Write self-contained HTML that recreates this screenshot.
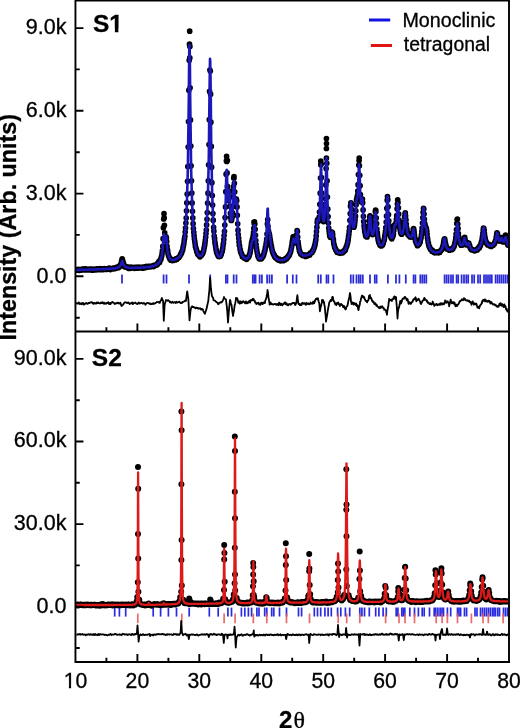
<!DOCTYPE html>
<html><head><meta charset="utf-8"><title>XRD</title>
<style>html,body{margin:0;padding:0;background:#fff;width:520px;height:728px;overflow:hidden}svg{display:block}</style>
</head><body>
<svg width="520" height="728" viewBox="0 0 520 728">
<rect width="520" height="728" fill="#fff"/>
<defs><clipPath id="c1"><rect x="76" y="1.5" width="432.2" height="329"/></clipPath><clipPath id="c2"><rect x="76" y="332.4" width="432.2" height="328.7"/></clipPath></defs>
<g clip-path="url(#c1)">
<g stroke="#2a2ad8" stroke-width="1.75"><path d="M122 274.4V283.6"/><path d="M163.6 274.4V283.6"/><path d="M166.5 274.4V283.6"/><path d="M189 274.4V283.6"/><path d="M210.2 274.4V283.6"/><path d="M225.9 274.4V283.6"/><path d="M227.5 274.4V283.6"/><path d="M233.7 274.4V283.6"/><path d="M236.5 274.4V283.6"/><path d="M252.8 274.4V283.6"/><path d="M254.3 274.4V283.6"/><path d="M255.6 274.4V283.6"/><path d="M259.6 274.4V283.6"/><path d="M261.9 274.4V283.6"/><path d="M267.1 274.4V283.6"/><path d="M269.5 274.4V283.6"/><path d="M271.9 274.4V283.6"/><path d="M287.1 274.4V283.6"/><path d="M292.8 274.4V283.6"/><path d="M296.5 274.4V283.6"/><path d="M318.2 274.4V283.6"/><path d="M320.8 274.4V283.6"/><path d="M326.5 274.4V283.6"/><path d="M328.3 274.4V283.6"/><path d="M333.5 274.4V283.6"/><path d="M350.8 274.4V283.6"/><path d="M353.3 274.4V283.6"/><path d="M356.5 274.4V283.6"/><path d="M358.8 274.4V283.6"/><path d="M360.6 274.4V283.6"/><path d="M362.8 274.4V283.6"/><path d="M370 274.4V283.6"/><path d="M374.8 274.4V283.6"/><path d="M376.6 274.4V283.6"/><path d="M387.9 274.4V283.6"/><path d="M396 274.4V283.6"/><path d="M399.4 274.4V283.6"/><path d="M405.8 274.4V283.6"/><path d="M413.6 274.4V283.6"/><path d="M415.4 274.4V283.6"/><path d="M420.3 274.4V283.6"/><path d="M422.3 274.4V283.6"/><path d="M424.3 274.4V283.6"/><path d="M426.3 274.4V283.6"/><path d="M444.6 274.4V283.6"/><path d="M446.6 274.4V283.6"/><path d="M448.6 274.4V283.6"/><path d="M451 274.4V283.6"/><path d="M453 274.4V283.6"/><path d="M456.6 274.4V283.6"/><path d="M458.2 274.4V283.6"/><path d="M461.6 274.4V283.6"/><path d="M464 274.4V283.6"/><path d="M466.3 274.4V283.6"/><path d="M468.2 274.4V283.6"/><path d="M472 274.4V283.6"/><path d="M474.2 274.4V283.6"/><path d="M478 274.4V283.6"/><path d="M480.2 274.4V283.6"/><path d="M484 274.4V283.6"/><path d="M486 274.4V283.6"/><path d="M488 274.4V283.6"/><path d="M490 274.4V283.6"/><path d="M491.8 274.4V283.6"/><path d="M495.6 274.4V283.6"/><path d="M497.6 274.4V283.6"/><path d="M499.6 274.4V283.6"/><path d="M501.6 274.4V283.6"/><path d="M503.6 274.4V283.6"/><path d="M505.6 274.4V283.6"/><path d="M507.6 274.4V283.6"/></g>
<polyline fill="none" stroke="#000" stroke-width="1.8" stroke-linejoin="round" points="76.3,303.6 76.7,303.1 77.1,303.6 77.5,303.5 77.9,303.6 78.3,303.2 78.7,302.4 79.1,302.8 79.5,303.6 79.9,304.1 80.3,303.8 80.7,303.4 81.1,303.1 81.5,304.1 81.9,304.3 82.3,303.7 82.7,303.1 83.1,302.9 83.5,303.9 83.9,304.7 84.3,304.3 84.7,304.1 85.1,303.6 85.5,303.2 85.9,303.6 86.3,303 86.7,303.1 87.1,303.5 87.5,303.8 87.9,303.7 88.3,303.4 88.7,302.9 89.1,302.7 89.5,303 89.9,302.8 90.3,302.5 90.7,302.5 91.1,302.6 91.5,302.2 91.9,302.2 92.3,302.4 92.7,303.2 93.1,303.7 93.5,303.9 93.9,302.8 94.3,302.9 94.7,303.4 95.1,303.2 95.5,303.3 95.9,303.8 96.3,303.1 96.7,302.5 97.1,302.5 97.5,303.2 97.9,303.1 98.3,302.5 98.7,302.7 99.1,303.3 99.5,303.4 99.9,303.1 100.3,303.4 100.7,303.2 101.1,302.5 101.5,302.8 101.9,303.1 102.3,302.6 102.7,302.1 103.1,302.8 103.5,303.6 103.9,303.5 104.3,302.8 104.7,303.7 105.1,303.1 105.5,303.5 105.9,303.8 106.3,303.6 106.7,303.1 107.1,302.7 107.5,303 107.9,302.5 108.3,302.3 108.7,303.9 109.1,304 109.5,303.7 109.9,303.1 110,303 110.3,304.1 110.7,303.9 111.1,303.1 111.5,302.5 111.9,302.5 112.3,301.9 112.7,302.1 113.1,302.7 113.5,302.7 113.9,302.9 114.3,303.3 114.7,304 115.1,303.9 115.5,303.5 115.9,303.5 116.3,302.9 116.7,303 117.1,303.3 117.5,302.7 117.9,302.7 118.3,302.6 118.7,303.3 119.1,303.7 119.5,303.2 119.9,303 120,303.2 120.3,302.8 120.7,303.5 121.1,305.1 121.5,306 121.9,305.6 122.2,305.5 122.3,305.5 122.7,304.9 123.1,304.6 123.5,304 123.9,303.4 124,303 124.3,302.8 124.7,302.5 125.1,302.2 125.5,302.4 125.9,302.4 126.3,302.6 126.7,302.7 127.1,303 127.5,303 127.9,302.4 128.3,302.4 128.7,302.7 129.1,303.5 129.5,304 129.9,303.7 130.3,303.3 130.7,303.5 131.1,303 131.5,303.4 131.9,302.7 132.3,302.4 132.7,304 133.1,304 133.5,303 133.9,303.1 134.3,303.1 134.7,303 135.1,302.5 135.5,302.8 135.9,303.3 136.3,303.6 136.7,303.8 137.1,303.8 137.5,304.1 137.9,303.4 138.3,303 138.7,302.4 139.1,302.7 139.5,303.5 139.9,303.2 140.3,303.4 140.7,303.2 141.1,302.9 141.5,303 141.9,303 142.3,303.2 142.7,303.7 143.1,303.6 143.5,303.1 143.9,303 144.3,303.4 144.7,303.6 145.1,304.2 145.5,304.7 145.9,304.1 146.3,303.5 146.7,303.2 147.1,302.9 147.5,302.8 147.9,302.9 148.3,303.1 148.7,303.3 149.1,303.7 149.5,303.4 149.9,303.2 150,303.5 150.3,304 150.7,304.1 151.1,304.3 151.5,304.1 151.9,303.9 152.3,303.4 152.7,303.7 153.1,304 153.5,303.1 153.9,303.5 154.3,303.8 154.7,303.3 155.1,303.3 155.5,303.2 155.9,302.6 156.3,302.5 156.7,302.1 157.1,301.9 157.5,302 157.9,302.2 158.3,302.3 158.7,302.2 159.1,301.9 159.5,302.9 159.9,302.9 160,302 160.3,301.4 160.7,300.7 161.1,300.2 161.5,299.2 161.9,298 162,298.3 162.3,300.1 162.7,299.9 163.1,301 163.1,301.3 163.5,312.5 163.8,320.8 163.9,318.6 164.3,311 164.6,305 164.7,304.7 165.1,303 165.5,301.7 165.9,300.4 166,300 166.3,300.1 166.7,300.4 167.1,300.3 167.5,300.8 167.9,300.6 168.3,300.1 168.7,300.8 169.1,301 169.5,301.6 169.9,302.3 170,302 170.3,301.6 170.7,302.5 171.1,302.5 171.5,302.8 171.9,302.3 172.3,301.8 172.7,302.2 173.1,302.8 173.5,302.7 173.9,302.4 174.3,302.2 174.7,302.1 175.1,302.3 175.5,303 175.9,302.4 176.3,301.8 176.7,302.1 177.1,302.7 177.5,302.7 177.9,302.3 178.3,302.1 178.7,302.1 179.1,301.6 179.5,301.8 179.9,302.5 180,302.5 180.3,302.7 180.7,303 181.1,302.7 181.5,302.6 181.9,303 182.3,302.5 182.7,301.9 183.1,302 183.5,301.8 183.9,301.3 184.3,301.3 184.7,301 185.1,300.4 185.5,300.7 185.9,300.8 186,301 186.3,297.8 186.7,295 187.1,292.1 187.2,291.4 187.5,293.2 187.9,296.3 188.3,298.8 188.4,300 188.7,305.8 189.1,312.6 189.5,320 189.5,320.3 189.9,316.3 190.3,312.6 190.6,310 190.7,309.9 191.1,308.1 191.5,307.2 191.9,306.5 192,307 192.3,306.4 192.7,306.7 193.1,307.1 193.5,307 193.9,307.4 194.3,307.5 194.7,307.3 195.1,307.8 195.5,308.4 195.9,308.1 196.3,307.6 196.7,307.7 197,308 197.1,308.1 197.5,308.4 197.9,308 198.3,308.3 198.7,308.8 199.1,308.5 199.5,308.5 199.9,308.2 200.3,308.3 200.7,308.9 201.1,309.7 201.5,309.2 201.9,308.9 202.3,309 202.7,309.4 203,309.5 203.1,310.2 203.5,311.5 203.9,312 204.3,313 204.7,313.6 205,313.8 205.1,313 205.5,311.9 205.9,310.8 206.3,309.2 206.5,309 206.7,308.1 207.1,306.2 207.5,304.3 207.9,302.6 208.3,301 208.3,300.9 208.7,296.4 209.1,292.5 209.4,290 209.5,288.2 209.9,280.9 210.1,277.5 210.3,279.6 210.7,285.2 211,289 211.1,289.7 211.5,293.1 211.9,295.8 212,296 212.3,296.8 212.7,297.1 213.1,297.8 213.5,300 213.5,299.6 213.9,300.1 214.3,300.5 214.7,300.7 215.1,300.6 215.5,301.4 215.9,301.5 216.3,302 216.7,302.4 217.1,302.5 217.5,302.7 217.9,303.3 218,304 218.3,304.2 218.7,303.8 219.1,303 219.5,302.7 219.9,302.6 220.3,302.6 220.7,302.1 221.1,302.6 221.5,302.1 221.9,301.7 222,302 222.3,301.8 222.7,300.7 223.1,299.8 223.5,298.7 223.9,298 224,297 224.3,297.8 224.7,298.6 225.1,298.9 225.5,299.2 225.9,299.5 226,300 226.3,302.6 226.7,305.5 227.1,309.3 227.2,310 227.5,314.5 227.9,320.1 228,322.5 228.3,318.9 228.7,313.5 229,310 229.1,308.2 229.5,304.8 229.9,300.9 230,300 230.3,300.5 230.7,302.3 231.1,303.8 231.5,305 231.5,304.7 231.9,307.9 232.3,311.5 232.7,313.7 233,316 233.1,315.1 233.5,312.8 233.9,311.3 234.2,309 234.3,308.1 234.7,305.3 235.1,303.9 235.5,301.8 235.9,299.3 236,298 236.3,298 236.7,298.3 237.1,298.1 237.5,299 237.9,301 238,301 238.3,302.8 238.7,301.9 239.1,301.4 239.5,302.7 239.9,303.7 240,302 240.3,301.3 240.7,302.4 241.1,303.1 241.5,301.9 241.9,301.7 242.3,302.7 242.7,302.2 243.1,301.2 243.5,301.3 243.9,301.6 244.3,302.3 244.7,302.7 245.1,303.4 245.5,302.7 245.9,301.4 246.3,302.5 246.7,303.3 247.1,303.3 247.5,303.2 247.9,302 248.3,301.8 248.7,302.5 249.1,301.2 249.5,300.7 249.9,302.4 250,302.5 250.3,301.4 250.7,300.3 251.1,299.8 251.5,299.9 251.9,300.5 252.3,300.2 252.7,298.9 253.1,299.7 253.5,299.8 253.5,298.8 253.9,300.5 254.3,300.5 254.7,300.6 255.1,302.6 255.5,302.3 255.9,302.9 256,303 256.3,304.1 256.7,303.3 257.1,303.5 257.5,303 257.9,303.5 258.3,302.6 258.7,303.1 259.1,304.5 259.5,303.9 259.9,303.9 260.3,304.9 260.7,303.7 261.1,302.7 261.5,303 261.9,302.6 262.3,303.9 262.7,304.1 263.1,302.7 263.5,302.4 263.9,302.9 264.3,302.8 264.7,302.4 265,303 265.1,301 265.5,300.1 265.9,299.1 266.3,297.9 266.6,297 266.7,295.6 267.1,293.7 267.5,290.9 267.5,289.9 267.9,292.1 268.3,295.3 268.5,298 268.7,298.4 269.1,301.1 269.5,303 269.5,304.6 269.9,304.5 270.3,303 270.7,302.5 271.1,303.8 271.5,304.1 271.9,304.3 272.3,304 272.7,304.5 273.1,304.6 273.5,304.4 273.9,304.2 274.3,304 274.7,303.9 275.1,304.1 275.5,304.3 275.9,304 276.3,304.9 276.7,304.4 277.1,304.5 277.5,303.9 277.9,304.2 278.3,305.3 278.7,303.8 279.1,302.6 279.5,302.9 279.9,304.1 280,304 280.3,305.1 280.7,304.5 281.1,303.6 281.5,304.2 281.9,305.1 282.3,305.4 282.7,304.2 283.1,304.4 283.5,304.1 283.9,303.3 284.3,303.6 284.7,303.1 285.1,302.2 285.5,303.9 285.9,304.4 286.3,303.4 286.7,303.2 287.1,304.9 287.5,304.9 287.9,305.3 288.3,305.3 288.7,304.2 289.1,304.4 289.5,304 289.9,303.9 290,304 290.3,304.3 290.7,304.8 291.1,304.2 291.5,303.6 291.9,303.5 292.3,303.5 292.7,302.8 293.1,302.8 293.5,303 293.9,302.8 294.3,302.9 294.7,303.3 295.1,305 295.5,304.9 295.9,303.8 296,303 296.3,303.2 296.7,300 297.1,297 297.4,295.2 297.5,296.7 297.9,300.1 298.3,302.8 298.6,304 298.7,304.1 299.1,304.1 299.5,303.9 299.9,305.1 300.3,304.3 300.7,304.2 301.1,305.1 301.5,304.9 301.9,303.4 302.3,303 302.7,302.8 303.1,303.7 303.5,303.8 303.9,303.5 304.3,303.2 304.7,303.3 305.1,303.5 305.5,304.6 305.9,304.8 306.3,302.9 306.7,303.2 307.1,303.7 307.5,304 307.9,303.3 308.3,303.3 308.7,303.3 309.1,304.3 309.5,304.2 309.9,304 310,304 310.3,303.3 310.7,302.5 311.1,303.5 311.5,303.5 311.9,303.3 312.3,303.8 312.7,303.5 313.1,301.6 313.5,301.7 313.9,303.3 314.3,303 314.7,301 315,301.3 315.1,300.2 315.5,299.8 315.9,299 316.3,299.2 316.7,298.3 317.1,298.3 317.5,299.1 317.9,298.3 318,298.5 318.3,300.3 318.7,301.9 319.1,302.6 319.2,303 319.5,305.9 319.9,311.3 320,311 320.3,308.7 320.7,307.1 321.1,305.7 321.5,303.9 321.9,302.6 322,300 322.3,300.3 322.7,300.1 323.1,300.1 323.5,301.4 323.9,302.9 324,302 324.3,304.7 324.7,306 325.1,310 325.2,312 325.5,314.3 325.9,319.2 326,321.5 326.3,319.9 326.7,317.4 327,316 327.1,315.6 327.5,312.6 327.9,309.6 328,310 328.3,307.5 328.7,306.1 329.1,303 329.5,302 329.5,302.4 329.9,301.4 330.3,300.8 330.7,300 331.1,301 331.5,300.7 331.9,298.9 332.3,296.8 332.7,296.9 333,297.5 333.1,299.6 333.5,300.2 333.9,301.4 334.3,301.6 334.7,302.7 335,304 335.1,303.9 335.5,303.2 335.9,304.8 336.3,305.1 336.7,303.3 337.1,302.9 337.5,303.9 337.9,303.2 338.3,302.5 338.7,304.3 339.1,304.6 339.5,304.7 339.9,306.1 340,304.5 340.3,304.1 340.7,304.3 341.1,303.9 341.5,304.3 341.9,305.1 342.3,304.9 342.7,305.5 343.1,307.1 343.5,307.2 343.9,307 344,306 344.3,307.4 344.7,308.4 345.1,308.6 345.5,309.5 345.9,308.5 346,309 346.3,306.8 346.7,306.4 347.1,306.4 347.5,305.6 347.9,303.2 348,303 348.3,301.4 348.7,299.5 349.1,297.9 349.4,298 349.5,295.8 349.9,293.4 350,293 350.3,294.8 350.7,297.7 350.8,300 351.1,302 351.5,303 351.5,304 351.9,303.8 352.3,302.6 352.7,302.4 353.1,304.1 353.5,304.5 353.9,302.9 354.3,303 354.7,304.1 355.1,304.4 355.5,304.8 355.9,303.6 356,303.3 356.3,303.9 356.7,306.2 357.1,305.6 357.5,305.3 357.9,307.6 358.3,309.8 358.5,310 358.7,309.2 359.1,306.9 359.5,305.6 359.9,304 360,302 360.3,302 360.7,300.4 361.1,298.4 361.5,297.2 361.9,295.7 362,295.6 362.3,296.1 362.7,295.7 363.1,297.2 363.5,297.7 363.9,296.9 364,297 364.3,297.3 364.7,298.8 365.1,299.8 365.5,300.4 365.9,301.1 366.3,301 366.7,301.4 367,302.3 367.1,302.3 367.5,301.4 367.9,300.4 368.3,300.4 368.7,298.6 369.1,295.6 369.5,295.5 369.9,295 370,295.6 370.3,298.4 370.7,297.5 371.1,297.9 371.5,298.8 371.9,300.2 372,300 372.3,301.3 372.7,300.9 373.1,302.1 373.5,301.7 373.9,302.7 374.3,304.1 374.7,304 375.1,303.1 375.5,303.4 375.9,304.3 376,305 376.3,305.7 376.7,304.8 377.1,305.7 377.5,306.5 377.9,306.7 378.3,307.1 378.7,307.9 379.1,307.7 379.5,307.8 379.9,308.2 380,307 380.3,306.5 380.7,307.8 381.1,307.6 381.5,307.2 381.9,306.5 382.3,306.2 382.7,307.3 383.1,308 383.5,308.5 383.9,308.3 384,309 384.3,309.9 384.7,309.6 385.1,309.6 385.5,309.9 385.9,310.3 386.2,312 386.3,312.1 386.7,313.2 387,314.8 387.1,313.1 387.5,310.2 387.9,308.2 388,307 388.3,306.1 388.7,302.3 389,301 389.1,298.9 389.5,299.2 389.9,300.5 390.3,300.2 390.7,300.1 391.1,299.9 391.5,300.5 391.9,301 392,300 392.3,299.1 392.7,299 393.1,299.3 393.5,297.9 393.9,297 394.3,296.4 394.7,296.6 395.1,298.4 395.5,299.3 395.9,297.3 396,297 396.3,301 396.7,305.2 397,310 397.1,311.1 397.5,317.7 397.5,318.5 397.9,312.5 398.2,310 398.3,309.8 398.7,307.8 399,307 399.1,307.3 399.5,305 399.9,303.1 400,302 400.3,300.8 400.7,302.6 401.1,303.5 401.5,302.4 401.9,301 402.3,299.1 402.7,298.8 403.1,298.3 403.5,298.4 403.9,298.8 404.3,297.7 404.7,296.9 405,297.5 405.1,296.9 405.5,297.9 405.9,297.8 406.3,298.8 406.7,300.4 407.1,299.2 407.5,299 407.9,300.3 408.3,302.7 408.7,303.9 409.1,302.9 409.5,302.2 409.9,302.9 410,303.3 410.3,303 410.7,303.9 411.1,303.7 411.5,302.3 411.9,302 412.3,302 412.7,301.5 413,300 413.1,300.5 413.5,299.6 413.9,299 414.3,299.3 414.7,299 415.1,298 415.5,297.3 415.9,298.3 416,299 416.3,301.3 416.7,300.7 417.1,300.4 417.5,299.4 417.9,299.5 418.3,299.6 418.7,298.8 419,300 419.1,299.9 419.5,300.5 419.9,301 420.3,302.5 420.7,303.6 421,304 421.1,304 421.5,302.9 421.9,302.4 422.3,301.4 422.7,300.4 423.1,300.1 423.5,300.3 423.9,300.1 424,298.8 424.3,297.9 424.7,298.4 425.1,299.2 425.5,299.8 425.9,299.7 426.3,300.2 426.7,301.3 427,301 427.1,300.6 427.5,302.5 427.9,302.9 428.3,302.4 428.7,303 429.1,303.1 429.5,304.1 429.9,303.8 430,304 430.3,303.3 430.7,303.5 431.1,304.2 431.5,304.5 431.9,304.2 432.3,303 432.7,301.5 433.1,303.1 433.5,303.2 433.9,304.8 434.3,305.9 434.7,305.4 435,305 435.1,304.7 435.5,304.6 435.9,304.2 436.3,303.9 436.7,304.1 437.1,305.3 437.5,305.1 437.9,305.1 438.3,304.4 438.7,304.2 439.1,304.2 439.5,304.7 439.9,304.9 440,304 440.3,303.2 440.7,303.4 441.1,304.6 441.5,303.6 441.9,303.4 442.3,304.5 442.7,304.4 443.1,303.4 443.5,303.2 443.9,304.3 444.3,303.4 444.7,302.6 445,302 445.1,300.5 445.5,300.8 445.9,302.4 446.3,302.8 446.7,302.2 447.1,301.4 447.5,301.3 447.9,302 448.3,302.2 448.7,304.1 449,303.5 449.1,306.3 449.5,304.7 449.9,302.7 450.3,301.1 450.7,299.7 451.1,301.2 451.5,302.5 451.9,303.3 452.3,303.2 452.7,302.8 453,302 453.1,303.1 453.5,303.5 453.9,302.3 454.3,302.3 454.7,302.9 455.1,305.4 455.5,306.2 455.9,305.6 456.3,304.6 456.7,305.4 457,306 457.1,305.8 457.5,305.2 457.9,304.8 458.3,303.9 458.7,303.8 459.1,302.9 459.5,301.6 459.9,300.9 460,301 460.3,301.3 460.7,300.8 461.1,300.6 461.5,299.8 461.9,299.2 462.3,300.1 462.7,299.6 463.1,300.2 463.5,299.7 463.9,298.1 464,299.5 464.3,298.6 464.7,298.6 465.1,298.9 465.5,300.2 465.9,300.3 466.3,300.5 466.7,300.4 467.1,300.6 467.5,300.3 467.9,300.9 468,301 468.3,301.2 468.7,300.7 469.1,300.6 469.5,301.7 469.9,302.2 470.3,301.8 470.7,301.9 471.1,303.5 471.5,304.8 471.9,303.5 472,303 472.3,302.8 472.7,301.4 473.1,302.6 473.5,303.4 473.9,304.6 474.3,303.9 474.7,303.3 475.1,303.9 475.5,304.3 475.9,304.1 476,304.6 476.3,303.6 476.7,304.7 477.1,306.4 477.5,307.6 477.9,307.1 478.3,306.9 478.7,307.7 479,306.5 479.1,308.3 479.5,307.3 479.9,305.8 480.3,305.2 480.7,304.8 481.1,304.4 481.5,303.6 481.9,301.9 482,303 482.3,300.9 482.7,300.3 483.1,301.1 483.5,300.7 483.9,299.6 484.3,300.6 484.7,300.7 485,299.4 485.1,301.4 485.5,301.4 485.9,300 486.3,300.9 486.7,301.4 487.1,301.6 487.5,301.8 487.9,301 488,301.5 488.3,300.6 488.7,301.1 489.1,301.5 489.5,301 489.9,301.7 490.3,303.2 490.7,303.5 491,303.5 491.1,301.9 491.5,302.3 491.9,303 492.3,303.5 492.7,303.7 493.1,304.6 493.5,304.3 493.9,304.2 494.3,304.5 494.7,304.9 495,304.5 495.1,305.5 495.5,305.5 495.9,305.2 496.3,305.4 496.7,306.1 497.1,306.8 497.5,306.9 497.9,306.8 498,306 498.3,306.5 498.7,306.5 499.1,305 499.5,303.7 499.9,305.2 500.3,304.6 500.7,303.2 501,304 501.1,303.9 501.5,305.9 501.9,305.2 502.3,304.1 502.7,305.2 503.1,305.9 503.5,307 503.9,305.2 504.3,304.4 504.7,306 505,307 505.1,306.1 505.5,306.1 505.9,308.5 506.3,309.8 506.7,308.9 507,310 507.1,310.5 507.5,311.6 507.9,310.5 508.3,309.7"/>
<path fill="none" stroke="#000" stroke-width="5.7" stroke-linecap="round" d="M76.3 270h0M76.6 270.1h0M77 269.9h0M77.3 269.7h0M77.6 269.8h0M77.9 269.6h0M78.3 270h0M78.6 270.4h0M78.9 269.7h0M79.3 269.7h0M79.6 270.1h0M79.9 270h0M80.3 269.9h0M80.6 269.5h0M80.9 269.8h0M81.2 270.1h0M81.6 269.4h0M81.9 269.7h0M82.2 269.2h0M82.6 269.4h0M82.9 269.2h0M83.2 269.7h0M83.6 269.3h0M83.9 269.9h0M84.2 269.8h0M84.5 269.7h0M84.9 268.9h0M85.2 269.5h0M85.5 269.7h0M85.9 269.8h0M86.2 269.2h0M86.5 269.5h0M86.9 269.3h0M87.2 269.4h0M87.5 270h0M87.8 269.4h0M88.2 269.6h0M88.5 269.9h0M88.8 269.4h0M89.2 269.6h0M89.5 269.6h0M89.8 269.6h0M90.2 269.2h0M90.5 269.6h0M90.8 270h0M91.1 269h0M91.5 269.8h0M91.8 269.6h0M92.1 269.3h0M92.5 270.2h0M92.8 269.8h0M93.1 269.1h0M93.5 269.5h0M93.8 269.7h0M94.1 269.4h0M94.4 269.7h0M94.8 269.4h0M95.1 269.7h0M95.4 269.9h0M95.8 269.2h0M96.1 269.5h0M96.4 269.2h0M96.8 269.4h0M97.1 268.9h0M97.4 269.1h0M97.7 269.3h0M98.1 269.6h0M98.4 269.7h0M98.7 268.8h0M99.1 269h0M99.4 269.5h0M99.7 268.6h0M100.1 269.1h0M100.4 269.2h0M100.7 269.7h0M101 269.5h0M101.4 269.1h0M101.7 269.1h0M102 269.1h0M102.4 269.7h0M102.7 269h0M103 269h0M103.4 269.2h0M103.7 269.1h0M104 269h0M104.3 268.7h0M104.7 269.1h0M105 268.9h0M105.3 269.4h0M105.7 269.3h0M106 269h0M106.3 269.2h0M106.7 268.9h0M107 269.3h0M107.3 268.9h0M107.6 269.1h0M108 268.5h0M108.3 269h0M108.6 268.3h0M109 268.1h0M109.3 268.7h0M109.6 268.5h0M110 268.9h0M110.3 269.6h0M110.6 268.5h0M110.9 268.5h0M111.3 268.8h0M111.6 268.9h0M111.9 268.6h0M112.3 268.6h0M112.6 268.9h0M112.9 268.8h0M113.3 268.2h0M113.6 268.5h0M113.9 268.5h0M114.2 268.1h0M114.6 268.5h0M114.9 268h0M115.2 268.6h0M115.6 268.3h0M115.9 268.2h0M116.2 267.9h0M116.6 268h0M116.9 267.2h0M117.2 267.4h0M117.5 267.8h0M117.9 266.8h0M118.2 267.7h0M118.5 266.6h0M118.9 267.3h0M119.2 266.5h0M119.5 266.8h0M119.9 266.2h0M120.2 265.2h0M120.5 265.6h0M120.8 264.8h0M121.2 263.1h0M121.5 261.5h0M121.8 260h0M122.2 258.9h0M122.5 260.1h0M122.8 261h0M123.2 262.7h0M123.5 263.7h0M123.8 264.7h0M124.1 265.1h0M124.5 266.4h0M124.8 266.2h0M125.1 266.9h0M125.5 266.8h0M125.8 266.7h0M126.1 267h0M126.5 267h0M126.8 267.3h0M127.1 267.3h0M127.4 267.4h0M127.8 267.1h0M128.1 267.4h0M128.4 268.3h0M128.8 267.5h0M129.1 267.4h0M129.4 267.9h0M129.8 268.3h0M130.1 267.3h0M130.4 267.8h0M130.7 267.6h0M131.1 267.2h0M131.4 268.1h0M131.7 267.9h0M132.1 267.9h0M132.4 267.6h0M132.7 268h0M133.1 267.7h0M133.4 267.8h0M133.7 267.5h0M134 267.4h0M134.4 268.3h0M134.7 267.7h0M135 267.9h0M135.4 267.8h0M135.7 267.7h0M136 267.6h0M136.4 268h0M136.7 267.7h0M137 267.7h0M137.3 267.8h0M137.7 268.2h0M138 268h0M138.3 267.9h0M138.7 267.5h0M139 267.2h0M139.3 268h0M139.7 268h0M140 267.6h0M140.3 267.8h0M140.6 267.9h0M141 267.9h0M141.3 267.9h0M141.6 267.4h0M142 268.1h0M142.3 267.1h0M142.6 267.8h0M143 267.6h0M143.3 267.8h0M143.6 268.1h0M143.9 267.9h0M144.3 267h0M144.6 266.8h0M144.9 267.6h0M145.3 266.9h0M145.6 267.3h0M145.9 267.5h0M146.3 266.6h0M146.6 266.4h0M146.9 267.2h0M147.2 267.1h0M147.6 267h0M147.9 267.1h0M148.2 266.7h0M148.6 266.4h0M148.9 266.9h0M149.2 266.6h0M149.6 266.3h0M149.9 267h0M150.2 266.7h0M150.5 266.8h0M150.9 266.3h0M151.2 266.3h0M151.5 266.1h0M151.9 266.1h0M152.2 266.4h0M152.5 265.9h0M152.9 266.2h0M153.2 266.1h0M153.5 266.6h0M153.8 265.3h0M154.2 266h0M154.5 265.5h0M154.8 265.4h0M155.2 264.8h0M155.5 265h0M155.8 265.3h0M156.2 264.8h0M156.5 264.7h0M156.8 264.4h0M157.1 264.7h0M157.5 264h0M157.8 263h0M158.1 263.3h0M158.5 262.5h0M158.8 261.7h0M159.1 262.2h0M159.5 262.4h0M159.8 261.4h0M160.1 260.4h0M160.4 259.7h0M160.8 259.6h0M161.1 258.2h0M161.4 256.9h0M161.8 255.4h0M162.1 253.4h0M162.4 250.9h0M162.8 246.4h0M163.1 238.7h0M163.4 227.7h0M163.7 219h0M164.1 217.9h0M164.4 225.3h0M164.7 232.8h0M165.1 238.3h0M165.4 239.5h0M165.7 237.4h0M166.1 236.8h0M166.4 238h0M166.7 241.4h0M167 246.2h0M167.4 249.4h0M167.7 250.8h0M168 253.7h0M168.4 255h0M168.7 256.2h0M169 256.7h0M169.4 257.7h0M169.7 258.3h0M170 259.2h0M170.3 259.3h0M170.7 259.4h0M171 260.2h0M171.3 259.6h0M171.7 259.8h0M172 259.4h0M172.3 260.6h0M172.7 260.4h0M173 260.4h0M173.3 260.3h0M173.6 260h0M174 260h0M174.3 259.7h0M174.6 259.6h0M175 259.6h0M175.3 259.9h0M175.6 259.4h0M176 259h0M176.3 258.7h0M176.6 258.6h0M176.9 259.2h0M177.3 258.7h0M177.6 258.3h0M177.9 258h0M178.3 257.5h0M178.6 257.5h0M178.9 257.6h0M179.3 256.8h0M179.6 256.4h0M179.9 256h0M180.2 255.6h0M180.6 254.4h0M180.9 254.3h0M181.2 253.3h0M181.6 253.2h0M181.9 251.7h0M182.2 251.1h0M182.6 250.3h0M182.9 248.4h0M183.2 246.8h0M183.5 245.4h0M183.9 243.4h0M184.2 240.8h0M184.5 238.7h0M184.9 236.3h0M185.2 232.1h0M185.5 228.1h0M185.9 223h0M186.2 218h0M186.5 210.8h0M186.8 202.8h0M187.2 194h0M187.5 181.3h0M187.8 166.6h0M188.2 147.1h0M188.5 121.6h0M188.8 90.3h0M189.2 60.3h0M189.5 44h0M189.8 57.9h0M190.1 87.8h0M190.5 119.9h0M190.8 146.1h0M191.1 165.8h0M191.5 180.8h0M191.8 193h0M192.1 202.9h0M192.5 211.3h0M192.8 217.9h0M193.1 223.7h0M193.4 228.5h0M193.8 232.4h0M194.1 235.9h0M194.4 239h0M194.8 241.5h0M195.1 244h0M195.4 246.4h0M195.8 247.6h0M196.1 248.9h0M196.4 249.6h0M196.7 251.4h0M197.1 251.5h0M197.4 252.5h0M197.7 254h0M198.1 254.6h0M198.4 254.8h0M198.7 254.6h0M199.1 255.4h0M199.4 255.5h0M199.7 256.1h0M200 256.8h0M200.4 256.1h0M200.7 255.6h0M201 255.2h0M201.4 255.3h0M201.7 254.9h0M202 254.1h0M202.4 253.9h0M202.7 252.7h0M203 252.7h0M203.3 251.6h0M203.7 250.5h0M204 248.5h0M204.3 247.3h0M204.7 245.2h0M205 242.9h0M205.3 240.3h0M205.7 237h0M206 233.5h0M206.3 230.1h0M206.6 224.9h0M207 219.3h0M207.3 212.5h0M207.6 203.1h0M208 193.2h0M208.3 180.8h0M208.6 164.8h0M209 144.5h0M209.3 119.7h0M209.6 91.4h0M209.9 70h0M210.3 70.9h0M210.6 94.2h0M210.9 122.2h0M211.3 146.4h0M211.6 167.2h0M211.9 182.7h0M212.3 195.6h0M212.6 205.1h0M212.9 213.5h0M213.2 220.2h0M213.6 227.3h0M213.9 231.2h0M214.2 236h0M214.6 238.7h0M214.9 242h0M215.2 244h0M215.6 246.6h0M215.9 249h0M216.2 249.9h0M216.5 252.1h0M216.9 253h0M217.2 253.6h0M217.5 254.6h0M217.9 255.3h0M218.2 256.1h0M218.5 256.3h0M218.9 256.4h0M219.2 256.6h0M219.5 256.3h0M219.8 256h0M220.2 256.2h0M220.5 256.1h0M220.8 254.6h0M221.2 254.5h0M221.5 253.3h0M221.8 252.1h0M222.2 251.4h0M222.5 249.4h0M222.8 248.2h0M223.1 245.2h0M223.5 243h0M223.8 239.5h0M224.1 235.5h0M224.5 231.3h0M224.8 225.1h0M225.1 217.6h0M225.5 206.9h0M225.8 191.7h0M226.1 174.2h0M226.4 160.9h0M226.8 161.5h0M227.1 172.9h0M227.4 186.4h0M227.8 195h0M228.1 200.3h0M228.4 200.6h0M228.8 197.6h0M229.1 192.7h0M229.4 191.2h0M229.7 196.6h0M230.1 206.2h0M230.4 213.3h0M230.7 217.6h0M231.1 220.3h0M231.4 220.5h0M231.7 219.6h0M232.1 217.4h0M232.4 212.5h0M232.7 206.4h0M233 197h0M233.4 186.7h0M233.7 178h0M234 177.9h0M234.4 183.3h0M234.7 191.8h0M235 198.5h0M235.4 202.2h0M235.7 203h0M236 202h0M236.3 199.2h0M236.7 200.6h0M237 206.9h0M237.3 215.3h0M237.7 223.8h0M238 230.2h0M238.3 234.5h0M238.7 238.3h0M239 241.9h0M239.3 245.2h0M239.6 245.9h0M240 249h0M240.3 250h0M240.6 252.1h0M241 252.5h0M241.3 253.7h0M241.6 254.1h0M242 255h0M242.3 256.4h0M242.6 256.7h0M242.9 256.7h0M243.3 256.9h0M243.6 256.8h0M243.9 257.6h0M244.3 257.9h0M244.6 258h0M244.9 258.2h0M245.3 258h0M245.6 258.5h0M245.9 258.6h0M246.2 259.1h0M246.6 259.3h0M246.9 258.5h0M247.2 258.1h0M247.6 258.1h0M247.9 257.6h0M248.2 257.2h0M248.6 256.9h0M248.9 256h0M249.2 255.8h0M249.5 254.6h0M249.9 253.6h0M250.2 252h0M250.5 250h0M250.9 247.8h0M251.2 245.5h0M251.5 243h0M251.9 241.5h0M252.2 240.3h0M252.5 239h0M252.8 238.2h0M253.2 235.5h0M253.5 232.5h0M253.8 228.4h0M254.2 223.6h0M254.5 221.9h0M254.8 224.1h0M255.2 229.3h0M255.5 235.3h0M255.8 240.6h0M256.1 244.6h0M256.5 248.1h0M256.8 250.4h0M257.1 252.6h0M257.5 253.8h0M257.8 255.5h0M258.1 256.6h0M258.5 257.3h0M258.8 257.8h0M259.1 258.5h0M259.4 258.1h0M259.8 259h0M260.1 259h0M260.4 259h0M260.8 258.9h0M261.1 258.4h0M261.4 258.3h0M261.8 258.3h0M262.1 257.8h0M262.4 257.3h0M262.7 256.1h0M263.1 256.2h0M263.4 255.6h0M263.7 254.7h0M264.1 253.4h0M264.4 251.7h0M264.7 251.3h0M265.1 249.6h0M265.4 247.3h0M265.7 246.8h0M266 244.3h0M266.4 242.1h0M266.7 239.1h0M267 234h0M267.4 223.9h0M267.7 219.7h0M268 226.4h0M268.4 230.6h0M268.7 231.9h0M269 233h0M269.3 233.9h0M269.7 235.8h0M270 238.2h0M270.3 240.3h0M270.7 242.3h0M271 244.7h0M271.3 245.9h0M271.7 247.8h0M272 249.6h0M272.3 250.8h0M272.6 252.1h0M273 252.9h0M273.3 253.5h0M273.6 254.6h0M274 254.8h0M274.3 255.2h0M274.6 256.5h0M275 256.8h0M275.3 257.4h0M275.6 257.1h0M275.9 257.9h0M276.3 258.1h0M276.6 258.3h0M276.9 258.1h0M277.3 259h0M277.6 259.6h0M277.9 259.6h0M278.3 259.4h0M278.6 259.8h0M278.9 260.2h0M279.2 259h0M279.6 260h0M279.9 260.3h0M280.2 260.4h0M280.6 260.8h0M280.9 260.6h0M281.2 260.3h0M281.6 260.3h0M281.9 260.5h0M282.2 260h0M282.5 260.1h0M282.9 260.4h0M283.2 260.7h0M283.5 259.9h0M283.9 259.8h0M284.2 259.8h0M284.5 260h0M284.9 259.4h0M285.2 259.8h0M285.5 258.7h0M285.8 258.8h0M286.2 258.6h0M286.5 258.7h0M286.8 258.5h0M287.2 257.3h0M287.5 257.1h0M287.8 257.2h0M288.2 256.4h0M288.5 255.7h0M288.8 256.1h0M289.1 255.3h0M289.5 254.7h0M289.8 253.6h0M290.1 253.3h0M290.5 251.9h0M290.8 251.1h0M291.1 249h0M291.5 247.2h0M291.8 245.5h0M292.1 242.9h0M292.4 241h0M292.8 238.8h0M293.1 236.9h0M293.4 236.7h0M293.8 237h0M294.1 238.7h0M294.4 239.6h0M294.8 241h0M295.1 242.4h0M295.4 243h0M295.7 242.6h0M296.1 240.6h0M296.4 238.2h0M296.7 234.8h0M297.1 230.7h0M297.4 231.5h0M297.7 237h0M298.1 241.8h0M298.4 244.6h0M298.7 246.8h0M299 248.6h0M299.4 250.7h0M299.7 251.2h0M300 252.3h0M300.4 253.1h0M300.7 253.8h0M301 253.9h0M301.4 254.5h0M301.7 254.3h0M302 254.8h0M302.3 254.7h0M302.7 255.6h0M303 255.4h0M303.3 255.2h0M303.7 255.4h0M304 255.5h0M304.3 255.8h0M304.7 255h0M305 255.2h0M305.3 255.4h0M305.6 256.4h0M306 255.8h0M306.3 255.3h0M306.6 255.5h0M307 255.9h0M307.3 255h0M307.6 254.8h0M308 255.3h0M308.3 255h0M308.6 254.9h0M308.9 254.4h0M309.3 255.1h0M309.6 254.9h0M309.9 254.3h0M310.3 254.1h0M310.6 252.9h0M310.9 253.6h0M311.3 253h0M311.6 252.9h0M311.9 252.6h0M312.2 251.8h0M312.6 250.8h0M312.9 251h0M313.2 249.9h0M313.6 249.3h0M313.9 248.4h0M314.2 247.5h0M314.6 245.6h0M314.9 245.4h0M315.2 243.5h0M315.5 241.8h0M315.9 239.6h0M316.2 235.9h0M316.5 231.5h0M316.9 227.2h0M317.2 222.4h0M317.5 219.8h0M317.9 219.7h0M318.2 219.9h0M318.5 221.1h0M318.8 219.2h0M319.2 217.1h0M319.5 212.1h0M319.8 204.3h0M320.2 193.2h0M320.5 178.1h0M320.8 164.7h0M321.2 164h0M321.5 177.6h0M321.8 193.2h0M322.1 204.4h0M322.5 211.9h0M322.8 216.6h0M323.1 219.2h0M323.5 221.6h0M323.8 221.3h0M324.1 220.2h0M324.5 217.9h0M324.8 214h0M325.1 207.6h0M325.4 198.6h0M325.8 184.9h0M326.1 168.5h0M326.4 158.2h0M326.8 163.3h0M327.1 180.8h0M327.4 197.1h0M327.8 209.1h0M328.1 216.6h0M328.4 223h0M328.7 228h0M329.1 231.1h0M329.4 233.6h0M329.7 235.9h0M330.1 236.3h0M330.4 237.2h0M330.7 237.2h0M331.1 237.3h0M331.4 234.9h0M331.7 233.6h0M332 232.1h0M332.4 232.6h0M332.7 234.7h0M333 238.1h0M333.4 239.9h0M333.7 243.1h0M334 244.6h0M334.4 245.9h0M334.7 247.5h0M335 248h0M335.3 248.4h0M335.7 249.7h0M336 249.9h0M336.3 250.6h0M336.7 251.4h0M337 251.8h0M337.3 252.5h0M337.7 252.1h0M338 251.9h0M338.3 252.3h0M338.6 252.4h0M339 252.4h0M339.3 253.1h0M339.6 252.8h0M340 252.3h0M340.3 253.3h0M340.6 253h0M341 253.1h0M341.3 252.9h0M341.6 253h0M341.9 252.7h0M342.3 253h0M342.6 252.5h0M342.9 252.3h0M343.3 252.1h0M343.6 251.1h0M343.9 251.3h0M344.3 250.9h0M344.6 250.7h0M344.9 249.7h0M345.2 250.2h0M345.6 249.1h0M345.9 247.9h0M346.2 247h0M346.6 246.6h0M346.9 245.6h0M347.2 244.2h0M347.6 243.1h0M347.9 241.2h0M348.2 239.7h0M348.5 236.9h0M348.9 234.3h0M349.2 231.2h0M349.5 227.3h0M349.9 220.3h0M350.2 213.5h0M350.5 206.2h0M350.9 202.9h0M351.2 203.7h0M351.5 209.4h0M351.8 215.4h0M352.2 219.8h0M352.5 223.2h0M352.8 225.4h0M353.2 226.1h0M353.5 226.9h0M353.8 227.2h0M354.2 226.6h0M354.5 225.1h0M354.8 222.4h0M355.1 219.8h0M355.5 216.2h0M355.8 210.8h0M356.1 204.8h0M356.5 200h0M356.8 198.6h0M357.1 197.4h0M357.5 195.4h0M357.8 191.2h0M358.1 184.7h0M358.4 174.5h0M358.8 165h0M359.1 160.5h0M359.4 165.7h0M359.8 175.3h0M360.1 185.7h0M360.4 194.5h0M360.8 199.2h0M361.1 201.4h0M361.4 202.1h0M361.7 200.9h0M362.1 199.4h0M362.4 199.2h0M362.7 202.8h0M363.1 209.9h0M363.4 216.3h0M363.7 221.5h0M364.1 225.9h0M364.4 228.6h0M364.7 231.2h0M365 232.4h0M365.4 234.5h0M365.7 236.1h0M366 236.3h0M366.4 236.6h0M366.7 236.7h0M367 237h0M367.4 235.5h0M367.7 234.9h0M368 233.8h0M368.3 231.9h0M368.7 228.7h0M369 225.4h0M369.3 220.7h0M369.7 217.1h0M370 215.9h0M370.3 218.6h0M370.7 223.3h0M371 227.5h0M371.3 229.8h0M371.6 232.1h0M372 233.8h0M372.3 233.9h0M372.6 234.6h0M373 233.9h0M373.3 233.9h0M373.6 232.9h0M374 230.6h0M374.3 226.6h0M374.6 222.4h0M374.9 216.8h0M375.3 211.5h0M375.6 210h0M375.9 211.6h0M376.3 218h0M376.6 223.6h0M376.9 229.1h0M377.3 232.7h0M377.6 235.5h0M377.9 238.2h0M378.2 240.2h0M378.6 241.4h0M378.9 242.7h0M379.2 243.3h0M379.6 243.4h0M379.9 245h0M380.2 245.3h0M380.6 245.4h0M380.9 245.5h0M381.2 245.9h0M381.5 245.3h0M381.9 245h0M382.2 244.9h0M382.5 244.9h0M382.9 243.5h0M383.2 243.6h0M383.5 242.1h0M383.9 240.8h0M384.2 240.3h0M384.5 238.3h0M384.8 235.9h0M385.2 233.8h0M385.5 231.3h0M385.8 227.5h0M386.2 222h0M386.5 216.1h0M386.8 208.3h0M387.2 200.2h0M387.5 196.5h0M387.8 199.7h0M388.1 206.8h0M388.5 214.5h0M388.8 220.8h0M389.1 225.4h0M389.5 228.8h0M389.8 231.5h0M390.1 234.1h0M390.5 235.4h0M390.8 236.8h0M391.1 237.7h0M391.4 238h0M391.8 238.8h0M392.1 237.5h0M392.4 237.5h0M392.8 236.3h0M393.1 235.8h0M393.4 234h0M393.8 230.4h0M394.1 228h0M394.4 226.1h0M394.7 224.9h0M395.1 224.9h0M395.4 224.7h0M395.7 224.3h0M396.1 222.6h0M396.4 219.4h0M396.7 215.5h0M397.1 208.8h0M397.4 204h0M397.7 199.9h0M398 202.5h0M398.4 207.8h0M398.7 214.1h0M399 220.1h0M399.4 223.8h0M399.7 227h0M400 229.1h0M400.4 231.3h0M400.7 232.6h0M401 233.6h0M401.3 233.7h0M401.7 234.2h0M402 233.8h0M402.3 233.3h0M402.7 232.8h0M403 232h0M403.3 230h0M403.7 227.9h0M404 225.2h0M404.3 221.6h0M404.6 216.9h0M405 213.8h0M405.3 212.8h0M405.6 216h0M406 219.9h0M406.3 224.3h0M406.6 227.5h0M407 229.6h0M407.3 232.2h0M407.6 233h0M407.9 234.5h0M408.3 235h0M408.6 235h0M408.9 235.5h0M409.3 236.1h0M409.6 236.2h0M409.9 236.6h0M410.3 236.9h0M410.6 236.5h0M410.9 237.1h0M411.2 236.3h0M411.6 236.9h0M411.9 235.9h0M412.2 234.9h0M412.6 233.7h0M412.9 232h0M413.2 229.4h0M413.6 228.5h0M413.9 229.9h0M414.2 232h0M414.5 235.1h0M414.9 238.2h0M415.2 239.1h0M415.5 241.1h0M415.9 241.6h0M416.2 243.1h0M416.5 243.6h0M416.9 244.3h0M417.2 245.1h0M417.5 245.7h0M417.8 245.1h0M418.2 245h0M418.5 244.3h0M418.8 244.5h0M419.2 243.8h0M419.5 243.6h0M419.8 242.5h0M420.2 242.1h0M420.5 239.7h0M420.8 238.8h0M421.1 237.4h0M421.5 234.8h0M421.8 231.7h0M422.1 228.2h0M422.5 223.1h0M422.8 217.7h0M423.1 212.4h0M423.5 208.4h0M423.8 209.1h0M424.1 214h0M424.4 219.3h0M424.8 223.7h0M425.1 225.4h0M425.4 226.7h0M425.8 227.5h0M426.1 227.8h0M426.4 228.7h0M426.8 231.2h0M427.1 234.3h0M427.4 237.5h0M427.7 239.3h0M428.1 242.2h0M428.4 243.2h0M428.7 244.9h0M429.1 246.5h0M429.4 247.1h0M429.7 247.1h0M430.1 248.5h0M430.4 249.2h0M430.7 249h0M431 249.4h0M431.4 250.1h0M431.7 249.9h0M432 251.3h0M432.4 250.3h0M432.7 251h0M433 251.5h0M433.4 251.7h0M433.7 252h0M434 252.2h0M434.3 252.2h0M434.7 252.8h0M435 251.8h0M435.3 252.5h0M435.7 252.3h0M436 252.6h0M436.3 252.6h0M436.7 252.2h0M437 252.3h0M437.3 252.7h0M437.6 252.5h0M438 252.1h0M438.3 252.9h0M438.6 252.9h0M439 251.5h0M439.3 251.9h0M439.6 252.5h0M440 251.7h0M440.3 251.3h0M440.6 250.8h0M440.9 250.4h0M441.3 250.1h0M441.6 249.5h0M441.9 249.4h0M442.3 248.3h0M442.6 247.4h0M442.9 246h0M443.3 245h0M443.6 242.9h0M443.9 241h0M444.2 239.6h0M444.6 238.9h0M444.9 240.1h0M445.2 242.1h0M445.6 243.8h0M445.9 245.3h0M446.2 246.3h0M446.6 247.6h0M446.9 247.6h0M447.2 248.9h0M447.5 248.9h0M447.9 248.9h0M448.2 249.3h0M448.5 249.4h0M448.9 249.8h0M449.2 249.6h0M449.5 250.2h0M449.9 249.6h0M450.2 249h0M450.5 249.5h0M450.8 249h0M451.2 249.5h0M451.5 249.7h0M451.8 249.4h0M452.2 248.4h0M452.5 248.3h0M452.8 248.8h0M453.2 247.8h0M453.5 247.2h0M453.8 246.9h0M454.1 246.6h0M454.5 245.2h0M454.8 243.7h0M455.1 242.3h0M455.5 240.6h0M455.8 237.7h0M456.1 234.1h0M456.5 229.6h0M456.8 223.6h0M457.1 219.5h0M457.4 219.2h0M457.8 224h0M458.1 228.5h0M458.4 233.6h0M458.8 237h0M459.1 239.6h0M459.4 241.5h0M459.8 242.2h0M460.1 243.1h0M460.4 243.5h0M460.7 244.3h0M461.1 245.2h0M461.4 245.2h0M461.7 244.9h0M462.1 245.1h0M462.4 244.9h0M462.7 244.7h0M463.1 243.6h0M463.4 242.7h0M463.7 240.8h0M464 239.4h0M464.4 239h0M464.7 237.4h0M465 239.1h0M465.4 241h0M465.7 242.3h0M466 243.2h0M466.4 244.2h0M466.7 244.7h0M467 244.9h0M467.3 244.2h0M467.7 244.4h0M468 243.6h0M468.3 243.1h0M468.7 243.1h0M469 243.8h0M469.3 245h0M469.7 245.7h0M470 247.2h0M470.3 248h0M470.6 248.6h0M471 249.2h0M471.3 249h0M471.6 249.3h0M472 249.9h0M472.3 249.4h0M472.6 250.1h0M473 250h0M473.3 250.1h0M473.6 249.8h0M473.9 250.1h0M474.3 250.5h0M474.6 250.8h0M474.9 250.7h0M475.3 250.3h0M475.6 250.1h0M475.9 249.8h0M476.3 250h0M476.6 249.6h0M476.9 249.8h0M477.2 250h0M477.6 249.1h0M477.9 248.3h0M478.2 248.3h0M478.6 247.7h0M478.9 247.4h0M479.2 247.9h0M479.6 247.1h0M479.9 245.9h0M480.2 246h0M480.5 245.5h0M480.9 244.1h0M481.2 242.9h0M481.5 241.8h0M481.9 240.5h0M482.2 238.7h0M482.5 236.4h0M482.9 233.3h0M483.2 230h0M483.5 228h0M483.8 228.4h0M484.2 230.3h0M484.5 233.9h0M484.8 236.6h0M485.2 238.4h0M485.5 240.4h0M485.8 241.1h0M486.2 241.8h0M486.5 243.3h0M486.8 243.6h0M487.1 243.9h0M487.5 244.5h0M487.8 244.9h0M488.1 244.8h0M488.5 244.1h0M488.8 244.9h0M489.1 245.2h0M489.5 245.2h0M489.8 245.7h0M490.1 246.1h0M490.4 245.6h0M490.8 245.4h0M491.1 246.5h0M491.4 245.6h0M491.8 245.2h0M492.1 245.7h0M492.4 245.6h0M492.8 245h0M493.1 245.3h0M493.4 244.6h0M493.7 244.1h0M494.1 244.1h0M494.4 243.8h0M494.7 242.7h0M495.1 242.2h0M495.4 241.1h0M495.7 240.9h0M496.1 238h0M496.4 236.6h0M496.7 234h0M497 232.8h0M497.4 233.6h0M497.7 235.4h0M498 237.4h0M498.4 238.5h0M498.7 239.3h0M499 240h0M499.4 240.8h0M499.7 241h0M500 241.1h0M500.3 240.4h0M500.7 240h0M501 239.3h0M501.3 238.2h0M501.7 237.7h0M502 238.6h0M502.3 239.5h0M502.7 241.3h0M503 240.9h0M503.3 241.9h0M503.6 241.5h0M504 241.5h0M504.3 240.4h0M504.6 238.6h0M505 237h0M505.3 235.6h0M505.6 235.2h0M506 236h0M506.3 238.2h0M506.6 240.8h0M506.9 241.4h0M507.3 243.4h0M507.6 243.9h0M507.9 245.1h0M189.7 31.2h0M189.5 44.4h0M189.9 46.4h0M164 213.7h0M164.2 218h0M226.6 156.4h0M227.4 160.5h0M234 176.6h0M326.4 138.6h0M326.5 143.5h0M326.4 148.5h0M359.2 158.1h0M320.8 161.2h0M254 222h0M375.8 210.5h0"/>
<polyline fill="none" stroke="#1c18b8" stroke-width="2.6" stroke-linejoin="round" points="76,270 76.2,270 76.5,270 76.8,270 77,270 77.2,270 77.5,270 77.8,269.9 78,269.9 78.2,269.9 78.5,269.9 78.8,269.9 79,269.9 79.2,269.9 79.5,269.9 79.8,269.9 80,269.9 80.2,269.9 80.5,269.9 80.8,269.9 81,269.9 81.2,269.8 81.5,269.8 81.8,269.8 82,269.8 82.2,269.8 82.5,269.8 82.8,269.8 83,269.8 83.2,269.8 83.5,269.8 83.8,269.8 84,269.8 84.2,269.8 84.5,269.8 84.8,269.7 85,269.7 85.2,269.7 85.5,269.7 85.8,269.7 86,269.7 86.2,269.7 86.5,269.7 86.8,269.7 87,269.7 87.2,269.7 87.5,269.7 87.8,269.7 88,269.6 88.2,269.6 88.5,269.6 88.8,269.6 89,269.6 89.2,269.6 89.5,269.6 89.8,269.6 90,269.6 90.2,269.6 90.5,269.6 90.8,269.6 91,269.6 91.2,269.5 91.5,269.5 91.8,269.5 92,269.5 92.2,269.5 92.5,269.5 92.8,269.5 93,269.5 93.2,269.5 93.5,269.5 93.8,269.5 94,269.5 94.2,269.4 94.5,269.4 94.8,269.4 95,269.4 95.2,269.4 95.5,269.4 95.8,269.4 96,269.4 96.2,269.4 96.5,269.4 96.8,269.4 97,269.4 97.2,269.3 97.5,269.3 97.8,269.3 98,269.3 98.2,269.3 98.5,269.3 98.8,269.3 99,269.3 99.2,269.3 99.5,269.3 99.8,269.3 100,269.3 100.2,269.2 100.5,269.2 100.8,269.2 101,269.2 101.2,269.2 101.5,269.2 101.8,269.2 102,269.2 102.2,269.2 102.5,269.2 102.8,269.1 103,269.1 103.2,269.1 103.5,269.1 103.8,269.1 104,269.1 104.2,269.1 104.5,269.1 104.8,269.1 105,269.1 105.2,269 105.5,269 105.8,269 106,269 106.2,269 106.5,269 106.8,269 107,269 107.2,269 107.5,268.9 107.8,268.9 108,268.9 108.2,268.9 108.5,268.9 108.8,268.9 109,268.9 109.2,268.8 109.5,268.8 109.8,268.8 110,268.8 110.2,268.8 110.5,268.8 110.8,268.8 111,268.7 111.2,268.7 111.5,268.7 111.8,268.7 112,268.7 112.2,268.6 112.5,268.6 112.8,268.6 113,268.6 113.2,268.5 113.5,268.5 113.8,268.5 114,268.5 114.2,268.4 114.5,268.4 114.8,268.4 115,268.3 115.2,268.3 115.5,268.2 115.8,268.2 116,268.1 116.2,268.1 116.5,268 116.8,268 117,267.9 117.2,267.8 117.5,267.7 117.8,267.6 118,267.5 118.2,267.4 118.5,267.3 118.8,267.1 119,267 119.2,266.8 119.5,266.6 119.8,266.3 120,266 120.2,265.7 120.5,265.3 120.8,264.8 121,264.2 121.2,263.5 121.5,262.7 121.8,261.9 122,261.2 122.2,261 122.5,261.4 122.8,262.1 123,263 123.2,263.7 123.5,264.4 123.8,264.9 124,265.3 124.2,265.7 124.5,266 124.8,266.2 125,266.4 125.2,266.6 125.5,266.8 125.8,266.9 126,267.1 126.2,267.2 126.5,267.2 126.8,267.3 127,267.4 127.2,267.5 127.5,267.5 127.8,267.6 128,267.6 128.2,267.7 128.5,267.7 128.8,267.7 129,267.7 129.2,267.8 129.5,267.8 129.8,267.8 130,267.8 130.2,267.8 130.5,267.8 130.8,267.9 131,267.9 131.2,267.9 131.5,267.9 131.8,267.9 132,267.9 132.2,267.9 132.5,267.9 132.8,267.9 133,267.9 133.2,267.9 133.5,267.9 133.8,267.9 134,267.9 134.2,267.9 134.5,267.9 134.8,267.9 135,267.8 135.2,267.8 135.5,267.8 135.8,267.8 136,267.8 136.2,267.8 136.5,267.8 136.8,267.8 137,267.8 137.2,267.8 137.5,267.8 137.8,267.8 138,267.7 138.2,267.7 138.5,267.7 138.8,267.7 139,267.7 139.2,267.7 139.5,267.7 139.8,267.7 140,267.6 140.2,267.6 140.5,267.6 140.8,267.6 141,267.6 141.2,267.6 141.5,267.6 141.8,267.6 142,267.5 142.2,267.5 142.5,267.5 142.8,267.5 143,267.5 143.2,267.5 143.5,267.4 143.8,267.4 144,267.4 144.2,267.4 144.5,267.4 144.8,267.3 145,267.3 145.2,267.3 145.5,267.3 145.8,267.3 146,267.2 146.2,267.2 146.5,267.2 146.8,267.2 147,267.1 147.2,267.1 147.5,267.1 147.8,267.1 148,267 148.2,267 148.5,267 148.8,267 149,266.9 149.2,266.9 149.5,266.9 149.8,266.8 150,266.8 150.2,266.7 150.5,266.7 150.8,266.6 151,266.6 151.2,266.5 151.5,266.5 151.8,266.4 152,266.3 152.2,266.3 152.5,266.2 152.8,266.1 153,266.1 153.2,266 153.5,265.9 153.8,265.8 154,265.7 154.2,265.7 154.5,265.6 154.8,265.5 155,265.4 155.2,265.3 155.5,265.2 155.8,265.1 156,264.9 156.2,264.8 156.5,264.7 156.8,264.5 157,264.4 157.2,264.2 157.5,264 157.8,263.8 158,263.6 158.2,263.4 158.5,263.1 158.8,262.9 159,262.6 159.2,262.3 159.5,261.9 159.8,261.5 160,261 160.2,260.5 160.5,259.9 160.8,259.3 161,258.5 161.2,257.7 161.5,256.7 161.8,255.5 162,254.1 162.2,252.5 162.5,250.4 162.8,247.9 163,244.7 163.2,240.8 163.5,236.8 163.8,234.2 164,234.3 164.2,236.4 164.5,238.8 164.8,240.5 165,241.2 165.2,241 165.5,239.8 165.8,237.9 166,236.2 166.2,236.2 166.5,238.5 166.8,242 167,245.3 167.2,248.1 167.5,250.3 167.8,252 168,253.4 168.2,254.6 168.5,255.5 168.8,256.3 169,257 169.2,257.5 169.5,258 169.8,258.4 170,258.8 170.2,259 170.5,259.3 170.8,259.5 171,259.6 171.2,259.8 171.5,259.9 171.8,260 172,260 172.2,260.1 172.5,260.1 172.8,260.1 173,260.1 173.2,260.1 173.5,260 173.8,260 174,259.9 174.2,259.8 174.5,259.8 174.8,259.7 175,259.5 175.2,259.4 175.5,259.3 175.8,259.2 176,259 176.2,258.9 176.5,258.8 176.8,258.7 177,258.6 177.2,258.5 177.5,258.4 177.8,258.2 178,258.1 178.2,257.9 178.5,257.7 178.8,257.4 179,257.2 179.2,256.9 179.5,256.6 179.8,256.3 180,255.9 180.2,255.6 180.5,255.1 180.8,254.7 181,254.2 181.2,253.6 181.5,253 181.8,252.4 182,251.7 182.2,250.9 182.5,250 182.8,249.1 183,248 183.2,246.9 183.5,245.6 183.8,244.2 184,242.6 184.2,240.9 184.5,238.9 184.8,236.8 185,234.3 185.2,231.6 185.5,228.6 185.8,225.1 186,221.2 186.2,216.8 186.5,211.7 186.8,205.9 187,199.2 187.2,191.4 187.5,182.2 187.8,171.2 188,157.9 188.2,141.8 188.5,122.1 188.8,98.8 189,74 189.2,53.1 189.5,44.7 189.8,53.2 190,74 190.2,98.9 190.5,122.2 190.8,142 191,158.2 191.2,171.4 191.5,182.5 191.8,191.7 192,199.6 192.2,206.3 192.5,212.1 192.8,217.2 193,221.7 193.2,225.6 193.5,229.1 193.8,232.2 194,234.9 194.2,237.3 194.5,239.5 194.8,241.4 195,243.2 195.2,244.7 195.5,246.1 195.8,247.4 196,248.5 196.2,249.5 196.5,250.4 196.8,251.3 197,252 197.2,252.6 197.5,253.2 197.8,253.8 198,254.2 198.2,254.6 198.5,255 198.8,255.3 199,255.5 199.2,255.7 199.5,255.8 199.8,255.9 200,256 200.2,256 200.5,255.9 200.8,255.8 201,255.7 201.2,255.5 201.5,255.2 201.8,254.9 202,254.5 202.2,254.1 202.5,253.6 202.8,253 203,252.4 203.2,251.6 203.5,250.8 203.8,249.8 204,248.8 204.2,247.6 204.5,246.2 204.8,244.7 205,243 205.2,241.1 205.5,239 205.8,236.6 206,233.9 206.2,230.8 206.5,227.3 206.8,223.3 207,218.8 207.2,213.6 207.5,207.6 207.8,200.6 208,192.4 208.2,182.7 208.5,171 208.8,156.8 209,139.4 209.2,118.5 209.5,94.9 209.8,72.6 210,58.9 210.2,60.6 210.5,76.8 210.8,99.9 211,123.2 211.2,143.5 211.5,160.3 211.8,174 212,185.3 212.2,194.8 212.5,202.8 212.8,209.6 213,215.5 213.2,220.6 213.5,225.1 213.8,229 214,232.5 214.2,235.6 214.5,238.3 214.8,240.7 215,242.8 215.2,244.7 215.5,246.4 215.8,247.9 216,249.3 216.2,250.5 216.5,251.5 216.8,252.5 217,253.3 217.2,254.1 217.5,254.7 217.8,255.3 218,255.8 218.2,256.2 218.5,256.5 218.8,256.7 219,256.7 219.2,256.7 219.5,256.7 219.8,256.6 220,256.4 220.2,256.1 220.5,255.8 220.8,255.4 221,254.9 221.2,254.3 221.5,253.6 221.8,252.8 222,251.8 222.2,250.8 222.5,249.5 222.8,248.1 223,246.6 223.2,244.7 223.5,242.7 223.8,240.3 224,237.5 224.2,234.4 224.5,230.6 224.8,226.2 225,221 225.2,214.6 225.5,206.9 225.8,197.7 226,187.3 226.2,177.2 226.5,170.5 226.8,169.9 227,175 227.2,182.6 227.5,190 227.8,195.7 228,199.5 228.2,201.2 228.5,200.9 228.8,198.4 229,194.1 229.2,190.3 229.5,191.1 229.8,197.1 230,204.6 230.2,210.8 230.5,215.2 230.8,218.2 231,220 231.2,221 231.5,221 231.8,220.3 232,218.8 232.2,216.3 232.5,212.9 232.8,208.2 233,202.2 233.2,195 233.5,187.7 233.8,182.3 234,181.1 234.2,184.5 234.5,190.2 234.8,195.8 235,200.3 235.2,203 235.5,204.1 235.8,203.6 236,201.9 236.2,199.9 236.5,199.4 236.8,201.8 237,207 237.2,213.5 237.5,219.8 237.8,225.3 238,229.9 238.2,233.8 238.5,237 238.8,239.8 239,242.1 239.2,244.2 239.5,246 239.8,247.5 240,248.9 240.2,250.1 240.5,251.2 240.8,252.1 241,252.9 241.2,253.7 241.5,254.3 241.8,254.9 242,255.4 242.2,255.9 242.5,256.3 242.8,256.6 243,256.9 243.2,257.2 243.5,257.4 243.8,257.6 244,257.8 244.2,257.9 244.5,258 244.8,258.1 245,258.3 245.2,258.4 245.5,258.5 245.8,258.6 246,258.6 246.2,258.6 246.5,258.6 246.8,258.6 247,258.5 247.2,258.4 247.5,258.2 247.8,258 248,257.7 248.2,257.4 248.5,257.1 248.8,256.6 249,256.1 249.2,255.5 249.5,254.8 249.8,254 250,253 250.2,251.9 250.5,250.6 250.8,249 251,247.2 251.2,245.3 251.5,243.6 251.8,242.2 252,241.4 252.2,241.1 252.5,240.9 252.8,240.4 253,239.6 253.2,238.1 253.5,236 253.8,233.2 254,229.9 254.2,226.8 254.5,225 254.8,225.7 255,228.7 255.2,232.8 255.5,237 255.8,240.7 256,243.8 256.2,246.4 256.5,248.6 256.8,250.4 257,251.9 257.2,253.2 257.5,254.3 257.8,255.3 258,256.1 258.2,256.9 258.5,257.5 258.8,257.9 259,258.2 259.2,258.5 259.5,258.7 259.8,258.8 260,258.9 260.2,258.9 260.5,258.9 260.8,258.8 261,258.7 261.2,258.5 261.5,258.3 261.8,258.1 262,257.8 262.2,257.5 262.5,257.1 262.8,256.6 263,256.1 263.2,255.6 263.5,255 263.8,254.3 264,253.5 264.2,252.7 264.5,251.7 264.8,250.6 265,249.4 265.2,247.9 265.5,246.3 265.8,244.4 266,242.1 266.2,239.3 266.5,236 266.8,231.7 267,226 267.2,218 267.5,209.2 267.8,208.6 268,214.4 268.2,219 268.5,222 268.8,224.4 269,226.7 269.2,229.1 269.5,231.5 269.8,233.9 270,236.3 270.2,238.5 270.5,240.6 270.8,242.4 271,244.1 271.2,245.7 271.5,247 271.8,248.3 272,249.4 272.2,250.4 272.5,251.3 272.8,252.1 273,252.8 273.2,253.5 273.5,254.1 273.8,254.7 274,255.2 274.2,255.7 274.5,256.1 274.8,256.5 275,256.9 275.2,257.2 275.5,257.5 275.8,257.8 276,258.1 276.2,258.3 276.5,258.6 276.8,258.8 277,258.9 277.2,259.1 277.5,259.3 277.8,259.4 278,259.5 278.2,259.7 278.5,259.8 278.8,259.8 279,259.9 279.2,260 279.5,260.1 279.8,260.1 280,260.1 280.2,260.2 280.5,260.2 280.8,260.2 281,260.2 281.2,260.2 281.5,260.2 281.8,260.2 282,260.2 282.2,260.2 282.5,260.1 282.8,260.1 283,260.1 283.2,260 283.5,259.9 283.8,259.9 284,259.8 284.2,259.7 284.5,259.6 284.8,259.5 285,259.3 285.2,259.2 285.5,259.1 285.8,258.9 286,258.8 286.2,258.6 286.5,258.4 286.8,258.2 287,258 287.2,257.7 287.5,257.5 287.8,257.2 288,256.9 288.2,256.6 288.5,256.2 288.8,255.8 289,255.4 289.2,255 289.5,254.5 289.8,254 290,253.4 290.2,252.7 290.5,252 290.8,251.2 291,250.3 291.2,249.3 291.5,248.2 291.8,247 292,245.6 292.2,244.2 292.5,242.7 292.8,241.3 293,240.1 293.2,239.3 293.5,238.9 293.8,239.1 294,239.6 294.2,240.3 294.5,241.1 294.8,241.7 295,242.2 295.2,242.5 295.5,242.4 295.8,242 296,241.1 296.2,239.7 296.5,237.4 296.8,234.2 297,230.9 297.2,230.2 297.5,233 297.8,237.3 298,240.9 298.2,243.7 298.5,245.9 298.8,247.5 299,248.9 299.2,250 299.5,250.9 299.8,251.6 300,252.3 300.2,252.8 300.5,253.2 300.8,253.6 301,254 301.2,254.3 301.5,254.5 301.8,254.7 302,254.9 302.2,255 302.5,255.2 302.8,255.3 303,255.4 303.2,255.4 303.5,255.5 303.8,255.5 304,255.6 304.2,255.6 304.5,255.6 304.8,255.6 305,255.6 305.2,255.5 305.5,255.5 305.8,255.5 306,255.4 306.2,255.4 306.5,255.3 306.8,255.2 307,255.1 307.2,255.1 307.5,255 307.8,254.9 308,254.9 308.2,254.8 308.5,254.7 308.8,254.6 309,254.6 309.2,254.4 309.5,254.3 309.8,254.2 310,254.1 310.2,253.9 310.5,253.7 310.8,253.5 311,253.3 311.2,253.1 311.5,252.8 311.8,252.6 312,252.3 312.2,251.9 312.5,251.5 312.8,251.1 313,250.7 313.2,250.2 313.5,249.6 313.8,249 314,248.3 314.2,247.5 314.5,246.6 314.8,245.7 315,244.5 315.2,243.2 315.5,241.8 315.8,240 316,238 316.2,235.5 316.5,232.6 316.8,229.2 317,225.6 317.2,222.2 317.5,220 317.8,219.5 318,220 318.2,220.8 318.5,221 318.8,220.5 319,219 319.2,216.6 319.5,213 319.8,208.1 320,201.3 320.2,192.2 320.5,180.8 320.8,169.5 321,164.3 321.2,169.4 321.5,180.6 321.8,191.9 322,200.9 322.2,207.6 322.5,212.5 322.8,216.1 323,218.6 323.2,220.3 323.5,221.2 323.8,221.4 324,220.9 324.2,219.7 324.5,217.8 324.8,214.9 325,210.9 325.2,205.4 325.5,198.1 325.8,188.2 326,175.8 326.2,163.5 326.5,158.1 326.8,164.2 327,177.2 327.2,190.3 327.5,201 327.8,209.2 328,215.6 328.2,220.6 328.5,224.5 328.8,227.8 329,230.4 329.2,232.5 329.5,234.1 329.8,235.4 330,236.4 330.2,237 330.5,237.3 330.8,237.3 331,237 331.2,236.2 331.5,235.1 331.8,233.7 332,232.4 332.2,231.9 332.5,232.8 332.8,234.8 333,237.2 333.2,239.5 333.5,241.5 333.8,243.1 334,244.5 334.2,245.7 334.5,246.7 334.8,247.5 335,248.2 335.2,248.9 335.5,249.4 335.8,249.9 336,250.4 336.2,250.8 336.5,251.1 336.8,251.4 337,251.7 337.2,251.9 337.5,252.1 337.8,252.3 338,252.4 338.2,252.6 338.5,252.7 338.8,252.8 339,252.9 339.2,252.9 339.5,253 339.8,253 340,253 340.2,253 340.5,253 340.8,253 341,253 341.2,252.9 341.5,252.8 341.8,252.8 342,252.7 342.2,252.5 342.5,252.4 342.8,252.3 343,252.1 343.2,251.9 343.5,251.7 343.8,251.5 344,251.3 344.2,251 344.5,250.7 344.8,250.4 345,250 345.2,249.6 345.5,249.2 345.8,248.7 346,248.1 346.2,247.5 346.5,246.9 346.8,246.1 347,245.3 347.2,244.4 347.5,243.3 347.8,242.2 348,240.8 348.2,239.3 348.5,237.6 348.8,235.6 349,233.2 349.2,230.4 349.5,227 349.8,223 350,218.1 350.2,212.5 350.5,207 350.8,202.9 351,202.1 351.2,204.7 351.5,209.1 351.8,213.8 352,217.9 352.2,221 352.5,223.4 352.8,225.2 353,226.4 353.2,227.1 353.5,227.5 353.8,227.4 354,227 354.2,226.3 354.5,225.1 354.8,223.6 355,221.5 355.2,218.9 355.5,215.6 355.8,211.7 356,207.3 356.2,203 356.5,200 356.8,198.6 357,198.3 357.2,197.8 357.5,196.4 357.8,193.6 358,189.3 358.2,183.3 358.5,176 358.8,168.8 359,164.4 359.2,165.1 359.5,170.6 359.8,178.3 360,185.9 360.2,192.1 360.5,196.8 360.8,200 361,202 361.2,202.7 361.5,202.3 361.8,201 362,199.3 362.2,198.5 362.5,199.9 362.8,203.6 363,208.6 363.2,213.6 363.5,218 363.8,221.8 364,224.8 364.2,227.3 364.5,229.4 364.8,231.1 365,232.6 365.2,233.7 365.5,234.7 365.8,235.4 366,236 366.2,236.4 366.5,236.6 366.8,236.6 367,236.5 367.2,236.1 367.5,235.6 367.8,234.8 368,233.7 368.2,232.3 368.5,230.5 368.8,228.2 369,225.4 369.2,222 369.5,218.6 369.8,216.3 370,216 370.2,217.9 370.5,221.1 370.8,224.5 371,227.4 371.2,229.6 371.5,231.4 371.8,232.7 372,233.6 372.2,234.2 372.5,234.6 372.8,234.6 373,234.4 373.2,233.9 373.5,233 373.8,231.9 374,230.3 374.2,228.2 374.5,225.4 374.8,222 375,218.1 375.2,214.4 375.5,212.2 375.8,212.7 376,215.7 376.2,220 376.5,224.3 376.8,228.1 377,231.2 377.2,233.7 377.5,235.8 377.8,237.5 378,239 378.2,240.2 378.5,241.2 378.8,242.1 379,242.9 379.2,243.5 379.5,244 379.8,244.5 380,244.8 380.2,245.1 380.5,245.3 380.8,245.5 381,245.5 381.2,245.5 381.5,245.5 381.8,245.4 382,245.2 382.2,244.9 382.5,244.6 382.8,244.2 383,243.7 383.2,243.1 383.5,242.4 383.8,241.6 384,240.7 384.2,239.7 384.5,238.4 384.8,237 385,235.3 385.2,233.4 385.5,231.1 385.8,228.3 386,225 386.2,220.9 386.5,215.9 386.8,210.1 387,203.8 387.2,198.5 387.5,196.3 387.8,198.3 388,203.4 388.2,209.4 388.5,215.1 388.8,219.8 389,223.7 389.2,226.8 389.5,229.3 389.8,231.3 390,233 390.2,234.4 390.5,235.5 390.8,236.3 391,237 391.2,237.5 391.5,237.8 391.8,238 392,237.9 392.2,237.6 392.5,237.1 392.8,236.5 393,235.6 393.2,234.4 393.5,233 393.8,231.2 394,229.2 394.2,227.1 394.5,225.4 394.8,224.7 395,224.7 395.2,225 395.5,225.1 395.8,224.8 396,223.9 396.2,222.3 396.5,220.1 396.8,217.1 397,213.3 397.2,208.9 397.5,205 397.8,203 398,204.1 398.2,207.8 398.5,212.4 398.8,216.9 399,220.7 399.2,223.7 399.5,226.2 399.8,228.1 400,229.7 400.2,230.9 400.5,231.9 400.8,232.7 401,233.2 401.2,233.6 401.5,233.8 401.8,233.9 402,233.8 402.2,233.5 402.5,233.1 402.8,232.4 403,231.6 403.2,230.5 403.5,229.1 403.8,227.4 404,225.2 404.2,222.5 404.5,219.2 404.8,215.9 405,213.3 405.2,212.5 405.5,214.1 405.8,217.2 406,220.6 406.2,223.7 406.5,226.2 406.8,228.3 407,230 407.2,231.3 407.5,232.4 407.8,233.3 408,234 408.2,234.6 408.5,235.1 408.8,235.5 409,235.7 409.2,235.9 409.5,236 409.8,236.4 410,236.7 410.2,237 410.5,237.1 410.8,237.2 411,237.2 411.2,237.1 411.5,236.9 411.8,236.5 412,235.9 412.2,235.2 412.5,234.1 412.8,232.8 413,231.3 413.2,229.8 413.5,229 413.8,229.4 414,230.9 414.2,233 414.5,235.1 414.8,236.9 415,238.4 415.2,239.7 415.5,240.8 415.8,241.7 416,242.4 416.2,243.1 416.5,243.7 416.8,244.2 417,244.6 417.2,244.9 417.5,245 417.8,245.1 418,245 418.2,244.9 418.5,244.7 418.8,244.4 419,244.1 419.2,243.7 419.5,243.3 419.8,242.7 420,242 420.2,241.2 420.5,240.3 420.8,239.3 421,238 421.2,236.5 421.5,234.7 421.8,232.6 422,230.1 422.2,226.9 422.5,223.1 422.8,218.6 423,213.7 423.2,209.6 423.5,207.7 423.8,208.9 424,212.4 424.2,216.5 424.5,220.2 424.8,223.1 425,225.1 425.2,226.4 425.5,227 425.8,227.2 426,227.2 426.2,227.8 426.5,229.3 426.8,231.5 427,234 427.2,236.3 427.5,238.4 427.8,240.1 428,241.5 428.2,242.8 428.5,243.8 428.8,244.8 429,245.6 429.2,246.3 429.5,247 429.8,247.5 430,248.1 430.2,248.5 430.5,249 430.8,249.3 431,249.7 431.2,250 431.5,250.3 431.8,250.5 432,250.8 432.2,251 432.5,251.2 432.8,251.4 433,251.6 433.2,251.7 433.5,251.9 433.8,252 434,252.1 434.2,252.2 434.5,252.3 434.8,252.4 435,252.5 435.2,252.5 435.5,252.5 435.8,252.6 436,252.6 436.2,252.6 436.5,252.5 436.8,252.5 437,252.5 437.2,252.5 437.5,252.4 437.8,252.4 438,252.3 438.2,252.2 438.5,252.2 438.8,252.1 439,252 439.2,251.9 439.5,251.7 439.8,251.6 440,251.4 440.2,251.2 440.5,251 440.8,250.8 441,250.5 441.2,250.2 441.5,249.8 441.8,249.4 442,249 442.2,248.4 442.5,247.8 442.8,247.1 443,246.2 443.2,245.1 443.5,243.8 443.8,242.2 444,240.6 444.2,239.2 444.5,238.6 444.8,239.1 445,240.4 445.2,242 445.5,243.5 445.8,244.7 446,245.7 446.2,246.5 446.5,247.2 446.8,247.7 447,248.1 447.2,248.5 447.5,248.8 447.8,249.1 448,249.3 448.2,249.5 448.5,249.6 448.8,249.7 449,249.8 449.2,249.8 449.5,249.8 449.8,249.9 450,249.8 450.2,249.8 450.5,249.8 450.8,249.7 451,249.6 451.2,249.5 451.5,249.4 451.8,249.2 452,249 452.2,248.8 452.5,248.6 452.8,248.3 453,247.9 453.2,247.6 453.5,247.1 453.8,246.7 454,246.1 454.2,245.5 454.5,244.7 454.8,243.9 455,242.9 455.2,241.7 455.5,240.3 455.8,238.7 456,236.6 456.2,234.2 456.5,231.2 456.8,228 457,225.1 457.2,223.6 457.5,224.2 457.8,226.6 458,229.7 458.2,232.7 458.5,235.2 458.8,237.3 459,239 459.2,240.4 459.5,241.5 459.8,242.4 460,243.1 460.2,243.8 460.5,244.3 460.8,244.6 461,244.9 461.2,245.1 461.5,245.3 461.8,245.3 462,245.2 462.2,245.1 462.5,244.8 462.8,244.5 463,244 463.2,243.3 463.5,242.4 463.8,241.3 464,240 464.2,238.8 464.5,238.1 464.8,238.2 465,239.1 465.2,240.3 465.5,241.6 465.8,242.6 466,243.4 466.2,244 466.5,244.5 466.8,244.8 467,244.9 467.2,244.9 467.5,244.7 467.8,244.4 468,243.9 468.2,243.4 468.5,243 468.8,243 469,243.6 469.2,244.4 469.5,245.3 469.8,246.2 470,246.9 470.2,247.5 470.5,247.9 470.8,248.4 471,248.7 471.2,249 471.5,249.2 471.8,249.5 472,249.6 472.2,249.8 472.5,250 472.8,250.1 473,250.2 473.2,250.3 473.5,250.3 473.8,250.4 474,250.4 474.2,250.5 474.5,250.5 474.8,250.4 475,250.4 475.2,250.3 475.5,250.2 475.8,250.1 476,250 476.2,249.9 476.5,249.8 476.8,249.6 477,249.5 477.2,249.3 477.5,249.2 477.8,249 478,248.8 478.2,248.6 478.5,248.3 478.8,248 479,247.7 479.2,247.4 479.5,247.1 479.8,246.7 480,246.2 480.2,245.7 480.5,245.2 480.8,244.6 481,243.9 481.2,243.1 481.5,242.1 481.8,241 482,239.7 482.2,238.1 482.5,236.2 482.8,234 483,231.4 483.2,229 483.5,227.5 483.8,227.6 484,229.2 484.2,231.5 484.5,233.9 484.8,235.9 485,237.6 485.2,238.9 485.5,240 485.8,240.9 486,241.7 486.2,242.3 486.5,242.8 486.8,243.3 487,243.7 487.2,244 487.5,244.2 487.8,244.4 488,244.6 488.2,244.8 488.5,245 488.8,245.1 489,245.3 489.2,245.4 489.5,245.5 489.8,245.6 490,245.7 490.2,245.7 490.5,245.8 490.8,245.8 491,245.8 491.2,245.8 491.5,245.7 491.8,245.7 492,245.6 492.2,245.5 492.5,245.4 492.8,245.3 493,245.1 493.2,244.9 493.5,244.7 493.8,244.4 494,244.1 494.2,243.8 494.5,243.4 494.8,242.9 495,242.3 495.2,241.6 495.5,240.8 495.8,239.8 496,238.6 496.2,237.1 496.5,235.4 496.8,233.8 497,232.8 497.2,232.8 497.5,233.8 497.8,235.3 498,236.7 498.2,238 498.5,238.9 498.8,239.6 499,240.1 499.2,240.5 499.5,240.7 499.8,240.8 500,240.7 500.2,240.4 500.5,240 500.8,239.5 501,238.8 501.2,238.2 501.5,238 501.8,238.3 502,239 502.2,239.7 502.5,240.4 502.8,240.9 503,241.3 503.2,241.5 503.5,241.5 503.8,241.4 504,241.2 504.2,240.8 504.5,240.2 504.8,239.4 505,238.4 505.2,237.5 505.5,237 505.8,237.2 506,238.2 506.2,239.4 506.5,240.7 506.8,241.8 507,242.7 507.2,243.5 507.5,244.1 507.8,244.7 508,245.1 508.2,245.6 508.5,245.9"/>
</g>
<g clip-path="url(#c2)">
<g stroke="#2a2ae2" stroke-width="1.7"><path d="M114.7 607.6V616.6"/><path d="M119.4 607.6V616.6"/><path d="M125.7 607.6V616.6"/><path d="M153.2 607.6V616.6"/><path d="M160.6 607.6V616.6"/><path d="M168.4 607.6V616.6"/><path d="M176.5 607.6V616.6"/><path d="M189.2 607.6V616.6"/><path d="M209.3 607.6V616.6"/><path d="M218.2 607.6V616.6"/><path d="M227.9 607.6V616.6"/><path d="M231.5 607.6V616.6"/><path d="M241.4 607.6V616.6"/><path d="M244.8 607.6V616.6"/><path d="M248.4 607.6V616.6"/><path d="M251.6 607.6V616.6"/><path d="M256.9 607.6V616.6"/><path d="M259 607.6V616.6"/><path d="M264.7 607.6V616.6"/><path d="M266.8 607.6V616.6"/><path d="M271.7 607.6V616.6"/><path d="M273.8 607.6V616.6"/><path d="M279.5 607.6V616.6"/><path d="M286.5 607.6V616.6"/><path d="M298.5 607.6V616.6"/><path d="M301.6 607.6V616.6"/><path d="M314.3 607.6V616.6"/><path d="M317.5 607.6V616.6"/><path d="M320.7 607.6V616.6"/><path d="M324.9 607.6V616.6"/><path d="M328.1 607.6V616.6"/><path d="M331.3 607.6V616.6"/><path d="M337.6 607.6V616.6"/><path d="M340.8 607.6V616.6"/><path d="M345.4 607.6V616.6"/><path d="M349.7 607.6V616.6"/><path d="M359.8 607.6V616.6"/><path d="M361.9 607.6V616.6"/><path d="M364.5 607.6V616.6"/><path d="M369.3 607.6V616.6"/><path d="M375.7 607.6V616.6"/><path d="M378.9 607.6V616.6"/><path d="M383.1 607.6V616.6"/><path d="M386.3 607.6V616.6"/><path d="M396.2 607.6V616.6"/><path d="M397.9 607.6V616.6"/><path d="M401.8 607.6V616.6"/><path d="M403.2 607.6V616.6"/><path d="M404.8 607.6V616.6"/><path d="M409.8 607.6V616.6"/><path d="M414.5 607.6V616.6"/><path d="M418.4 607.6V616.6"/><path d="M422.2 607.6V616.6"/><path d="M424.2 607.6V616.6"/><path d="M429.5 607.6V616.6"/><path d="M434.2 607.6V616.6"/><path d="M435.8 607.6V616.6"/><path d="M437.9 607.6V616.6"/><path d="M440.1 607.6V616.6"/><path d="M442 607.6V616.6"/><path d="M443.5 607.6V616.6"/><path d="M447.4 607.6V616.6"/><path d="M450.7 607.6V616.6"/><path d="M457.5 607.6V616.6"/><path d="M459 607.6V616.6"/><path d="M460.6 607.6V616.6"/><path d="M464.5 607.6V616.6"/><path d="M466.6 607.6V616.6"/><path d="M475 607.6V616.6"/><path d="M477 607.6V616.6"/><path d="M480.5 607.6V616.6"/><path d="M482.5 607.6V616.6"/><path d="M484.5 607.6V616.6"/><path d="M486.5 607.6V616.6"/><path d="M488.5 607.6V616.6"/><path d="M490.4 607.6V616.6"/><path d="M492.5 607.6V616.6"/><path d="M494 607.6V616.6"/><path d="M495.5 607.6V616.6"/><path d="M497.8 607.6V616.6"/><path d="M499.5 607.6V616.6"/><path d="M503.5 607.6V616.6"/><path d="M505.5 607.6V616.6"/><path d="M507.5 607.6V616.6"/></g>
<g stroke="#e85a5a" stroke-width="1.7" stroke-opacity="0.9"><path d="M137.8 613.6V623.2"/><path d="M181.8 613.6V623.2"/><path d="M224.1 613.6V623.2"/><path d="M235.1 613.6V623.2"/><path d="M253.3 613.6V623.2"/><path d="M266.8 613.6V623.2"/><path d="M286.5 613.6V623.2"/><path d="M309.5 613.6V623.2"/><path d="M338.2 613.6V623.2"/><path d="M346.7 613.6V623.2"/><path d="M359.8 613.6V623.2"/><path d="M385.6 613.6V623.2"/><path d="M399 613.6V623.2"/><path d="M405 613.6V623.2"/><path d="M414.5 613.6V623.2"/><path d="M436.2 613.6V623.2"/><path d="M442.1 613.6V623.2"/><path d="M447.4 613.6V623.2"/><path d="M457.5 613.6V623.2"/><path d="M471.4 613.6V623.2"/><path d="M483 613.6V623.2"/><path d="M488.3 613.6V623.2"/><path d="M503.1 613.6V623.2"/></g>
<polyline fill="none" stroke="#000" stroke-width="1.8" stroke-linejoin="round" points="76.3,634.6 76.7,634.7 77.1,634.7 77.5,634.7 77.9,634.1 78.3,634.3 78.7,634.3 79.1,634.6 79.5,634 79.9,633.9 80.3,634.1 80.7,634.8 81.1,634.4 81.5,634.4 81.9,634.2 82.3,633.9 82.7,634.4 83.1,634.7 83.5,634.7 83.9,634.8 84.3,634.6 84.7,634.5 85.1,634.5 85.5,634.9 85.9,635.3 86.3,634.9 86.7,634.6 87.1,634.4 87.5,634.5 87.9,634.8 88.3,634.3 88.7,634.2 89.1,634.4 89.5,634.7 89.9,634.9 90.3,634.1 90.7,634.5 91.1,634.7 91.5,634.3 91.9,634.3 92.3,634.8 92.7,635 93.1,634.3 93.5,634.1 93.9,634.9 94.3,635.1 94.7,634.4 95.1,634 95.5,634.8 95.9,634.8 96.3,634.9 96.7,634.7 97.1,634.4 97.5,634.6 97.9,635.2 98.3,635 98.7,634 99.1,634.3 99.5,635 99.9,634.5 100.3,634.1 100.7,634.4 101.1,634.5 101.5,634.5 101.9,634.4 102.3,634.4 102.7,634.5 103.1,634.6 103.5,634.3 103.9,634.4 104.3,634.7 104.7,635 105.1,634.9 105.5,634.7 105.9,634.8 106.3,634.9 106.7,635.1 107.1,635.1 107.5,635.4 107.9,635.2 108.3,634.7 108.7,634.6 109.1,634.9 109.5,634.8 109.9,634.5 110.3,633.9 110.7,633.9 111.1,634.6 111.5,635 111.9,634.8 112.3,634.4 112.7,634.7 113.1,634.6 113.5,634.7 113.9,634.7 114.3,634.3 114.7,634.1 115.1,633.8 115.5,633.9 115.9,634 116.3,634.5 116.7,634.8 117.1,634.9 117.5,634.7 117.9,634.5 118.3,634.6 118.7,634.6 119.1,634.8 119.5,634.7 119.9,634.3 120,634.6 120.3,634.6 120.7,634.6 121.1,635 121.5,635.2 121.9,634.6 122.3,634.2 122.7,633.8 123.1,634.2 123.5,634.2 123.9,633.9 124.3,634.5 124.7,634.7 125.1,634.4 125.5,634.3 125.9,634.3 126.3,634.5 126.7,634.1 127.1,634.5 127.5,635.1 127.9,634.8 128.3,634.7 128.7,634.4 129.1,634.2 129.5,634.4 129.9,634.5 130.3,634.3 130.7,634.7 131.1,635.1 131.5,634.8 131.9,634 132.3,633.9 132.7,634 133.1,634.7 133.5,634.9 133.9,634.7 134.3,634.2 134.7,634.1 135,634.5 135.1,634.4 135.5,634 135.9,634 136.3,634 136.7,633.6 136.9,633.5 137.1,630 137.5,625.5 137.5,625.5 137.9,630.4 138.1,633 138.3,636.3 138.6,641.7 138.7,641 139.1,637.6 139.3,636 139.5,635.5 139.9,635.2 140.3,634.4 140.5,634.6 140.7,634.5 141.1,635 141.5,635 141.9,635.1 142.3,634.7 142.7,634.3 143.1,634.1 143.5,634.4 143.9,635 144.3,635 144.7,635 145.1,634.9 145.5,634.7 145.9,634.6 146.3,634.7 146.7,634.9 147.1,634.9 147.5,634.8 147.9,634.6 148.3,634.3 148.7,634.3 149.1,634.4 149.5,634.6 149.5,634 149.9,635.4 150.2,636 150.3,635.9 150.7,634.8 151,634.6 151.1,635 151.5,634.8 151.9,634.8 152.3,634.7 152.7,634.8 153.1,635.5 153.5,634.9 153.9,634.4 154.3,634.4 154.7,634.7 155.1,634.8 155.5,634.9 155.9,634.5 156.3,634.2 156.7,634.5 157.1,634.5 157.5,634.3 157.9,634 158.3,634.1 158.7,634.2 159.1,634.3 159.5,634.1 159.9,634.4 160.3,634.4 160.7,634.1 161.1,634.1 161.5,634.3 161.9,634.4 162.3,633.8 162.7,633.9 163.1,633.9 163.5,634.3 163.9,634.6 164.3,634.4 164.7,634.4 165.1,634.5 165.5,635.1 165.9,635.1 166.3,634.8 166.7,634.1 167.1,634.1 167.5,634.7 167.9,634.5 168.3,634.4 168.7,634.4 169.1,634.2 169.5,634.6 169.9,634.6 170.3,634.5 170.7,634.4 171.1,634.5 171.5,634.4 171.9,634.8 172.3,635 172.7,634.9 173.1,634.8 173.5,634.4 173.9,633.8 174.3,634.4 174.7,634.4 175.1,634.4 175.5,634.2 175.9,633.9 176.3,634.2 176.7,634.7 177.1,634.9 177.5,634.3 177.9,634.2 178.3,634.7 178.7,634.5 179.1,635 179.5,634.4 179.5,634.3 179.9,633.9 180.3,633.1 180.6,632 180.7,630.6 181.1,623.8 181.2,621 181.5,625.1 181.9,632 181.9,632.1 182.3,633.4 182.7,634.5 183.1,635.2 183.2,634.5 183.5,634.5 183.9,634.3 184.3,634.3 184.7,634.2 185.1,634.1 185.5,633.7 185.9,634.3 186.3,634.9 186.7,635.5 187.1,635.1 187.5,634.6 187.9,634.6 188,634.6 188.3,635.9 188.7,638.4 188.8,639.2 189.1,637.3 189.5,634.6 189.5,634.6 189.9,634.9 190.3,634.9 190.7,634.7 191.1,634.3 191.5,634.3 191.9,634.7 192.3,634.8 192.7,634.3 193.1,634.3 193.5,634.7 193.9,634.6 194.3,634.9 194.7,634.9 195.1,635.1 195.5,635.3 195.9,635.1 196.3,634.8 196.7,634.3 197.1,634.4 197.5,634.9 197.9,635.3 198.3,635.5 198.7,635.5 199.1,635 199.5,634.8 199.9,634.9 200.3,634.7 200.7,634.5 201.1,634.4 201.5,634.7 201.9,634.4 202.3,634.5 202.7,634.3 203.1,634.7 203.5,634.5 203.9,634.6 204.3,634.2 204.7,634.4 205.1,634.8 205.5,634.5 205.9,634.5 206.3,634.2 206.7,633.9 207.1,634.5 207.5,634.6 207.9,634.4 208,634.6 208.3,635.3 208.7,636.4 208.8,637 209.1,635.9 209.5,634.6 209.5,634.5 209.9,634.8 210.3,634.7 210.7,633.9 211.1,633.9 211.5,634.5 211.9,634.6 212.3,634.8 212.7,634.9 213.1,634.5 213.5,633.9 213.9,633.6 214.3,634.2 214.7,634.4 215.1,634.6 215.5,634.6 215.9,634.4 216.3,635.1 216.7,635.2 217.1,634.9 217.5,634.3 217.9,634.3 218.3,634.3 218.7,634.3 219.1,634.3 219.5,634.6 219.9,634.8 220.3,634.7 220.7,634.6 221.1,635 221.5,634.5 221.9,633.7 222.3,634.1 222.7,634.6 223,634.6 223.1,635.7 223.5,640 223.8,643 223.9,641.4 224.3,636.8 224.5,634.8 224.7,634.6 225.1,634.8 225.5,634.5 225.9,634.3 226.3,634.7 226.7,634.7 227,634.8 227.1,635.7 227.5,638 227.5,638.4 227.9,635.4 228,634.8 228.3,634.6 228.7,635.2 229.1,635.2 229.5,635.2 229.9,634.5 230.3,634.2 230.7,634.9 231.1,634.8 231.5,634.7 231.9,634.7 232.3,634.8 232.7,634.6 233.1,634.2 233.5,634.6 233.8,634.5 233.9,633.4 234.3,629.5 234.5,626.7 234.7,628.9 235.1,634 235.1,633.9 235.5,642.5 235.8,647.5 235.9,645.2 236.3,640.2 236.6,637 236.7,636.9 237.1,636.6 237.5,635.9 237.9,634.9 238,634.8 238.3,634.9 238.7,634.7 239.1,635 239.5,635.5 239.9,635.2 240.3,635.1 240.7,634.8 241.1,634.6 241.5,634.3 241.9,634.8 242.3,635.5 242.7,635.8 243.1,635.6 243.5,635.3 243.9,634.9 244.3,634.7 244.7,634.9 245.1,635 245.5,634.9 245.9,635 246.3,634.5 246.7,634.2 247.1,634.2 247.5,634.2 247.9,634.5 248.3,635.1 248.7,635.1 249.1,635.2 249.5,635.5 249.9,635.5 250,635 250.3,635.4 250.7,635.2 251.1,634.9 251.5,634.7 251.9,634.2 252.3,634.2 252.7,634.5 253.1,634.6 253.2,634.5 253.5,632.4 253.8,630.5 253.9,632.6 254.3,636.3 254.4,636.7 254.7,636.1 255.1,635.1 255.2,635 255.5,634.9 255.9,635 256.3,635.4 256.7,635 257.1,634.7 257.5,635.2 257.9,635.6 258.3,635.4 258.7,635.3 259.1,634.9 259.5,634.7 259.9,634.7 260.3,635 260.7,635.4 261.1,635 261.5,635.2 261.9,634.8 262.3,634.9 262.7,635.3 263.1,635.3 263.5,634.9 263.9,634.5 264.3,634.8 264.7,634.9 265.1,635.6 265.5,635.2 265.9,634.8 266.3,634.5 266.7,634.5 267.1,634.6 267.5,635 267.9,635 268.3,635 268.7,634.7 269.1,634.8 269.5,635.1 269.9,634.5 270.3,634.3 270.7,634.7 271.1,634.5 271.5,634.7 271.9,635 272.3,634.8 272.7,635 273.1,634.9 273.5,635.4 273.9,635.4 274.3,634.9 274.7,634.7 275.1,634.6 275.5,635 275.9,635.1 276.3,634.6 276.7,634.8 277.1,634.4 277.5,634.2 277.9,634.4 278.3,635.3 278.7,635.1 279.1,634.9 279.5,634.8 279.9,634.9 280.3,634.3 280.7,634.9 281.1,635.5 281.5,635 281.9,634.9 282.3,634.9 282.7,634.7 283.1,634.8 283.5,635.1 283.9,635 284.3,634.9 284.7,634.8 285.1,634.9 285.5,634.8 285.5,635.3 285.9,637.5 286.2,639.2 286.3,638.2 286.7,636.6 287,634.8 287.1,634.4 287.5,634 287.9,634.3 288.3,634.8 288.7,634.5 289.1,634.6 289.5,634.9 289.9,635.2 290.3,634.9 290.7,634.7 291.1,634.8 291.5,635.3 291.9,635.3 292.3,634.7 292.7,634.2 293.1,634.4 293.5,634.8 293.9,634.7 294.3,635 294.7,635 295.1,635 295.5,635.1 295.9,634.9 296.3,634.5 296.7,634.8 297.1,635.3 297.5,634.6 297.9,634.6 298.3,635 298.7,634.7 299.1,634.3 299.5,634.3 299.9,634.9 300.3,635.3 300.7,635.3 301.1,635 301.5,635 301.9,634.5 302.3,634.6 302.7,634.6 303.1,634.8 303.5,635.1 303.9,635 304.3,634.7 304.7,634.9 305.1,634.6 305.5,634.3 305.9,634.4 306.3,634.2 306.7,634.6 307.1,634.8 307.5,634.7 307.9,634.8 308.3,634.7 308.5,634.7 308.7,636.5 309.1,641.1 309.2,643 309.5,640 309.9,635.7 310,634.7 310.3,634 310.7,634 311.1,634.5 311.5,634.8 311.9,635 312.3,635.1 312.7,635.2 313.1,635 313.5,634.6 313.9,634.2 314.3,634.2 314.7,634.4 315.1,634.7 315.5,634.7 315.9,634.6 316.3,634.7 316.7,634.8 317.1,634.8 317.5,634.8 317.9,634.7 318.3,634.4 318.7,634.3 319.1,634.7 319.5,634.7 319.9,634.5 320.3,634.7 320.7,635.2 321.1,634.6 321.5,634.5 321.9,634.5 322.3,634.3 322.7,634.7 323.1,635.2 323.5,635.1 323.9,634.9 324.3,634.8 324.7,634.8 325.1,634.8 325.5,634.5 325.9,634.4 326.3,634.6 326.7,634.8 327.1,634.8 327.5,634.5 327.9,634.1 328.3,634.9 328.7,635.5 329.1,635.1 329.5,634.5 329.9,634.2 330.3,634.4 330.7,634.3 331.1,634.5 331.5,634.5 331.9,634.8 332.3,634.8 332.7,634 333.1,634.2 333.5,634.1 333.9,633.9 334.3,634.1 334.7,634.4 335.1,634.5 335.5,634.2 335.9,634.8 336.3,635.2 336.7,634.9 337.1,634.6 337.4,634.4 337.5,632.5 337.9,626.6 338,625 338.3,629.1 338.6,632 338.7,633.5 339.1,636.7 339.1,637.1 339.5,635.1 339.8,634.5 339.9,634.2 340.3,634.3 340.7,634.6 341.1,634.7 341.5,635.2 341.9,635.2 342.3,634.8 342.7,634.5 343.1,634.7 343.5,634.6 343.9,634.2 344.3,634.5 344.7,634.7 345.1,634.7 345.5,635.1 345.6,634.4 345.9,630.5 346.1,628 346.3,630.2 346.6,634 346.7,634.8 347,637.5 347.1,637.4 347.5,635.7 347.7,634.5 347.9,634.2 348.3,634.9 348.7,634.8 349.1,635 349.5,634.9 349.9,635 350.3,635.2 350.7,635 351.1,634.8 351.5,634.3 351.9,634.6 352.3,634.5 352.7,634.4 353.1,634.5 353.5,634.8 353.9,634.8 354.3,634.1 354.7,634.2 355.1,634.4 355.5,634.7 355.9,634.5 356.3,634.6 356.7,634.5 357.1,634.8 357.5,634.8 357.9,634.5 358.3,634.3 358.7,634.1 358.8,634.5 359.1,639.4 359.5,645.5 359.5,645.5 359.9,639.3 360.3,634.5 360.3,633.8 360.7,634.2 361.1,634.4 361.5,634.5 361.9,634.6 362.3,634.7 362.7,634.3 363.1,633.9 363.5,634.2 363.9,634.7 364.3,634 364.7,634.4 365.1,635 365.5,634.7 365.9,634.3 366.3,634.5 366.7,634.9 367.1,634.9 367.5,634.5 367.9,634.7 368.3,634.8 368.7,635.1 369.1,635 369.5,634.4 369.9,634.1 370.3,634.7 370.7,635.2 371.1,635 371.5,635 371.9,635.2 372.3,634.6 372.7,634.6 373.1,634.5 373.5,634.5 373.9,634.7 374.3,634.9 374.7,634.4 375.1,634.1 375.5,634 375.9,634.5 376.3,634.5 376.7,634.5 377.1,634.2 377.5,634.4 377.9,634.8 378.3,634.7 378.7,634.8 379.1,634.7 379.5,634.3 379.9,634.1 380.3,634.7 380.7,634.8 381.1,634.6 381.5,633.8 381.9,633.6 382.3,633.6 382.7,634.2 383.1,634.8 383.5,634.8 383.9,634.6 384.3,634.7 384.7,634.8 385.1,634.6 385.5,634.7 385.9,634.4 386.3,633.9 386.7,634.4 387.1,634.9 387.5,634.6 387.9,634.4 388.3,634.3 388.7,634.5 389.1,634.8 389.5,634.5 389.9,633.9 390.3,633.4 390.7,633.8 391.1,633.7 391.5,633.9 391.9,634.7 392.3,634.7 392.7,634.2 393.1,634.7 393.5,634.7 393.9,634.5 394.3,634.5 394.7,634 395.1,633.9 395.5,633.9 395.9,634.2 396.3,634.6 396.7,634.1 397.1,634 397.5,634.2 397.9,634.5 398.1,634.6 398.3,636.6 398.7,639.8 398.8,640.5 399.1,637 399.4,634.6 399.5,634.4 399.9,634.8 400.3,635.1 400.7,634.6 401.1,634.7 401.5,634.9 401.9,634.4 402.3,634.1 402.7,634.2 403.1,634.6 403.1,634.8 403.5,637.9 403.8,640 403.9,639.2 404.3,635.7 404.4,634.6 404.7,634.4 405.1,634.7 405.5,634.8 405.9,634.5 406.3,634.3 406.7,634.2 407.1,634 407.5,634.3 407.9,634.4 408.3,634.5 408.7,634.3 409.1,634.2 409.5,634.1 409.9,634.2 410.3,634.6 410.7,634.6 411.1,634.5 411.5,634.3 411.9,634.3 412.3,634 412.7,634.2 413.1,634.4 413.5,634.7 413.9,634.7 414.3,634.6 414.7,634.8 415.1,634.8 415.5,634.9 415.9,634.9 416.3,634.6 416.7,634.5 417.1,634.6 417.5,634.5 417.9,634.8 418.3,635.1 418.7,634.9 419.1,634.4 419.5,634.1 419.9,634.4 420.3,634.6 420.7,634.9 421.1,634.6 421.5,634.6 421.9,634.7 422.3,634.5 422.7,634.7 423.1,635.3 423.5,635.3 423.9,635 424.3,634.6 424.7,634.4 425.1,634.6 425.5,634.7 425.9,634.6 426.3,634.4 426.7,634.5 427.1,634.6 427.5,634.8 427.9,635.1 428.3,634.7 428.7,634 429.1,633.9 429.5,633.9 429.9,634.2 430.3,634.7 430.7,634.7 431.1,634.5 431.5,634.5 431.9,634.2 432.3,633.9 432.7,633.9 433.1,634.3 433.5,634.8 433.9,634.5 434.3,635 434.7,635.1 434.9,634.6 435.1,636.4 435.5,640.5 435.5,640.5 435.9,636.7 436.1,634.6 436.3,635 436.7,635.1 437.1,634.9 437.5,634.7 437.9,634.6 438.3,634.5 438.7,634.3 439.1,634.6 439.5,634.6 439.5,634.6 439.9,638.5 440,639 440.3,636.1 440.6,634 440.7,633 441.1,631.6 441.5,630.2 441.9,629 442,629.2 442.3,631.4 442.7,634.4 442.8,634.6 443.1,635.1 443.5,634.8 443.9,634.6 444.3,634.8 444.7,634.5 445.1,634.5 445.5,635.1 445.9,635 446.3,634.6 446.3,634.9 446.7,631.3 447,628.5 447.1,628.9 447.5,631.9 447.8,634.6 447.9,634.5 448.3,635 448.7,634.8 449.1,634.4 449.5,634.3 449.9,634.2 450.3,634.5 450.7,634.8 451.1,634.5 451.5,634 451.9,634.3 452.3,634.7 452.7,634.9 453.1,634.8 453.5,634.4 453.9,634.5 454.3,634.5 454.7,634.6 455.1,634.8 455.5,634.8 455.9,634.5 456.3,634.5 456.7,634.1 457.1,634.1 457.5,634.6 457.9,634.5 458.3,634 458.7,634.2 459.1,634.7 459.5,635.2 459.9,635.2 460.3,634.8 460.7,634.2 461.1,634.5 461.5,634.8 461.9,634.9 462.3,634.8 462.7,634.8 463.1,635.3 463.5,635.3 463.9,634.7 464.3,634.6 464.7,635.1 465.1,634.9 465.5,635.2 465.9,635.3 466.3,634.6 466.7,634.6 467.1,634.6 467.5,634.8 467.9,635 468.3,635.4 468.7,635.1 469.1,634.9 469.4,634.7 469.5,635.1 469.9,637.1 470,637.5 470.3,636 470.6,634.7 470.7,634.5 471.1,634.1 471.5,634 471.9,634.7 472.3,634.5 472.7,634.4 473.1,634.4 473.5,634.2 473.9,634.3 474.3,634.9 474.7,635.5 475.1,635.2 475.5,634.8 475.9,634.3 476.3,634.4 476.7,634.4 477.1,634.7 477.5,634.7 477.9,634.6 478.3,634.6 478.7,634.3 479.1,634.2 479.5,634.5 479.9,634.2 480.3,634.1 480.7,634.4 481.1,634.4 481.5,634.8 481.9,635 482.3,634.7 482.3,634.8 482.7,631.6 483,629.2 483.1,629.4 483.5,632.4 483.8,634.7 483.9,634.2 484.3,634.5 484.7,634.6 485.1,634.9 485.5,634.8 485.9,634.1 486.3,634.6 486.4,634.7 486.7,633.8 487,631.7 487.1,632.1 487.5,633.3 487.7,634.7 487.9,634.9 488.3,635 488.7,634.5 489.1,634.5 489.5,634.5 489.9,634.1 490.3,634.6 490.7,635.4 491.1,635.5 491.5,635.1 491.9,635.2 492.3,634.6 492.7,634.1 493.1,634 493.5,634.7 493.9,634.9 494.3,635.4 494.7,635.1 495.1,634.6 495.5,634.3 495.9,634.9 496.3,634.7 496.7,634.4 497.1,634.1 497.5,634.9 497.9,635 498.3,634.7 498.7,634.7 499.1,635 499.5,635.1 499.9,635.1 500.3,635.2 500.7,634.8 501.1,634.5 501.5,634.2 501.9,633.8 502.3,634.3 502.7,635 503.1,634.8 503.5,634.6 503.9,634.5 504.3,634.1 504.7,634.5 505.1,634.9 505.5,634.9 505.9,634.7 506.3,635.2 506.7,635.4 507.1,634.9 507.5,634.8 507.9,634.1 508.3,634.1"/>
<path fill="none" stroke="#000" stroke-width="6.0" stroke-linecap="round" d="M76.2 604.8h0M76.7 605.2h0M77.2 604.8h0M77.7 604.5h0M78.2 605.6h0M78.7 604.9h0M79.2 604.8h0M79.7 605.1h0M80.2 604.5h0M80.7 604.6h0M81.2 604.8h0M81.7 604.8h0M82.2 605h0M82.7 605.3h0M83.2 604.8h0M83.7 605.1h0M84.2 605.2h0M84.7 604.7h0M85.2 605.1h0M85.7 604.7h0M86.2 605.3h0M86.7 605.1h0M87.2 605h0M87.7 604.6h0M88.2 605h0M88.7 604.8h0M89.2 605.2h0M89.7 604.9h0M90.2 604.7h0M90.7 605.3h0M91.2 605.2h0M91.7 604.8h0M92.2 605.3h0M92.7 604.9h0M93.2 604.9h0M93.7 605h0M94.2 604.8h0M94.7 604.8h0M95.2 604.9h0M95.7 605.4h0M96.2 605.4h0M96.7 604.9h0M97.2 605.5h0M97.7 605h0M98.2 605.1h0M98.7 605.2h0M99.2 605.1h0M99.7 605.7h0M100.2 605h0M100.7 604.6h0M101.2 605.4h0M101.7 604.8h0M102.2 604.9h0M102.7 604.1h0M103.2 605.3h0M103.7 605.2h0M104.2 605.2h0M104.7 605.3h0M105.2 605.5h0M105.7 605h0M106.2 605.2h0M106.7 604.7h0M107.2 604.9h0M107.7 605.3h0M108.2 605.1h0M108.7 604.6h0M109.2 605.1h0M109.7 604.9h0M110.2 604.7h0M110.7 605.1h0M111.2 604.8h0M111.7 604.5h0M112.2 604.6h0M112.7 605.5h0M113.2 604.5h0M113.7 605h0M114.2 605.1h0M114.7 605.1h0M115.2 604.6h0M115.7 604.8h0M116.2 605h0M116.7 605.2h0M117.2 604.7h0M117.7 604.6h0M118.2 605.2h0M118.7 605.3h0M119.2 605h0M119.7 604.8h0M120.2 605.1h0M120.7 605h0M121.2 605.2h0M121.7 604.6h0M122.2 605h0M122.7 604.9h0M123.2 604.6h0M123.7 605h0M124.2 604.9h0M124.7 604.8h0M125.2 605h0M125.7 604.5h0M126.2 604.9h0M126.7 605h0M127.2 605h0M127.7 605.2h0M128.2 604.5h0M128.7 604.4h0M129.2 604.9h0M129.7 605h0M130.2 605.5h0M130.7 605h0M131.2 604.5h0M131.7 605h0M132.2 604.5h0M132.7 604.3h0M133.2 605.4h0M133.7 604.7h0M134.2 604.7h0M134.7 604.5h0M135.2 604.7h0M135.7 603.9h0M136.2 603.5h0M136.7 601.3h0M137.2 596.9h0M139.2 599.8h0M139.7 602.4h0M140.2 603.2h0M140.7 604.4h0M141.2 604.4h0M141.7 604.6h0M142.2 604.6h0M142.7 604.9h0M143.2 604.8h0M143.7 604.9h0M144.2 604.4h0M144.7 604.9h0M145.2 605.4h0M145.7 604.6h0M146.2 604.8h0M146.7 605.1h0M147.2 605.1h0M147.7 605h0M148.2 604.1h0M148.7 603.4h0M149.2 604h0M149.7 604.5h0M150.2 605h0M150.7 604.7h0M151.2 605.1h0M151.7 605.8h0M152.2 605h0M152.7 605h0M153.2 604.5h0M153.7 604.6h0M154.2 604.5h0M154.7 604.6h0M155.2 604.4h0M155.7 604.6h0M156.2 604.7h0M156.7 604.4h0M157.2 604.3h0M157.7 604.3h0M158.2 604.8h0M158.7 604.7h0M159.2 605h0M159.7 605h0M160.2 604.5h0M160.7 604.8h0M161.2 604.2h0M161.7 605.3h0M162.2 604.9h0M162.7 604.4h0M163.2 603.8h0M163.7 603.3h0M164.2 603.8h0M164.7 604.2h0M165.2 604.7h0M165.7 604.5h0M166.2 604.3h0M166.7 604.7h0M167.2 604.1h0M167.7 604.5h0M168.2 604.3h0M168.7 604.1h0M169.2 604.5h0M169.7 604.1h0M170.2 604.9h0M170.7 604.1h0M171.2 604.9h0M171.7 604h0M172.2 604.4h0M172.7 603.9h0M173.2 603.8h0M173.7 604.2h0M174.2 604.3h0M174.7 603.7h0M175.2 604.4h0M175.7 603.7h0M176.2 603.9h0M176.7 603.9h0M177.2 603.8h0M177.7 602.9h0M178.2 603.6h0M178.7 602.9h0M179.2 601.9h0M179.7 600.4h0M180.2 597.3h0M183.2 599.7h0M183.7 601.1h0M184.2 602h0M184.7 603.2h0M185.2 603.2h0M185.7 603.3h0M186.2 603.3h0M186.7 603.1h0M187.2 603.3h0M187.7 603.5h0M188.2 603.7h0M188.7 603.9h0M189.2 603.9h0M189.7 603.9h0M190.2 603.9h0M190.7 603.5h0M191.2 603.2h0M191.7 603.7h0M192.2 603.6h0M192.7 603.6h0M193.2 603.8h0M193.7 603.5h0M194.2 603.5h0M194.7 603.8h0M195.2 603.9h0M195.7 603.7h0M196.2 604h0M196.7 603.8h0M197.2 603.5h0M197.7 603.9h0M198.2 604.4h0M198.7 603.6h0M199.2 604.2h0M199.7 604.2h0M200.2 604.3h0M200.7 603.6h0M201.2 604.4h0M201.7 603.8h0M202.2 603.7h0M202.7 603.7h0M203.2 604h0M203.7 603.8h0M204.2 603.7h0M204.7 604.2h0M205.2 603.5h0M205.7 603.4h0M206.2 604h0M206.7 604h0M207.2 604.1h0M207.7 603.4h0M208.2 604h0M208.7 603.9h0M209.2 604.2h0M209.7 603.3h0M210.2 603.8h0M210.7 603.6h0M211.2 603.2h0M211.7 603.5h0M212.2 604h0M212.7 603.5h0M213.2 603.4h0M213.7 603.9h0M214.2 603.9h0M214.7 603.9h0M215.2 603.4h0M215.7 603.6h0M216.2 603.9h0M216.7 603.3h0M217.2 603.3h0M217.7 603.7h0M218.2 603.9h0M218.7 603.1h0M219.2 602.6h0M219.7 602.9h0M220.2 602.9h0M220.7 603.1h0M221.2 603.2h0M221.7 602.7h0M222.2 602.1h0M222.7 601.5h0M223.2 598.7h0M225.2 599.2h0M225.7 601h0M226.2 601.9h0M226.7 602.4h0M227.2 602.2h0M227.7 602.6h0M228.2 602.7h0M228.7 603.1h0M229.2 602.7h0M229.7 602.5h0M230.2 602.3h0M230.7 602.2h0M231.2 602.3h0M231.7 601.9h0M232.2 601.7h0M232.7 600.2h0M233.2 598.9h0M233.7 594.5h0M236.7 598.1h0M237.2 600.3h0M237.7 601.1h0M238.2 601.7h0M238.7 602h0M239.2 602.7h0M239.7 602.7h0M240.2 602.7h0M240.7 602.8h0M241.2 603.1h0M241.7 603.1h0M242.2 602.8h0M242.7 603.6h0M243.2 603.1h0M243.7 603.1h0M244.2 603.5h0M244.7 603.4h0M245.2 603.1h0M245.7 603.3h0M246.2 602.8h0M246.7 602.9h0M247.2 602.4h0M247.7 603.4h0M248.2 602.5h0M248.7 603.2h0M249.2 602.7h0M249.7 602.6h0M250.2 602.7h0M250.7 602.6h0M251.2 602.4h0M251.7 602.1h0M252.2 600.2h0M252.7 595.2h0M254.2 596.8h0M254.7 600.4h0M255.2 601.7h0M255.7 602.3h0M256.2 602.6h0M256.7 602.8h0M257.2 602.7h0M257.7 602.7h0M258.2 603.2h0M258.7 602.5h0M259.2 602.8h0M259.7 603.5h0M260.2 602.2h0M260.7 602.8h0M261.2 603.2h0M261.7 602.5h0M262.2 603.8h0M262.7 602.2h0M263.2 603.4h0M263.7 603.4h0M264.2 603.1h0M264.7 602.7h0M265.2 602.5h0M265.7 601.1h0M266.2 597.3h0M266.7 597.9h0M267.2 601.7h0M267.7 602.8h0M268.2 602.4h0M268.7 602.7h0M269.2 603h0M269.7 602.5h0M270.2 603.3h0M270.7 603.1h0M271.2 602.5h0M271.7 602.9h0M272.2 602.7h0M272.7 602.8h0M273.2 603h0M273.7 602.7h0M274.2 603.2h0M274.7 602.7h0M275.2 603.2h0M275.7 602.9h0M276.2 603.2h0M276.7 602.7h0M277.2 602.7h0M277.7 602.5h0M278.2 603h0M278.7 603.1h0M279.2 603.4h0M279.7 603.1h0M280.2 602.8h0M280.7 602.6h0M281.2 602.7h0M281.7 602.5h0M282.2 602.8h0M282.7 602.5h0M283.2 601.6h0M283.7 601.2h0M284.2 600.9h0M284.7 598.5h0M287.2 597.6h0M287.7 599.6h0M288.2 601.5h0M288.7 601.4h0M289.2 601.9h0M289.7 602h0M290.2 602.6h0M290.7 602.5h0M291.2 602.5h0M291.7 602.1h0M292.2 602.6h0M292.7 602.2h0M293.2 602.8h0M293.7 602.8h0M294.2 602.7h0M294.7 603.3h0M295.2 602.9h0M295.7 602.9h0M296.2 602.7h0M296.7 602.6h0M297.2 603h0M297.7 603h0M298.2 602.3h0M298.7 603h0M299.2 602.8h0M299.7 603h0M300.2 602.8h0M300.7 602.3h0M301.2 602.3h0M301.7 603.1h0M302.2 602.7h0M302.7 602.1h0M303.2 602.6h0M303.7 602.4h0M304.2 601.9h0M304.7 601.7h0M305.2 601.8h0M305.7 602.2h0M306.2 601.9h0M306.7 601.5h0M307.2 601h0M307.7 600h0M308.2 596.3h0M310.2 594.2h0M310.7 598.9h0M311.2 600.5h0M311.7 600.9h0M312.2 601.6h0M312.7 602.6h0M313.2 601.8h0M313.7 601.7h0M314.2 602.4h0M314.7 602.5h0M315.2 602.5h0M315.7 602.1h0M316.2 602.7h0M316.7 602.2h0M317.2 602.1h0M317.7 602.3h0M318.2 602.4h0M318.7 602.7h0M319.2 602.7h0M319.7 602.5h0M320.2 602.7h0M320.7 602.5h0M321.2 602.7h0M321.7 602h0M322.2 602h0M322.7 602.7h0M323.2 602h0M323.7 602.3h0M324.2 602.4h0M324.7 602.3h0M325.2 602.3h0M325.7 602.8h0M326.2 601.6h0M326.7 602.6h0M327.2 603h0M327.7 602.3h0M328.2 602.3h0M328.7 602.5h0M329.2 602.8h0M329.7 601.9h0M330.2 602.2h0M330.7 602.1h0M331.2 602.3h0M331.7 602.1h0M332.2 602.2h0M332.7 601.8h0M333.2 601.8h0M333.7 601.5h0M334.2 601.3h0M334.7 601.2h0M335.2 600.8h0M335.7 599.8h0M336.2 599.5h0M336.7 596.7h0M339.7 597.5h0M340.2 599h0M340.7 599.5h0M341.2 599.9h0M341.7 600.5h0M342.2 599.1h0M342.7 599.4h0M343.2 598.8h0M343.7 597.2h0M344.2 595.1h0M348.7 595.2h0M349.2 597.4h0M349.7 598.7h0M350.2 599.9h0M350.7 600.3h0M351.2 600.2h0M351.7 600.5h0M352.2 601h0M352.7 600.9h0M353.2 601.1h0M353.7 600.9h0M354.2 601.2h0M354.7 601.4h0M355.2 601.5h0M355.7 601.1h0M356.2 601.6h0M356.7 600.6h0M357.2 601.1h0M357.7 599.6h0M358.2 597.8h0M361.2 596.1h0M361.7 599.5h0M362.2 599.9h0M362.7 600.9h0M363.2 600.3h0M363.7 601.3h0M364.2 601.3h0M364.7 601.8h0M365.2 601.7h0M365.7 601.4h0M366.2 602.1h0M366.7 602h0M367.2 602h0M367.7 602.2h0M368.2 602.2h0M368.7 601.9h0M369.2 601.5h0M369.7 601.5h0M370.2 602.3h0M370.7 602.2h0M371.2 602h0M371.7 601.8h0M372.2 602h0M372.7 602h0M373.2 601.8h0M373.7 601.7h0M374.2 602.6h0M374.7 602h0M375.2 601.8h0M375.7 601.5h0M376.2 601.7h0M376.7 602.1h0M377.2 602.1h0M377.7 601.8h0M378.2 601.9h0M378.7 601.7h0M379.2 601.5h0M379.7 602.2h0M380.2 601.8h0M380.7 602.4h0M381.2 601.4h0M381.7 601.5h0M382.2 601.6h0M382.7 601h0M383.2 600.3h0M383.7 599.7h0M384.2 598.2h0M384.7 593.8h0M385.2 585.9h0M385.7 587.7h0M386.2 595.2h0M386.7 598.8h0M387.2 600.1h0M387.7 600.7h0M388.2 601.2h0M388.7 601.5h0M389.2 601.4h0M389.7 601.6h0M390.2 601.4h0M390.7 601.1h0M391.2 601.3h0M391.7 601.8h0M392.2 601.7h0M392.7 602h0M393.2 601.5h0M393.7 601.7h0M394.2 601.8h0M394.7 601.6h0M395.2 601.1h0M395.7 601h0M396.2 600.8h0M396.7 600h0M397.2 599.4h0M397.7 597.1h0M398.2 591.5h0M398.7 589.3h0M399.2 593.8h0M399.7 597.7h0M400.2 599.3h0M400.7 599.8h0M401.2 600.3h0M401.7 600.1h0M402.2 600.3h0M402.7 599.4h0M403.2 598.3h0M403.7 595.8h0M404.2 589.8h0M404.7 578.1h0M405.2 566.7h0M405.7 578.4h0M406.2 590.3h0M406.7 596.4h0M407.2 598.5h0M407.7 599.7h0M408.2 600.2h0M408.7 600.6h0M409.2 601h0M409.7 601.2h0M410.2 600.9h0M410.7 601.3h0M411.2 602.1h0M411.7 601.3h0M412.2 601.3h0M412.7 601.2h0M413.2 601h0M413.7 601.8h0M414.2 601.5h0M414.7 601.6h0M415.2 602h0M415.7 602.3h0M416.2 601.2h0M416.7 601.8h0M417.2 601.7h0M417.7 601.6h0M418.2 601.7h0M418.7 601.5h0M419.2 602h0M419.7 601.7h0M420.2 601.6h0M420.7 601.9h0M421.2 601.8h0M421.7 601.6h0M422.2 601.6h0M422.7 602h0M423.2 601.6h0M423.7 601.4h0M424.2 601.2h0M424.7 601.3h0M425.2 601.1h0M425.7 601.4h0M426.2 601.5h0M426.7 600.7h0M427.2 601.3h0M427.7 601.5h0M428.2 601.3h0M428.7 600.9h0M429.2 601.5h0M429.7 600.9h0M430.2 600.6h0M430.7 600.6h0M431.2 600.7h0M431.7 600.8h0M432.2 600.6h0M432.7 600h0M433.2 599h0M433.7 598.3h0M434.2 596.5h0M434.7 593.2h0M435.2 585.3h0M435.7 574.5h0M436.2 572.8h0M436.7 583.4h0M437.2 591.7h0M437.7 595h0M438.2 596.3h0M438.7 596.9h0M439.2 597h0M439.7 595.2h0M440.2 590.7h0M440.7 582.6h0M441.2 571h0M441.7 573.5h0M442.2 584.8h0M442.7 592.3h0M443.2 596.4h0M443.7 597.7h0M444.2 598.6h0M444.7 598.9h0M445.2 599.6h0M445.7 599.5h0M446.2 599.2h0M446.7 598.3h0M447.2 596.8h0M447.7 593h0M448.2 591.4h0M448.7 595h0M449.2 598.1h0M449.7 599.4h0M450.2 599.6h0M450.7 600.3h0M451.2 600.9h0M451.7 600.9h0M452.2 601.5h0M452.7 600.7h0M453.2 601.4h0M453.7 601h0M454.2 601.7h0M454.7 601.3h0M455.2 601.6h0M455.7 601.1h0M456.2 600.9h0M456.7 601h0M457.2 601.2h0M457.7 601h0M458.2 601.7h0M458.7 601.8h0M459.2 601.4h0M459.7 601h0M460.2 601.3h0M460.7 601.1h0M461.2 601.7h0M461.7 601.4h0M462.2 601.4h0M462.7 601.1h0M463.2 600.6h0M463.7 600.9h0M464.2 600.8h0M464.7 601.2h0M465.2 601h0M465.7 600.6h0M466.2 600.6h0M466.7 601h0M467.2 600h0M467.7 599.6h0M468.2 599h0M468.7 597.5h0M469.2 594.9h0M469.7 590.3h0M470.2 585.3h0M470.7 585h0M471.2 591.3h0M471.7 595.6h0M472.2 598h0M472.7 599.1h0M473.2 599.7h0M473.7 600.4h0M474.2 600.2h0M474.7 600.5h0M475.2 600.6h0M475.7 600.6h0M476.2 600.6h0M476.7 600.9h0M477.2 600.5h0M477.7 600.4h0M478.2 600.2h0M478.7 599.7h0M479.2 599.4h0M479.7 598.7h0M480.2 598.1h0M480.7 596.1h0M481.2 592.6h0M481.7 587h0M482.2 579.6h0M482.7 577.9h0M483.2 585.8h0M483.7 591.8h0M484.2 595.5h0M484.7 597.7h0M485.2 598.4h0M485.7 598.5h0M486.2 599.4h0M486.7 597.9h0M487.2 597h0M487.7 594.9h0M488.2 591.1h0M488.7 590.1h0M489.2 593h0M489.7 596.9h0M490.2 597.9h0M490.7 599.3h0M491.2 600.2h0M491.7 600.3h0M492.2 600.2h0M492.7 600.8h0M493.2 600.9h0M493.7 601.1h0M494.2 601.3h0M494.7 601.3h0M495.2 601.2h0M495.7 601.2h0M496.2 600.8h0M496.7 601.1h0M497.2 601.3h0M497.7 601.1h0M498.2 601.2h0M498.7 601h0M499.2 601.7h0M499.7 601.9h0M500.2 601.1h0M500.7 601.4h0M501.2 601.2h0M501.7 601.7h0M502.2 601.4h0M502.7 601.3h0M503.2 601.2h0M503.7 601.3h0M504.2 601h0M504.7 601.5h0M505.2 601.1h0M505.7 601.5h0M506.2 601.3h0M506.7 601.6h0M507.2 601.3h0M507.7 601.6h0M138 466.9h0M138.2 488.8h0M138 534.1h0M138.2 558.6h0M137.8 582.3h0M138.4 591.8h0M181.4 411.5h0M181.6 430.3h0M181.4 484.2h0M181.6 539.9h0M181.4 560.1h0M181.8 585.5h0M181.2 591.8h0M224.2 545.1h0M224.4 552.9h0M224.2 559.5h0M224.7 581.7h0M224 590h0M234.8 436.6h0M235 451.1h0M234.8 491.7h0M235 518.3h0M234.8 547.7h0M235 574.5h0M234.6 583.2h0M235.2 590.4h0M253.2 563h0M253.4 567h0M253.2 574.5h0M253.7 581.3h0M253 586.3h0M253.7 595h0M285.8 543.3h0M286 556.3h0M285.8 565h0M286.2 580h0M285.5 590.5h0M309.2 554.1h0M309.4 568.6h0M309.2 571.2h0M309.7 585h0M308.9 595h0M338 563.4h0M338.2 571.6h0M337.8 579.9h0M338.5 587.5h0M337.8 592.3h0M346.3 469.2h0M346.5 504.6h0M346.3 509.8h0M346.5 536.2h0M346.3 569.6h0M346.8 586h0M359.7 551.6h0M359.9 570.6h0M359.4 578.9h0M360.2 591.2h0M189.2 598.6h0M189.7 600.2h0M210.2 599.6h0M210.7 600.6h0M405 566.9h0M435.4 570.2h0M441.4 568.3h0M470.2 583.6h0M482.5 577.2h0M398.3 587.9h0"/>
<polyline fill="none" stroke="#dd1a1a" stroke-width="2.3" stroke-linejoin="round" points="76,605 76.1,605 76.2,605 76.3,605 76.4,605 76.5,605 76.6,605 76.7,605 76.8,605 76.9,605 77,605 77.1,605 77.2,605 77.3,605 77.4,605 77.5,605 77.6,605 77.7,605 77.8,605 77.9,605 78,605 78.1,605 78.2,605 78.3,605 78.4,605 78.5,605 78.6,605 78.7,605 78.8,605 78.9,605 79,605 79.1,605 79.2,605 79.3,605 79.4,605 79.5,605 79.6,605 79.7,605 79.8,605 79.9,605 80,605 80.1,605 80.2,605 80.3,605 80.4,605 80.5,605 80.6,605 80.7,605 80.8,605 80.9,605 81,605 81.1,605 81.2,605 81.3,605 81.4,605 81.5,605 81.6,605 81.7,605 81.8,605 81.9,605 82,605 82.1,605 82.2,605 82.3,605 82.4,605 82.5,605 82.6,605 82.7,605 82.8,605 82.9,605 83,605 83.1,605 83.2,605 83.3,605 83.4,605 83.5,605 83.6,605 83.7,605 83.8,605 83.9,605 84,605 84.1,605 84.2,605 84.3,605 84.4,605 84.5,605 84.6,605 84.7,605 84.8,605 84.9,605 85,605 85.1,605 85.2,605 85.3,605 85.4,605 85.5,605 85.6,605 85.7,605 85.8,605 85.9,605 86,605 86.1,605 86.2,605 86.3,605 86.4,605 86.5,605 86.6,605 86.7,605 86.8,605 86.9,605 87,605 87.1,605 87.2,605 87.3,605 87.4,605 87.5,605 87.6,605 87.7,605 87.8,605 87.9,605 88,605 88.1,605 88.2,605 88.3,605 88.4,605 88.5,605 88.6,605 88.7,605 88.8,605 88.9,605 89,605 89.1,605 89.2,605 89.3,605 89.4,605 89.5,605 89.6,605 89.7,605 89.8,605 89.9,605 90,605 90.1,605 90.2,605 90.3,605 90.4,605 90.5,605 90.6,605 90.7,605 90.8,605 90.9,605 91,605 91.1,605 91.2,605 91.3,605 91.4,605 91.5,605 91.6,605 91.7,605 91.8,605 91.9,605 92,605 92.1,605 92.2,605 92.3,605 92.4,605 92.5,605 92.6,605 92.7,605 92.8,605 92.9,605 93,605 93.1,605 93.2,605 93.3,605 93.4,605 93.5,605 93.6,605 93.7,605 93.8,605 93.9,605 94,605 94.1,605 94.2,605 94.3,605 94.4,605 94.5,605 94.6,605 94.7,605 94.8,605 94.9,605 95,605 95.1,605 95.2,605 95.3,605 95.4,605 95.5,605 95.6,605 95.7,605 95.8,605 95.9,605 96,605 96.1,605 96.2,605 96.3,605 96.4,605 96.5,605 96.6,605 96.7,605 96.8,605 96.9,605 97,605 97.1,605 97.2,605 97.3,605 97.4,605 97.5,605 97.6,605 97.7,605 97.8,605 97.9,605 98,605 98.1,605 98.2,605 98.3,605 98.4,605 98.5,605 98.6,605 98.7,605 98.8,605 98.9,605 99,605 99.1,605 99.2,605 99.3,605 99.4,605 99.5,605 99.6,605 99.7,605 99.8,605 99.9,605 100,605 100.1,605 100.2,605 100.3,605 100.4,605 100.5,605 100.6,605 100.7,605 100.8,605 100.9,605 101,605 101.1,605 101.2,605 101.3,605 101.4,605 101.5,605 101.6,605 101.7,605 101.8,605 101.9,605 102,605 102.1,605 102.2,605 102.3,605 102.4,605 102.5,605 102.6,605 102.7,605 102.8,605 102.9,605 103,605 103.1,605 103.2,605 103.3,605 103.4,605 103.5,605 103.6,605 103.7,605 103.8,605 103.9,605 104,605 104.1,605 104.2,605 104.3,605 104.4,605 104.5,605 104.6,605 104.7,605 104.8,605 104.9,605 105,605 105.1,605 105.2,605 105.3,605 105.4,605 105.5,605 105.6,605 105.7,605 105.8,605 105.9,605 106,605 106.1,605 106.2,605 106.3,605 106.4,605 106.5,605 106.6,605 106.7,605 106.8,605 106.9,605 107,605 107.1,605 107.2,605 107.3,605 107.4,605 107.5,605 107.6,605 107.7,605 107.8,605 107.9,605 108,605 108.1,605 108.2,605 108.3,605 108.4,605 108.5,605 108.6,605 108.7,605 108.8,605 108.9,605 109,605 109.1,605 109.2,605 109.3,605 109.4,605 109.5,605 109.6,605 109.7,605 109.8,605 109.9,605 110,605 110.1,605 110.2,605 110.3,605 110.4,605 110.5,605 110.6,605 110.7,605 110.8,605 110.9,605 111,605 111.1,605 111.2,605 111.3,605 111.4,605 111.5,605 111.6,605 111.7,605 111.8,605 111.9,605 112,605 112.1,605 112.2,605 112.3,605 112.4,605 112.5,605 112.6,605 112.7,605 112.8,605 112.9,605 113,605 113.1,605 113.2,605 113.3,605 113.4,605 113.5,605 113.6,605 113.7,605 113.8,604.9 113.9,604.9 114,604.9 114.1,604.9 114.2,604.9 114.3,604.9 114.4,604.9 114.5,604.9 114.6,604.9 114.7,604.9 114.8,604.9 114.9,604.9 115,604.9 115.1,604.9 115.2,604.9 115.3,604.9 115.4,604.9 115.5,604.9 115.6,604.9 115.7,604.9 115.8,604.9 115.9,604.9 116,604.9 116.1,604.9 116.2,604.9 116.3,604.9 116.4,604.9 116.5,604.9 116.6,604.9 116.7,604.9 116.8,604.9 116.9,604.9 117,604.9 117.1,604.9 117.2,604.9 117.3,604.9 117.4,604.9 117.5,604.9 117.6,604.9 117.7,604.9 117.8,604.9 117.9,604.9 118,604.9 118.1,604.9 118.2,604.9 118.3,604.9 118.4,604.9 118.5,604.9 118.6,604.9 118.7,604.9 118.8,604.9 118.9,604.9 119,604.9 119.1,604.9 119.2,604.9 119.3,604.9 119.4,604.9 119.5,604.9 119.6,604.9 119.7,604.9 119.8,604.9 119.9,604.9 120,604.9 120.1,604.9 120.2,604.9 120.3,604.9 120.4,604.9 120.5,604.9 120.6,604.9 120.7,604.9 120.8,604.9 120.9,604.9 121,604.9 121.1,604.9 121.2,604.9 121.3,604.9 121.4,604.9 121.5,604.9 121.6,604.9 121.7,604.9 121.8,604.9 121.9,604.9 122,604.9 122.1,604.9 122.2,604.9 122.3,604.9 122.4,604.9 122.5,604.9 122.6,604.9 122.7,604.9 122.8,604.9 122.9,604.9 123,604.9 123.1,604.9 123.2,604.9 123.3,604.9 123.4,604.9 123.5,604.9 123.6,604.9 123.7,604.9 123.8,604.9 123.9,604.9 124,604.9 124.1,604.9 124.2,604.9 124.3,604.9 124.4,604.9 124.5,604.9 124.6,604.9 124.7,604.9 124.8,604.9 124.9,604.9 125,604.9 125.1,604.9 125.2,604.9 125.3,604.9 125.4,604.9 125.5,604.9 125.6,604.9 125.7,604.9 125.8,604.9 125.9,604.9 126,604.9 126.1,604.9 126.2,604.9 126.3,604.9 126.4,604.9 126.5,604.9 126.6,604.9 126.7,604.9 126.8,604.9 126.9,604.9 127,604.9 127.1,604.9 127.2,604.9 127.3,604.9 127.4,604.9 127.5,604.9 127.6,604.9 127.7,604.9 127.8,604.9 127.9,604.9 128,604.9 128.1,604.9 128.2,604.9 128.3,604.9 128.4,604.9 128.5,604.9 128.6,604.9 128.7,604.9 128.8,604.9 128.9,604.9 129,604.9 129.1,604.9 129.2,604.9 129.3,604.9 129.4,604.9 129.5,604.9 129.6,604.9 129.7,604.8 129.8,604.8 129.9,604.8 130,604.8 130.1,604.8 130.2,604.8 130.3,604.8 130.4,604.8 130.5,604.8 130.6,604.8 130.7,604.8 130.8,604.8 130.9,604.8 131,604.8 131.1,604.8 131.2,604.8 131.3,604.8 131.4,604.8 131.5,604.8 131.6,604.8 131.7,604.8 131.8,604.8 131.9,604.8 132,604.8 132.1,604.8 132.2,604.7 132.3,604.7 132.4,604.7 132.5,604.7 132.6,604.7 132.7,604.7 132.8,604.7 132.9,604.7 133,604.7 133.1,604.7 133.2,604.7 133.3,604.7 133.4,604.6 133.5,604.6 133.6,604.6 133.7,604.6 133.8,604.6 133.9,604.6 134,604.5 134.1,604.5 134.2,604.5 134.3,604.5 134.4,604.5 134.5,604.4 134.6,604.4 134.7,604.4 134.8,604.3 134.9,604.3 135,604.2 135.1,604.2 135.2,604.2 135.3,604.1 135.4,604 135.5,604 135.6,603.9 135.7,603.8 135.8,603.7 135.9,603.6 136,603.4 136.1,603.3 136.2,603.1 136.3,602.9 136.4,602.7 136.5,602.4 136.6,602.1 136.7,601.6 136.8,601.1 136.9,600.5 137,599.7 137.1,598.7 137.2,597.3 137.3,595.4 137.4,592.8 137.5,588.8 137.6,582.4 137.7,571.6 137.8,553.5 137.9,525.4 138,490.9 138.1,472.3 138.2,490.9 138.3,525.4 138.4,553.5 138.5,571.6 138.6,582.4 138.7,588.8 138.8,592.8 138.9,595.4 139,597.3 139.1,598.7 139.2,599.7 139.3,600.5 139.4,601.1 139.5,601.6 139.6,602.1 139.7,602.4 139.8,602.7 139.9,602.9 140,603.1 140.1,603.3 140.2,603.4 140.3,603.6 140.4,603.7 140.5,603.8 140.6,603.9 140.7,604 140.8,604 140.9,604.1 141,604.1 141.1,604.2 141.2,604.2 141.3,604.3 141.4,604.3 141.5,604.4 141.6,604.4 141.7,604.4 141.8,604.4 141.9,604.5 142,604.5 142.1,604.5 142.2,604.5 142.3,604.5 142.4,604.6 142.5,604.6 142.6,604.6 142.7,604.6 142.8,604.6 142.9,604.6 143,604.6 143.1,604.7 143.2,604.7 143.3,604.7 143.4,604.7 143.5,604.7 143.6,604.7 143.7,604.7 143.8,604.7 143.9,604.7 144,604.7 144.1,604.7 144.2,604.7 144.3,604.7 144.4,604.8 144.5,604.8 144.6,604.8 144.7,604.8 144.8,604.8 144.9,604.8 145,604.8 145.1,604.8 145.2,604.8 145.3,604.8 145.4,604.8 145.5,604.8 145.6,604.8 145.7,604.8 145.8,604.8 145.9,604.8 146,604.8 146.1,604.8 146.2,604.8 146.3,604.8 146.4,604.8 146.5,604.8 146.6,604.8 146.7,604.8 146.8,604.8 146.9,604.8 147,604.8 147.1,604.8 147.2,604.8 147.3,604.8 147.4,604.8 147.5,604.8 147.6,604.8 147.7,604.8 147.8,604.8 147.9,604.7 148,604.7 148.1,604.7 148.2,604.6 148.3,604.5 148.4,604.4 148.5,604.1 148.6,603.7 148.7,603.2 148.8,603 148.9,603.2 149,603.7 149.1,604.1 149.2,604.4 149.3,604.5 149.4,604.6 149.5,604.7 149.6,604.7 149.7,604.8 149.8,604.8 149.9,604.8 150,604.8 150.1,604.8 150.2,604.8 150.3,604.8 150.4,604.8 150.5,604.8 150.6,604.8 150.7,604.8 150.8,604.8 150.9,604.8 151,604.8 151.1,604.8 151.2,604.8 151.3,604.8 151.4,604.8 151.5,604.8 151.6,604.8 151.7,604.8 151.8,604.8 151.9,604.8 152,604.8 152.1,604.8 152.2,604.8 152.3,604.8 152.4,604.8 152.5,604.8 152.6,604.8 152.7,604.8 152.8,604.8 152.9,604.8 153,604.8 153.1,604.8 153.2,604.8 153.3,604.8 153.4,604.8 153.5,604.8 153.6,604.8 153.7,604.8 153.8,604.8 153.9,604.8 154,604.8 154.1,604.8 154.2,604.8 154.3,604.8 154.4,604.8 154.5,604.8 154.6,604.8 154.7,604.8 154.8,604.8 154.9,604.8 155,604.8 155.1,604.8 155.2,604.8 155.3,604.8 155.4,604.8 155.5,604.8 155.6,604.8 155.7,604.7 155.8,604.7 155.9,604.7 156,604.7 156.1,604.7 156.2,604.7 156.3,604.7 156.4,604.7 156.5,604.7 156.6,604.7 156.7,604.7 156.8,604.7 156.9,604.7 157,604.7 157.1,604.7 157.2,604.7 157.3,604.7 157.4,604.7 157.5,604.7 157.6,604.7 157.7,604.7 157.8,604.7 157.9,604.7 158,604.7 158.1,604.7 158.2,604.7 158.3,604.7 158.4,604.7 158.5,604.7 158.6,604.7 158.7,604.7 158.8,604.7 158.9,604.7 159,604.7 159.1,604.7 159.2,604.7 159.3,604.7 159.4,604.7 159.5,604.7 159.6,604.7 159.7,604.7 159.8,604.6 159.9,604.6 160,604.6 160.1,604.6 160.2,604.6 160.3,604.6 160.4,604.6 160.5,604.6 160.6,604.6 160.7,604.6 160.8,604.6 160.9,604.6 161,604.6 161.1,604.6 161.2,604.6 161.3,604.6 161.4,604.6 161.5,604.6 161.6,604.6 161.7,604.6 161.8,604.6 161.9,604.6 162,604.6 162.1,604.6 162.2,604.6 162.3,604.5 162.4,604.5 162.5,604.5 162.6,604.5 162.7,604.5 162.8,604.5 162.9,604.4 163,604.4 163.1,604.3 163.2,604.1 163.3,603.9 163.4,603.6 163.5,603.2 163.6,603 163.7,603.2 163.8,603.6 163.9,603.9 164,604.1 164.1,604.2 164.2,604.3 164.3,604.4 164.4,604.4 164.5,604.4 164.6,604.4 164.7,604.5 164.8,604.5 164.9,604.5 165,604.5 165.1,604.5 165.2,604.5 165.3,604.5 165.4,604.5 165.5,604.5 165.6,604.5 165.7,604.5 165.8,604.5 165.9,604.5 166,604.5 166.1,604.5 166.2,604.5 166.3,604.5 166.4,604.5 166.5,604.5 166.6,604.5 166.7,604.5 166.8,604.5 166.9,604.5 167,604.5 167.1,604.4 167.2,604.4 167.3,604.4 167.4,604.4 167.5,604.4 167.6,604.4 167.7,604.4 167.8,604.4 167.9,604.4 168,604.4 168.1,604.4 168.2,604.4 168.3,604.4 168.4,604.4 168.5,604.4 168.6,604.4 168.7,604.4 168.8,604.4 168.9,604.4 169,604.4 169.1,604.4 169.2,604.4 169.3,604.4 169.4,604.4 169.5,604.4 169.6,604.4 169.7,604.4 169.8,604.4 169.9,604.4 170,604.4 170.1,604.3 170.2,604.3 170.3,604.3 170.4,604.3 170.5,604.3 170.6,604.3 170.7,604.3 170.8,604.3 170.9,604.3 171,604.3 171.1,604.3 171.2,604.3 171.3,604.3 171.4,604.3 171.5,604.3 171.6,604.3 171.7,604.3 171.8,604.3 171.9,604.3 172,604.3 172.1,604.3 172.2,604.3 172.3,604.2 172.4,604.2 172.5,604.2 172.6,604.2 172.7,604.2 172.8,604.2 172.9,604.2 173,604.2 173.1,604.2 173.2,604.2 173.3,604.2 173.4,604.2 173.5,604.2 173.6,604.2 173.7,604.2 173.8,604.1 173.9,604.1 174,604.1 174.1,604.1 174.2,604.1 174.3,604.1 174.4,604.1 174.5,604.1 174.6,604.1 174.7,604.1 174.8,604.1 174.9,604 175,604 175.1,604 175.2,604 175.3,604 175.4,604 175.5,604 175.6,604 175.7,603.9 175.8,603.9 175.9,603.9 176,603.9 176.1,603.9 176.2,603.9 176.3,603.8 176.4,603.8 176.5,603.8 176.6,603.8 176.7,603.8 176.8,603.7 176.9,603.7 177,603.7 177.1,603.6 177.2,603.6 177.3,603.6 177.4,603.5 177.5,603.5 177.6,603.5 177.7,603.4 177.8,603.4 177.9,603.3 178,603.3 178.1,603.2 178.2,603.1 178.3,603.1 178.4,603 178.5,602.9 178.6,602.8 178.7,602.7 178.8,602.6 178.9,602.5 179,602.3 179.1,602.2 179.2,602 179.3,601.8 179.4,601.6 179.5,601.3 179.6,601 179.7,600.7 179.8,600.3 179.9,599.8 180,599.3 180.1,598.6 180.2,597.8 180.3,596.8 180.4,595.6 180.5,594.1 180.6,592.1 180.7,589.5 180.8,585.9 180.9,580.9 181,573.2 181.1,561.2 181.2,542.1 181.3,512.6 181.4,471.2 181.5,425.5 181.6,403 181.7,425.5 181.8,471.2 181.9,512.6 182,542.1 182.1,561.2 182.2,573.2 182.3,580.8 182.4,585.9 182.5,589.5 182.6,592.1 182.7,594 182.8,595.6 182.9,596.8 183,597.8 183.1,598.6 183.2,599.2 183.3,599.8 183.4,600.2 183.5,600.6 183.6,600.9 183.7,601.2 183.8,601.5 183.9,601.7 184,601.9 184.1,602.1 184.2,602.2 184.3,602.4 184.4,602.5 184.5,602.6 184.6,602.7 184.7,602.8 184.8,602.8 184.9,602.9 185,603 185.1,603 185.2,603.1 185.3,603.2 185.4,603.2 185.5,603.2 185.6,603.3 185.7,603.3 185.8,603.3 185.9,603.4 186,603.4 186.1,603.4 186.2,603.5 186.3,603.5 186.4,603.5 186.5,603.5 186.6,603.5 186.7,603.6 186.8,603.6 186.9,603.6 187,603.6 187.1,603.6 187.2,603.6 187.3,603.6 187.4,603.7 187.5,603.7 187.6,603.7 187.7,603.7 187.8,603.7 187.9,603.7 188,603.7 188.1,603.7 188.2,603.7 188.3,603.7 188.4,603.7 188.5,603.7 188.6,603.8 188.7,603.8 188.8,603.8 188.9,603.8 189,603.8 189.1,603.8 189.2,603.8 189.3,603.8 189.4,603.8 189.5,603.8 189.6,603.8 189.7,603.8 189.8,603.8 189.9,603.8 190,603.8 190.1,603.8 190.2,603.8 190.3,603.8 190.4,603.8 190.5,603.8 190.6,603.8 190.7,603.8 190.8,603.8 190.9,603.8 191,603.8 191.1,603.8 191.2,603.8 191.3,603.8 191.4,603.8 191.5,603.8 191.6,603.8 191.7,603.8 191.8,603.8 191.9,603.8 192,603.8 192.1,603.8 192.2,603.8 192.3,603.8 192.4,603.8 192.5,603.8 192.6,603.8 192.7,603.8 192.8,603.8 192.9,603.8 193,603.8 193.1,603.8 193.2,603.8 193.3,603.8 193.4,603.8 193.5,603.8 193.6,603.8 193.7,603.8 193.8,603.8 193.9,603.9 194,603.9 194.1,603.9 194.2,603.9 194.3,603.9 194.4,603.9 194.5,603.9 194.6,603.9 194.7,603.9 194.8,603.9 194.9,603.9 195,603.8 195.1,603.8 195.2,603.8 195.3,603.8 195.4,603.8 195.5,603.8 195.6,603.8 195.7,603.8 195.8,603.8 195.9,603.8 196,603.8 196.1,603.8 196.2,603.8 196.3,603.8 196.4,603.8 196.5,603.8 196.6,603.8 196.7,603.8 196.8,603.8 196.9,603.8 197,603.8 197.1,603.8 197.2,603.8 197.3,603.8 197.4,603.8 197.5,603.8 197.6,603.8 197.7,603.8 197.8,603.8 197.9,603.8 198,603.8 198.1,603.8 198.2,603.8 198.3,603.8 198.4,603.8 198.5,603.8 198.6,603.8 198.7,603.8 198.8,603.8 198.9,603.8 199,603.8 199.1,603.8 199.2,603.8 199.3,603.8 199.4,603.8 199.5,603.8 199.6,603.8 199.7,603.8 199.8,603.8 199.9,603.8 200,603.8 200.1,603.8 200.2,603.8 200.3,603.8 200.4,603.8 200.5,603.8 200.6,603.8 200.7,603.8 200.8,603.8 200.9,603.8 201,603.8 201.1,603.8 201.2,603.8 201.3,603.8 201.4,603.8 201.5,603.8 201.6,603.8 201.7,603.8 201.8,603.8 201.9,603.8 202,603.8 202.1,603.8 202.2,603.8 202.3,603.8 202.4,603.8 202.5,603.8 202.6,603.8 202.7,603.8 202.8,603.8 202.9,603.8 203,603.8 203.1,603.8 203.2,603.8 203.3,603.8 203.4,603.8 203.5,603.8 203.6,603.8 203.7,603.8 203.8,603.8 203.9,603.8 204,603.8 204.1,603.8 204.2,603.8 204.3,603.8 204.4,603.8 204.5,603.8 204.6,603.8 204.7,603.8 204.8,603.8 204.9,603.8 205,603.8 205.1,603.8 205.2,603.8 205.3,603.8 205.4,603.8 205.5,603.8 205.6,603.8 205.7,603.8 205.8,603.8 205.9,603.8 206,603.8 206.1,603.8 206.2,603.8 206.3,603.7 206.4,603.7 206.5,603.7 206.6,603.7 206.7,603.7 206.8,603.7 206.9,603.7 207,603.7 207.1,603.7 207.2,603.7 207.3,603.7 207.4,603.7 207.5,603.7 207.6,603.7 207.7,603.7 207.8,603.7 207.9,603.7 208,603.7 208.1,603.7 208.2,603.7 208.3,603.7 208.4,603.7 208.5,603.7 208.6,603.7 208.7,603.7 208.8,603.7 208.9,603.7 209,603.7 209.1,603.7 209.2,603.7 209.3,603.7 209.4,603.7 209.5,603.7 209.6,603.7 209.7,603.7 209.8,603.7 209.9,603.7 210,603.7 210.1,603.7 210.2,603.7 210.3,603.7 210.4,603.7 210.5,603.7 210.6,603.7 210.7,603.7 210.8,603.7 210.9,603.7 211,603.7 211.1,603.7 211.2,603.7 211.3,603.7 211.4,603.7 211.5,603.7 211.6,603.7 211.7,603.7 211.8,603.7 211.9,603.7 212,603.7 212.1,603.7 212.2,603.7 212.3,603.7 212.4,603.7 212.5,603.7 212.6,603.6 212.7,603.6 212.8,603.6 212.9,603.6 213,603.6 213.1,603.6 213.2,603.6 213.3,603.6 213.4,603.6 213.5,603.6 213.6,603.6 213.7,603.6 213.8,603.6 213.9,603.6 214,603.6 214.1,603.6 214.2,603.6 214.3,603.6 214.4,603.6 214.5,603.6 214.6,603.6 214.7,603.6 214.8,603.6 214.9,603.6 215,603.6 215.1,603.6 215.2,603.6 215.3,603.6 215.4,603.6 215.5,603.6 215.6,603.6 215.7,603.6 215.8,603.6 215.9,603.6 216,603.6 216.1,603.6 216.2,603.6 216.3,603.6 216.4,603.5 216.5,603.5 216.6,603.5 216.7,603.5 216.8,603.5 216.9,603.5 217,603.5 217.1,603.5 217.2,603.5 217.3,603.5 217.4,603.5 217.5,603.5 217.6,603.5 217.7,603.5 217.8,603.5 217.9,603.5 218,603.5 218.1,603.5 218.2,603.5 218.3,603.5 218.4,603.4 218.5,603.4 218.6,603.4 218.7,603.4 218.8,603.4 218.9,603.4 219,603.4 219.1,603.4 219.2,603.4 219.3,603.4 219.4,603.4 219.5,603.4 219.6,603.3 219.7,603.3 219.8,603.3 219.9,603.3 220,603.3 220.1,603.3 220.2,603.3 220.3,603.2 220.4,603.2 220.5,603.2 220.6,603.2 220.7,603.1 220.8,603.1 220.9,603.1 221,603.1 221.1,603 221.2,603 221.3,603 221.4,602.9 221.5,602.9 221.6,602.8 221.7,602.7 221.8,602.7 221.9,602.6 222,602.5 222.1,602.4 222.2,602.3 222.3,602.2 222.4,602 222.5,601.9 222.6,601.7 222.7,601.4 222.8,601.1 222.9,600.7 223,600.3 223.1,599.7 223.2,599 223.3,598.1 223.4,596.7 223.5,594.9 223.6,592.1 223.7,588 223.8,582 223.9,573.7 224,563.3 224.1,553.2 224.2,548.6 224.3,553.1 224.4,563.3 224.5,573.7 224.6,582 224.7,588 224.8,592.1 224.9,594.8 225,596.7 225.1,598 225.2,598.9 225.3,599.7 225.4,600.2 225.5,600.6 225.6,601 225.7,601.3 225.8,601.5 225.9,601.7 226,601.9 226.1,602 226.2,602.2 226.3,602.3 226.4,602.3 226.5,602.4 226.6,602.5 226.7,602.5 226.8,602.6 226.9,602.6 227,602.7 227.1,602.7 227.2,602.7 227.3,602.8 227.4,602.8 227.5,602.8 227.6,602.8 227.7,602.8 227.8,602.9 227.9,602.9 228,602.9 228.1,602.9 228.2,602.9 228.3,602.9 228.4,602.9 228.5,602.9 228.6,602.9 228.7,602.9 228.8,602.9 228.9,602.9 229,602.9 229.1,602.9 229.2,602.8 229.3,602.8 229.4,602.8 229.5,602.8 229.6,602.8 229.7,602.8 229.8,602.8 229.9,602.7 230,602.7 230.1,602.7 230.2,602.7 230.3,602.6 230.4,602.6 230.5,602.6 230.6,602.6 230.7,602.5 230.8,602.5 230.9,602.4 231,602.4 231.1,602.3 231.2,602.3 231.3,602.2 231.4,602.2 231.5,602.1 231.6,602 231.7,601.9 231.8,601.8 231.9,601.7 232,601.6 232.1,601.5 232.2,601.4 232.3,601.2 232.4,601.1 232.5,600.9 232.6,600.7 232.7,600.4 232.8,600.1 232.9,599.8 233,599.5 233.1,599.1 233.2,598.6 233.3,598 233.4,597.4 233.5,596.6 233.6,595.6 233.7,594.4 233.8,593 233.9,591.2 234,588.8 234.1,585.7 234.2,581.4 234.3,575.3 234.4,566.5 234.5,553.5 234.6,535.1 234.7,510.1 234.8,479.8 234.9,451.1 235,438.5 235.1,451.1 235.2,479.8 235.3,510.1 235.4,535.1 235.5,553.5 235.6,566.5 235.7,575.3 235.8,581.4 235.9,585.7 236,588.8 236.1,591.2 236.2,593 236.3,594.4 236.4,595.6 236.5,596.5 236.6,597.3 236.7,598 236.8,598.6 236.9,599 237,599.5 237.1,599.8 237.2,600.1 237.3,600.4 237.4,600.6 237.5,600.8 237.6,601 237.7,601.2 237.8,601.3 237.9,601.5 238,601.6 238.1,601.7 238.2,601.8 238.3,601.9 238.4,602 238.5,602.1 238.6,602.1 238.7,602.2 238.8,602.3 238.9,602.3 239,602.4 239.1,602.4 239.2,602.5 239.3,602.5 239.4,602.5 239.5,602.6 239.6,602.6 239.7,602.6 239.8,602.7 239.9,602.7 240,602.7 240.1,602.7 240.2,602.8 240.3,602.8 240.4,602.8 240.5,602.8 240.6,602.8 240.7,602.9 240.8,602.9 240.9,602.9 241,602.9 241.1,602.9 241.2,602.9 241.3,602.9 241.4,602.9 241.5,603 241.6,603 241.7,603 241.8,603 241.9,603 242,603 242.1,603 242.2,603 242.3,603 242.4,603 242.5,603 242.6,603 242.7,603 242.8,603 242.9,603.1 243,603.1 243.1,603.1 243.2,603.1 243.3,603.1 243.4,603.1 243.5,603.1 243.6,603.1 243.7,603.1 243.8,603.1 243.9,603.1 244,603.1 244.1,603.1 244.2,603.1 244.3,603.1 244.4,603.1 244.5,603.1 244.6,603.1 244.7,603.1 244.8,603.1 244.9,603.1 245,603.1 245.1,603.1 245.2,603.1 245.3,603.1 245.4,603.1 245.5,603.1 245.6,603.1 245.7,603.1 245.8,603.1 245.9,603.1 246,603.1 246.1,603.1 246.2,603.1 246.3,603.1 246.4,603.1 246.5,603.1 246.6,603.1 246.7,603.1 246.8,603.1 246.9,603.1 247,603.1 247.1,603.1 247.2,603.1 247.3,603.1 247.4,603.1 247.5,603.1 247.6,603.1 247.7,603.1 247.8,603.1 247.9,603 248,603 248.1,603 248.2,603 248.3,603 248.4,603 248.5,603 248.6,603 248.7,603 248.8,603 248.9,603 249,603 249.1,602.9 249.2,602.9 249.3,602.9 249.4,602.9 249.5,602.9 249.6,602.9 249.7,602.9 249.8,602.8 249.9,602.8 250,602.8 250.1,602.8 250.2,602.7 250.3,602.7 250.4,602.7 250.5,602.6 250.6,602.6 250.7,602.6 250.8,602.5 250.9,602.4 251,602.4 251.1,602.3 251.2,602.2 251.3,602.1 251.4,602 251.5,601.9 251.6,601.8 251.7,601.6 251.8,601.4 251.9,601.2 252,600.9 252.1,600.5 252.2,600.1 252.3,599.6 252.4,598.9 252.5,598 252.6,596.7 252.7,595 252.8,592.4 252.9,588.9 253,584.1 253.1,577.8 253.2,570.6 253.3,564.1 253.4,561.3 253.5,564.1 253.6,570.6 253.7,577.8 253.8,584.1 253.9,588.9 254,592.4 254.1,594.9 254.2,596.7 254.3,598 254.4,598.9 254.5,599.6 254.6,600.1 254.7,600.5 254.8,600.9 254.9,601.1 255,601.4 255.1,601.6 255.2,601.7 255.3,601.9 255.4,602 255.5,602.1 255.6,602.2 255.7,602.3 255.8,602.3 255.9,602.4 256,602.5 256.1,602.5 256.2,602.6 256.3,602.6 256.4,602.6 256.5,602.7 256.6,602.7 256.7,602.7 256.8,602.7 256.9,602.8 257,602.8 257.1,602.8 257.2,602.8 257.3,602.8 257.4,602.8 257.5,602.9 257.6,602.9 257.7,602.9 257.8,602.9 257.9,602.9 258,602.9 258.1,602.9 258.2,602.9 258.3,602.9 258.4,602.9 258.5,602.9 258.6,603 258.7,603 258.8,603 258.9,603 259,603 259.1,603 259.2,603 259.3,603 259.4,603 259.5,603 259.6,603 259.7,603 259.8,603 259.9,603 260,603 260.1,603 260.2,603 260.3,603 260.4,603 260.5,603 260.6,603 260.7,603 260.8,603 260.9,603 261,603 261.1,603 261.2,603 261.3,603 261.4,603 261.5,603 261.6,603 261.7,603 261.8,603 261.9,603 262,603 262.1,603 262.2,603 262.3,603 262.4,603 262.5,603 262.6,603 262.7,603 262.8,603 262.9,603 263,603 263.1,603 263.2,603 263.3,603 263.4,603 263.5,602.9 263.6,602.9 263.7,602.9 263.8,602.9 263.9,602.9 264,602.9 264.1,602.9 264.2,602.9 264.3,602.8 264.4,602.8 264.5,602.8 264.6,602.8 264.7,602.7 264.8,602.7 264.9,602.6 265,602.6 265.1,602.5 265.2,602.4 265.3,602.3 265.4,602.2 265.5,602 265.6,601.8 265.7,601.4 265.8,600.9 265.9,600.3 266,599.4 266.1,598.3 266.2,597 266.3,595.9 266.4,595.5 266.5,595.9 266.6,597 266.7,598.3 266.8,599.4 266.9,600.3 267,600.9 267.1,601.4 267.2,601.7 267.3,602 267.4,602.2 267.5,602.3 267.6,602.4 267.7,602.5 267.8,602.6 267.9,602.6 268,602.7 268.1,602.7 268.2,602.7 268.3,602.8 268.4,602.8 268.5,602.8 268.6,602.8 268.7,602.9 268.8,602.9 268.9,602.9 269,602.9 269.1,602.9 269.2,602.9 269.3,602.9 269.4,602.9 269.5,602.9 269.6,602.9 269.7,602.9 269.8,602.9 269.9,602.9 270,602.9 270.1,602.9 270.2,602.9 270.3,603 270.4,603 270.5,603 270.6,603 270.7,603 270.8,603 270.9,603 271,603 271.1,603 271.2,603 271.3,603 271.4,603 271.5,603 271.6,603 271.7,603 271.8,603 271.9,603 272,603 272.1,603 272.2,603 272.3,603 272.4,603 272.5,603 272.6,603 272.7,603 272.8,603 272.9,603 273,603 273.1,603 273.2,603 273.3,603 273.4,603 273.5,603 273.6,603 273.7,602.9 273.8,602.9 273.9,602.9 274,602.9 274.1,602.9 274.2,602.9 274.3,602.9 274.4,602.9 274.5,602.9 274.6,602.9 274.7,602.9 274.8,602.9 274.9,602.9 275,602.9 275.1,602.9 275.2,602.9 275.3,602.9 275.4,602.9 275.5,602.9 275.6,602.9 275.7,602.9 275.8,602.9 275.9,602.9 276,602.9 276.1,602.9 276.2,602.9 276.3,602.9 276.4,602.9 276.5,602.9 276.6,602.9 276.7,602.9 276.8,602.9 276.9,602.9 277,602.9 277.1,602.9 277.2,602.9 277.3,602.9 277.4,602.9 277.5,602.9 277.6,602.9 277.7,602.9 277.8,602.9 277.9,602.9 278,602.8 278.1,602.8 278.2,602.8 278.3,602.8 278.4,602.8 278.5,602.8 278.6,602.8 278.7,602.8 278.8,602.8 278.9,602.8 279,602.8 279.1,602.8 279.2,602.8 279.3,602.8 279.4,602.8 279.5,602.8 279.6,602.8 279.7,602.8 279.8,602.7 279.9,602.7 280,602.7 280.1,602.7 280.2,602.7 280.3,602.7 280.4,602.7 280.5,602.7 280.6,602.7 280.7,602.7 280.8,602.6 280.9,602.6 281,602.6 281.1,602.6 281.2,602.6 281.3,602.6 281.4,602.6 281.5,602.5 281.6,602.5 281.7,602.5 281.8,602.5 281.9,602.5 282,602.4 282.1,602.4 282.2,602.4 282.3,602.3 282.4,602.3 282.5,602.3 282.6,602.2 282.7,602.2 282.8,602.1 282.9,602.1 283,602 283.1,602 283.2,601.9 283.3,601.8 283.4,601.7 283.5,601.6 283.6,601.5 283.7,601.4 283.8,601.3 283.9,601.1 284,600.9 284.1,600.7 284.2,600.5 284.3,600.2 284.4,599.9 284.5,599.5 284.6,599 284.7,598.4 284.8,597.7 284.9,596.8 285,595.7 285.1,594.1 285.2,592 285.3,589.2 285.4,585.4 285.5,580.4 285.6,574 285.7,566.3 285.8,558.1 285.9,551.3 286,548.6 286.1,551.3 286.2,558.1 286.3,566.3 286.4,574 286.5,580.4 286.6,585.4 286.7,589.2 286.8,592 286.9,594.1 287,595.6 287.1,596.8 287.2,597.7 287.3,598.4 287.4,599 287.5,599.4 287.6,599.8 287.7,600.2 287.8,600.4 287.9,600.7 288,600.9 288.1,601.1 288.2,601.2 288.3,601.4 288.4,601.5 288.5,601.6 288.6,601.7 288.7,601.8 288.8,601.8 288.9,601.9 289,602 289.1,602 289.2,602.1 289.3,602.1 289.4,602.2 289.5,602.2 289.6,602.2 289.7,602.3 289.8,602.3 289.9,602.3 290,602.3 290.1,602.4 290.2,602.4 290.3,602.4 290.4,602.4 290.5,602.5 290.6,602.5 290.7,602.5 290.8,602.5 290.9,602.5 291,602.5 291.1,602.5 291.2,602.5 291.3,602.6 291.4,602.6 291.5,602.6 291.6,602.6 291.7,602.6 291.8,602.6 291.9,602.6 292,602.6 292.1,602.6 292.2,602.6 292.3,602.6 292.4,602.6 292.5,602.6 292.6,602.6 292.7,602.6 292.8,602.7 292.9,602.7 293,602.7 293.1,602.7 293.2,602.7 293.3,602.7 293.4,602.7 293.5,602.7 293.6,602.7 293.7,602.7 293.8,602.7 293.9,602.7 294,602.7 294.1,602.7 294.2,602.7 294.3,602.7 294.4,602.7 294.5,602.7 294.6,602.7 294.7,602.7 294.8,602.7 294.9,602.7 295,602.7 295.1,602.7 295.2,602.7 295.3,602.7 295.4,602.7 295.5,602.7 295.6,602.7 295.7,602.7 295.8,602.7 295.9,602.7 296,602.7 296.1,602.7 296.2,602.7 296.3,602.7 296.4,602.7 296.5,602.7 296.6,602.7 296.7,602.7 296.8,602.7 296.9,602.7 297,602.7 297.1,602.7 297.2,602.7 297.3,602.7 297.4,602.7 297.5,602.7 297.6,602.7 297.7,602.7 297.8,602.7 297.9,602.7 298,602.7 298.1,602.7 298.2,602.7 298.3,602.7 298.4,602.7 298.5,602.7 298.6,602.7 298.7,602.7 298.8,602.7 298.9,602.7 299,602.7 299.1,602.7 299.2,602.7 299.3,602.7 299.4,602.7 299.5,602.7 299.6,602.7 299.7,602.7 299.8,602.7 299.9,602.7 300,602.7 300.1,602.7 300.2,602.7 300.3,602.6 300.4,602.6 300.5,602.6 300.6,602.6 300.7,602.6 300.8,602.6 300.9,602.6 301,602.6 301.1,602.6 301.2,602.6 301.3,602.6 301.4,602.6 301.5,602.6 301.6,602.6 301.7,602.6 301.8,602.6 301.9,602.6 302,602.6 302.1,602.6 302.2,602.6 302.3,602.6 302.4,602.6 302.5,602.6 302.6,602.6 302.7,602.6 302.8,602.5 302.9,602.5 303,602.5 303.1,602.5 303.2,602.5 303.3,602.5 303.4,602.5 303.5,602.5 303.6,602.5 303.7,602.5 303.8,602.5 303.9,602.5 304,602.4 304.1,602.4 304.2,602.4 304.3,602.4 304.4,602.4 304.5,602.4 304.6,602.4 304.7,602.3 304.8,602.3 304.9,602.3 305,602.3 305.1,602.3 305.2,602.2 305.3,602.2 305.4,602.2 305.5,602.2 305.6,602.1 305.7,602.1 305.8,602.1 305.9,602 306,602 306.1,601.9 306.2,601.9 306.3,601.8 306.4,601.8 306.5,601.7 306.6,601.6 306.7,601.5 306.8,601.5 306.9,601.4 307,601.2 307.1,601.1 307.2,601 307.3,600.8 307.4,600.6 307.5,600.4 307.6,600.1 307.7,599.8 307.8,599.4 307.9,599 308,598.4 308.1,597.8 308.2,596.9 308.3,595.8 308.4,594.4 308.5,592.5 308.6,590 308.7,586.8 308.8,582.7 308.9,577.8 309,572.1 309.1,566.4 309.2,561.9 309.3,560.2 309.4,561.9 309.5,566.4 309.6,572.1 309.7,577.7 309.8,582.7 309.9,586.7 310,590 310.1,592.4 310.2,594.3 310.3,595.8 310.4,596.9 310.5,597.7 310.6,598.4 310.7,599 310.8,599.4 310.9,599.8 311,600.1 311.1,600.3 311.2,600.6 311.3,600.7 311.4,600.9 311.5,601.1 311.6,601.2 311.7,601.3 311.8,601.4 311.9,601.5 312,601.6 312.1,601.6 312.2,601.7 312.3,601.8 312.4,601.8 312.5,601.9 312.6,601.9 312.7,602 312.8,602 312.9,602 313,602.1 313.1,602.1 313.2,602.1 313.3,602.1 313.4,602.2 313.5,602.2 313.6,602.2 313.7,602.2 313.8,602.2 313.9,602.2 314,602.3 314.1,602.3 314.2,602.3 314.3,602.3 314.4,602.3 314.5,602.3 314.6,602.3 314.7,602.3 314.8,602.4 314.9,602.4 315,602.4 315.1,602.4 315.2,602.4 315.3,602.4 315.4,602.4 315.5,602.4 315.6,602.4 315.7,602.4 315.8,602.4 315.9,602.4 316,602.4 316.1,602.4 316.2,602.4 316.3,602.4 316.4,602.4 316.5,602.4 316.6,602.4 316.7,602.4 316.8,602.4 316.9,602.4 317,602.5 317.1,602.5 317.2,602.5 317.3,602.5 317.4,602.5 317.5,602.5 317.6,602.5 317.7,602.5 317.8,602.5 317.9,602.5 318,602.5 318.1,602.5 318.2,602.5 318.3,602.5 318.4,602.5 318.5,602.5 318.6,602.5 318.7,602.5 318.8,602.5 318.9,602.5 319,602.5 319.1,602.5 319.2,602.5 319.3,602.5 319.4,602.5 319.5,602.5 319.6,602.5 319.7,602.5 319.8,602.5 319.9,602.5 320,602.5 320.1,602.5 320.2,602.5 320.3,602.5 320.4,602.5 320.5,602.5 320.6,602.5 320.7,602.5 320.8,602.5 320.9,602.5 321,602.5 321.1,602.5 321.2,602.5 321.3,602.5 321.4,602.5 321.5,602.5 321.6,602.5 321.7,602.5 321.8,602.5 321.9,602.5 322,602.5 322.1,602.5 322.2,602.5 322.3,602.4 322.4,602.4 322.5,602.4 322.6,602.4 322.7,602.4 322.8,602.4 322.9,602.4 323,602.4 323.1,602.4 323.2,602.4 323.3,602.4 323.4,602.4 323.5,602.4 323.6,602.4 323.7,602.4 323.8,602.4 323.9,602.4 324,602.4 324.1,602.4 324.2,602.4 324.3,602.4 324.4,602.4 324.5,602.4 324.6,602.4 324.7,602.4 324.8,602.4 324.9,602.4 325,602.4 325.1,602.4 325.2,602.4 325.3,602.4 325.4,602.4 325.5,602.4 325.6,602.4 325.7,602.4 325.8,602.4 325.9,602.4 326,602.4 326.1,602.4 326.2,602.4 326.3,602.4 326.4,602.4 326.5,602.4 326.6,602.4 326.7,602.4 326.8,602.4 326.9,602.3 327,602.3 327.1,602.3 327.2,602.3 327.3,602.3 327.4,602.3 327.5,602.3 327.6,602.3 327.7,602.3 327.8,602.3 327.9,602.3 328,602.3 328.1,602.3 328.2,602.3 328.3,602.3 328.4,602.3 328.5,602.3 328.6,602.3 328.7,602.3 328.8,602.3 328.9,602.3 329,602.3 329.1,602.3 329.2,602.2 329.3,602.2 329.4,602.2 329.5,602.2 329.6,602.2 329.7,602.2 329.8,602.2 329.9,602.2 330,602.2 330.1,602.2 330.2,602.2 330.3,602.2 330.4,602.2 330.5,602.2 330.6,602.2 330.7,602.1 330.8,602.1 330.9,602.1 331,602.1 331.1,602.1 331.2,602.1 331.3,602.1 331.4,602.1 331.5,602.1 331.6,602.1 331.7,602 331.8,602 331.9,602 332,602 332.1,602 332.2,602 332.3,602 332.4,601.9 332.5,601.9 332.6,601.9 332.7,601.9 332.8,601.9 332.9,601.9 333,601.8 333.1,601.8 333.2,601.8 333.3,601.8 333.4,601.7 333.5,601.7 333.6,601.7 333.7,601.7 333.8,601.6 333.9,601.6 334,601.5 334.1,601.5 334.2,601.5 334.3,601.4 334.4,601.4 334.5,601.3 334.6,601.3 334.7,601.2 334.8,601.1 334.9,601.1 335,601 335.1,600.9 335.2,600.8 335.3,600.7 335.4,600.6 335.5,600.5 335.6,600.3 335.7,600.2 335.8,600 335.9,599.8 336,599.6 336.1,599.3 336.2,599.1 336.3,598.7 336.4,598.3 336.5,597.9 336.6,597.4 336.7,596.7 336.8,595.9 336.9,594.9 337,593.7 337.1,592.1 337.2,590.1 337.3,587.6 337.4,584.5 337.5,580.6 337.6,575.9 337.7,570.5 337.8,564.7 337.9,559.2 338,555.1 338.1,553.5 338.2,555 338.3,559.1 338.4,564.6 338.5,570.4 338.6,575.8 338.7,580.4 338.8,584.3 338.9,587.4 339,589.9 339.1,591.9 339.2,593.4 339.3,594.6 339.4,595.6 339.5,596.3 339.6,596.9 339.7,597.4 339.8,597.9 339.9,598.2 340,598.5 340.1,598.7 340.2,599 340.3,599.1 340.4,599.3 340.5,599.4 340.6,599.5 340.7,599.6 340.8,599.7 340.9,599.8 341,599.8 341.1,599.9 341.2,599.9 341.3,599.9 341.4,599.9 341.5,599.9 341.6,599.9 341.7,599.9 341.8,599.9 341.9,599.9 342,599.8 342.1,599.8 342.2,599.7 342.3,599.7 342.4,599.6 342.5,599.5 342.6,599.4 342.7,599.3 342.8,599.2 342.9,599.1 343,599 343.1,598.8 343.2,598.6 343.3,598.5 343.4,598.2 343.5,598 343.6,597.8 343.7,597.5 343.8,597.2 343.9,596.8 344,596.4 344.1,596 344.2,595.5 344.3,594.9 344.4,594.3 344.5,593.5 344.6,592.7 344.7,591.7 344.8,590.6 344.9,589.2 345,587.6 345.1,585.7 345.2,583.3 345.3,580.3 345.4,576.5 345.5,571.8 345.6,565.9 345.7,558.5 345.8,549.3 345.9,538.1 346,524.8 346.1,509.6 346.2,493.6 346.3,478.6 346.4,467.5 346.5,463.4 346.6,467.5 346.7,478.6 346.8,493.6 346.9,509.6 347,524.8 347.1,538.1 347.2,549.3 347.3,558.5 347.4,566 347.5,571.9 347.6,576.6 347.7,580.3 347.8,583.3 347.9,585.7 348,587.7 348.1,589.3 348.2,590.6 348.3,591.8 348.4,592.8 348.5,593.6 348.6,594.4 348.7,595 348.8,595.6 348.9,596.1 349,596.6 349.1,597 349.2,597.3 349.3,597.6 349.4,597.9 349.5,598.2 349.6,598.4 349.7,598.7 349.8,598.9 349.9,599 350,599.2 350.1,599.4 350.2,599.5 350.3,599.6 350.4,599.8 350.5,599.9 350.6,600 350.7,600.1 350.8,600.2 350.9,600.2 351,600.3 351.1,600.4 351.2,600.5 351.3,600.5 351.4,600.6 351.5,600.6 351.6,600.7 351.7,600.7 351.8,600.8 351.9,600.8 352,600.9 352.1,600.9 352.2,600.9 352.3,601 352.4,601 352.5,601 352.6,601.1 352.7,601.1 352.8,601.1 352.9,601.1 353,601.1 353.1,601.2 353.2,601.2 353.3,601.2 353.4,601.2 353.5,601.2 353.6,601.2 353.7,601.2 353.8,601.2 353.9,601.2 354,601.2 354.1,601.3 354.2,601.3 354.3,601.3 354.4,601.3 354.5,601.3 354.6,601.3 354.7,601.2 354.8,601.2 354.9,601.2 355,601.2 355.1,601.2 355.2,601.2 355.3,601.2 355.4,601.2 355.5,601.1 355.6,601.1 355.7,601.1 355.8,601.1 355.9,601 356,601 356.1,601 356.2,600.9 356.3,600.9 356.4,600.8 356.5,600.8 356.6,600.7 356.7,600.7 356.8,600.6 356.9,600.5 357,600.4 357.1,600.3 357.2,600.2 357.3,600 357.4,599.9 357.5,599.7 357.6,599.6 357.7,599.3 357.8,599.1 357.9,598.8 358,598.5 358.1,598.1 358.2,597.7 358.3,597.1 358.4,596.5 358.5,595.7 358.6,594.7 358.7,593.5 358.8,591.9 358.9,590 359,587.7 359.1,584.8 359.2,581.4 359.3,577.5 359.4,573.1 359.5,568.6 359.6,564.4 359.7,561.4 359.8,560.3 359.9,561.4 360,564.4 360.1,568.6 360.2,573.1 360.3,577.5 360.4,581.5 360.5,584.9 360.6,587.7 360.7,590.1 360.8,592 360.9,593.5 361,594.7 361.1,595.7 361.2,596.5 361.3,597.2 361.4,597.7 361.5,598.2 361.6,598.6 361.7,598.9 361.8,599.2 361.9,599.4 362,599.7 362.1,599.9 362.2,600 362.3,600.2 362.4,600.3 362.5,600.4 362.6,600.5 362.7,600.6 362.8,600.7 362.9,600.8 363,600.9 363.1,601 363.2,601 363.3,601.1 363.4,601.1 363.5,601.2 363.6,601.2 363.7,601.3 363.8,601.3 363.9,601.3 364,601.4 364.1,601.4 364.2,601.4 364.3,601.5 364.4,601.5 364.5,601.5 364.6,601.5 364.7,601.6 364.8,601.6 364.9,601.6 365,601.6 365.1,601.6 365.2,601.6 365.3,601.7 365.4,601.7 365.5,601.7 365.6,601.7 365.7,601.7 365.8,601.7 365.9,601.7 366,601.8 366.1,601.8 366.2,601.8 366.3,601.8 366.4,601.8 366.5,601.8 366.6,601.8 366.7,601.8 366.8,601.8 366.9,601.8 367,601.8 367.1,601.8 367.2,601.8 367.3,601.8 367.4,601.9 367.5,601.9 367.6,601.9 367.7,601.9 367.8,601.9 367.9,601.9 368,601.9 368.1,601.9 368.2,601.9 368.3,601.9 368.4,601.9 368.5,601.9 368.6,601.9 368.7,601.9 368.8,601.9 368.9,601.9 369,601.9 369.1,601.9 369.2,601.9 369.3,601.9 369.4,601.9 369.5,601.9 369.6,601.9 369.7,601.9 369.8,601.9 369.9,601.9 370,601.9 370.1,601.9 370.2,601.9 370.3,601.9 370.4,601.9 370.5,601.9 370.6,601.9 370.7,601.9 370.8,601.9 370.9,601.9 371,601.9 371.1,601.9 371.2,601.9 371.3,601.9 371.4,601.9 371.5,601.9 371.6,601.9 371.7,601.9 371.8,601.9 371.9,601.9 372,602 372.1,602 372.2,602 372.3,602 372.4,602 372.5,602 372.6,602 372.7,602 372.8,602 372.9,602 373,601.9 373.1,601.9 373.2,601.9 373.3,601.9 373.4,601.9 373.5,601.9 373.6,601.9 373.7,601.9 373.8,601.9 373.9,601.9 374,601.9 374.1,601.9 374.2,601.9 374.3,601.9 374.4,601.9 374.5,601.9 374.6,601.9 374.7,601.9 374.8,601.9 374.9,601.9 375,601.9 375.1,601.9 375.2,601.9 375.3,601.9 375.4,601.9 375.5,601.9 375.6,601.9 375.7,601.9 375.8,601.9 375.9,601.9 376,601.9 376.1,601.9 376.2,601.9 376.3,601.9 376.4,601.9 376.5,601.9 376.6,601.9 376.7,601.9 376.8,601.9 376.9,601.9 377,601.9 377.1,601.9 377.2,601.9 377.3,601.9 377.4,601.9 377.5,601.9 377.6,601.9 377.7,601.9 377.8,601.9 377.9,601.9 378,601.9 378.1,601.9 378.2,601.9 378.3,601.9 378.4,601.9 378.5,601.8 378.6,601.8 378.7,601.8 378.8,601.8 378.9,601.8 379,601.8 379.1,601.8 379.2,601.8 379.3,601.8 379.4,601.8 379.5,601.8 379.6,601.8 379.7,601.8 379.8,601.8 379.9,601.8 380,601.8 380.1,601.7 380.2,601.7 380.3,601.7 380.4,601.7 380.5,601.7 380.6,601.7 380.7,601.7 380.8,601.7 380.9,601.7 381,601.6 381.1,601.6 381.2,601.6 381.3,601.6 381.4,601.6 381.5,601.5 381.6,601.5 381.7,601.5 381.8,601.5 381.9,601.4 382,601.4 382.1,601.4 382.2,601.3 382.3,601.3 382.4,601.3 382.5,601.2 382.6,601.2 382.7,601.1 382.8,601 382.9,601 383,600.9 383.1,600.8 383.2,600.7 383.3,600.6 383.4,600.5 383.5,600.3 383.6,600.2 383.7,600 383.8,599.7 383.9,599.5 384,599.1 384.1,598.7 384.2,598.2 384.3,597.6 384.4,596.9 384.5,596 384.6,595 384.7,593.7 384.8,592.3 384.9,590.7 385,589.1 385.1,587.4 385.2,585.9 385.3,584.9 385.4,584.5 385.5,584.9 385.6,585.9 385.7,587.4 385.8,589 385.9,590.7 386,592.3 386.1,593.7 386.2,594.9 386.3,596 386.4,596.9 386.5,597.6 386.6,598.2 386.7,598.7 386.8,599.1 386.9,599.4 387,599.7 387.1,599.9 387.2,600.1 387.3,600.3 387.4,600.4 387.5,600.5 387.6,600.6 387.7,600.7 387.8,600.8 387.9,600.9 388,601 388.1,601 388.2,601.1 388.3,601.1 388.4,601.2 388.5,601.2 388.6,601.2 388.7,601.3 388.8,601.3 388.9,601.3 389,601.4 389.1,601.4 389.2,601.4 389.3,601.4 389.4,601.4 389.5,601.4 389.6,601.5 389.7,601.5 389.8,601.5 389.9,601.5 390,601.5 390.1,601.5 390.2,601.5 390.3,601.5 390.4,601.5 390.5,601.5 390.6,601.5 390.7,601.6 390.8,601.6 390.9,601.6 391,601.6 391.1,601.6 391.2,601.6 391.3,601.6 391.4,601.6 391.5,601.6 391.6,601.6 391.7,601.6 391.8,601.6 391.9,601.6 392,601.6 392.1,601.6 392.2,601.6 392.3,601.6 392.4,601.6 392.5,601.6 392.6,601.6 392.7,601.6 392.8,601.5 392.9,601.5 393,601.5 393.1,601.5 393.2,601.5 393.3,601.5 393.4,601.5 393.5,601.5 393.6,601.5 393.7,601.5 393.8,601.5 393.9,601.5 394,601.5 394.1,601.4 394.2,601.4 394.3,601.4 394.4,601.4 394.5,601.4 394.6,601.4 394.7,601.3 394.8,601.3 394.9,601.3 395,601.3 395.1,601.3 395.2,601.2 395.3,601.2 395.4,601.2 395.5,601.1 395.6,601.1 395.7,601.1 395.8,601 395.9,601 396,600.9 396.1,600.9 396.2,600.8 396.3,600.7 396.4,600.6 396.5,600.5 396.6,600.4 396.7,600.3 396.8,600.2 396.9,600 397,599.8 397.1,599.6 397.2,599.3 397.3,598.9 397.4,598.5 397.5,598.1 397.6,597.5 397.7,596.8 397.8,596 397.9,595.1 398,594 398.1,592.9 398.2,591.7 398.3,590.5 398.4,589.5 398.5,588.8 398.6,588.5 398.7,588.7 398.8,589.4 398.9,590.4 399,591.6 399.1,592.8 399.2,593.9 399.3,594.9 399.4,595.8 399.5,596.6 399.6,597.3 399.7,597.8 399.8,598.3 399.9,598.6 400,598.9 400.1,599.2 400.2,599.4 400.3,599.6 400.4,599.7 400.5,599.8 400.6,599.9 400.7,600 400.8,600 400.9,600.1 401,600.1 401.1,600.1 401.2,600.2 401.3,600.2 401.4,600.1 401.5,600.1 401.6,600.1 401.7,600.1 401.8,600 401.9,600 402,599.9 402.1,599.9 402.2,599.8 402.3,599.7 402.4,599.6 402.5,599.5 402.6,599.4 402.7,599.2 402.8,599.1 402.9,598.9 403,598.7 403.1,598.4 403.2,598.2 403.3,597.8 403.4,597.5 403.5,597 403.6,596.5 403.7,595.8 403.8,595.1 403.9,594.2 404,593.1 404.1,591.8 404.2,590.2 404.3,588.4 404.4,586.3 404.5,583.8 404.6,581.1 404.7,578.1 404.8,575 404.9,572 405,569.4 405.1,567.6 405.2,567 405.3,567.6 405.4,569.4 405.5,572 405.6,575 405.7,578.1 405.8,581.1 405.9,583.9 406,586.3 406.1,588.5 406.2,590.3 406.3,591.8 406.4,593.2 406.5,594.3 406.6,595.2 406.7,595.9 406.8,596.6 406.9,597.1 407,597.6 407.1,598 407.2,598.3 407.3,598.6 407.4,598.8 407.5,599.1 407.6,599.3 407.7,599.4 407.8,599.6 407.9,599.7 408,599.9 408.1,600 408.2,600.1 408.3,600.2 408.4,600.3 408.5,600.4 408.6,600.4 408.7,600.5 408.8,600.6 408.9,600.6 409,600.7 409.1,600.7 409.2,600.8 409.3,600.8 409.4,600.9 409.5,600.9 409.6,600.9 409.7,601 409.8,601 409.9,601 410,601 410.1,601.1 410.2,601.1 410.3,601.1 410.4,601.1 410.5,601.2 410.6,601.2 410.7,601.2 410.8,601.2 410.9,601.2 411,601.2 411.1,601.3 411.2,601.3 411.3,601.3 411.4,601.3 411.5,601.3 411.6,601.3 411.7,601.3 411.8,601.3 411.9,601.3 412,601.4 412.1,601.4 412.2,601.4 412.3,601.4 412.4,601.4 412.5,601.4 412.6,601.4 412.7,601.4 412.8,601.4 412.9,601.4 413,601.4 413.1,601.4 413.2,601.4 413.3,601.4 413.4,601.4 413.5,601.4 413.6,601.5 413.7,601.5 413.8,601.5 413.9,601.5 414,601.5 414.1,601.5 414.2,601.5 414.3,601.5 414.4,601.5 414.5,601.5 414.6,601.5 414.7,601.5 414.8,601.5 414.9,601.5 415,601.5 415.1,601.5 415.2,601.5 415.3,601.5 415.4,601.5 415.5,601.5 415.6,601.5 415.7,601.5 415.8,601.5 415.9,601.5 416,601.5 416.1,601.5 416.2,601.5 416.3,601.5 416.4,601.5 416.5,601.5 416.6,601.5 416.7,601.5 416.8,601.5 416.9,601.5 417,601.5 417.1,601.5 417.2,601.5 417.3,601.5 417.4,601.5 417.5,601.5 417.6,601.5 417.7,601.5 417.8,601.5 417.9,601.5 418,601.5 418.1,601.5 418.2,601.5 418.3,601.5 418.4,601.5 418.5,601.5 418.6,601.5 418.7,601.5 418.8,601.5 418.9,601.5 419,601.5 419.1,601.5 419.2,601.5 419.3,601.5 419.4,601.5 419.5,601.5 419.6,601.5 419.7,601.5 419.8,601.5 419.9,601.5 420,601.5 420.1,601.5 420.2,601.5 420.3,601.5 420.4,601.5 420.5,601.5 420.6,601.5 420.7,601.5 420.8,601.5 420.9,601.5 421,601.5 421.1,601.5 421.2,601.5 421.3,601.5 421.4,601.5 421.5,601.5 421.6,601.5 421.7,601.5 421.8,601.5 421.9,601.5 422,601.5 422.1,601.5 422.2,601.5 422.3,601.5 422.4,601.5 422.5,601.5 422.6,601.5 422.7,601.5 422.8,601.5 422.9,601.5 423,601.5 423.1,601.5 423.2,601.5 423.3,601.5 423.4,601.5 423.5,601.5 423.6,601.5 423.7,601.5 423.8,601.5 423.9,601.5 424,601.4 424.1,601.4 424.2,601.4 424.3,601.4 424.4,601.4 424.5,601.4 424.6,601.4 424.7,601.4 424.8,601.4 424.9,601.4 425,601.4 425.1,601.4 425.2,601.4 425.3,601.4 425.4,601.4 425.5,601.4 425.6,601.4 425.7,601.4 425.8,601.4 425.9,601.4 426,601.4 426.1,601.4 426.2,601.4 426.3,601.4 426.4,601.4 426.5,601.4 426.6,601.4 426.7,601.4 426.8,601.3 426.9,601.3 427,601.3 427.1,601.3 427.2,601.3 427.3,601.3 427.4,601.3 427.5,601.3 427.6,601.3 427.7,601.3 427.8,601.3 427.9,601.3 428,601.3 428.1,601.3 428.2,601.3 428.3,601.2 428.4,601.2 428.5,601.2 428.6,601.2 428.7,601.2 428.8,601.2 428.9,601.2 429,601.2 429.1,601.2 429.2,601.1 429.3,601.1 429.4,601.1 429.5,601.1 429.6,601.1 429.7,601.1 429.8,601.1 429.9,601 430,601 430.1,601 430.2,601 430.3,601 430.4,600.9 430.5,600.9 430.6,600.9 430.7,600.9 430.8,600.9 430.9,600.8 431,600.8 431.1,600.8 431.2,600.7 431.3,600.7 431.4,600.7 431.5,600.6 431.6,600.6 431.7,600.5 431.8,600.5 431.9,600.5 432,600.4 432.1,600.3 432.2,600.3 432.3,600.2 432.4,600.2 432.5,600.1 432.6,600 432.7,599.9 432.8,599.8 432.9,599.7 433,599.6 433.1,599.5 433.2,599.4 433.3,599.2 433.4,599 433.5,598.9 433.6,598.7 433.7,598.4 433.8,598.2 433.9,597.9 434,597.6 434.1,597.2 434.2,596.8 434.3,596.3 434.4,595.7 434.5,595 434.6,594.2 434.7,593.2 434.8,592.1 434.9,590.9 435,589.4 435.1,587.7 435.2,585.8 435.3,583.8 435.4,581.5 435.5,579.1 435.6,576.7 435.7,574.5 435.8,572.7 435.9,571.4 436,571 436.1,571.4 436.2,572.6 436.3,574.4 436.4,576.5 436.5,578.9 436.6,581.2 436.7,583.4 436.8,585.5 436.9,587.3 437,588.9 437.1,590.3 437.2,591.5 437.3,592.6 437.4,593.4 437.5,594.2 437.6,594.8 437.7,595.3 437.8,595.7 437.9,596.1 438,596.4 438.1,596.6 438.2,596.8 438.3,596.9 438.4,597 438.5,597.1 438.6,597.1 438.7,597.1 438.8,597.1 438.9,597 439,596.9 439.1,596.8 439.2,596.6 439.3,596.4 439.4,596.1 439.5,595.8 439.6,595.4 439.7,594.9 439.8,594.4 439.9,593.7 440,592.9 440.1,591.9 440.2,590.8 440.3,589.5 440.4,588 440.5,586.3 440.6,584.4 440.7,582.2 440.8,579.9 440.9,577.5 441,575.1 441.1,572.9 441.2,571.1 441.3,569.9 441.4,569.5 441.5,569.9 441.6,571.2 441.7,573 441.8,575.3 441.9,577.7 442,580.1 442.1,582.5 442.2,584.6 442.3,586.6 442.4,588.4 442.5,589.9 442.6,591.2 442.7,592.4 442.8,593.4 442.9,594.3 443,595 443.1,595.6 443.2,596.2 443.3,596.6 443.4,597 443.5,597.4 443.6,597.7 443.7,597.9 443.8,598.2 443.9,598.4 444,598.5 444.1,598.7 444.2,598.8 444.3,599 444.4,599.1 444.5,599.2 444.6,599.2 444.7,599.3 444.8,599.4 444.9,599.4 445,599.5 445.1,599.5 445.2,599.5 445.3,599.6 445.4,599.6 445.5,599.6 445.6,599.6 445.7,599.6 445.8,599.5 445.9,599.5 446,599.4 446.1,599.4 446.2,599.3 446.3,599.1 446.4,599 446.5,598.8 446.6,598.6 446.7,598.4 446.8,598.1 446.9,597.8 447,597.4 447.1,596.9 447.2,596.4 447.3,595.8 447.4,595.2 447.5,594.5 447.6,593.8 447.7,593.1 447.8,592.5 447.9,591.9 448,591.6 448.1,591.5 448.2,591.6 448.3,592 448.4,592.5 448.5,593.2 448.6,593.9 448.7,594.7 448.8,595.4 448.9,596 449,596.7 449.1,597.2 449.2,597.7 449.3,598.1 449.4,598.5 449.5,598.8 449.6,599.1 449.7,599.3 449.8,599.5 449.9,599.7 450,599.9 450.1,600 450.2,600.1 450.3,600.2 450.4,600.3 450.5,600.4 450.6,600.4 450.7,600.5 450.8,600.6 450.9,600.6 451,600.7 451.1,600.7 451.2,600.8 451.3,600.8 451.4,600.8 451.5,600.9 451.6,600.9 451.7,600.9 451.8,600.9 451.9,601 452,601 452.1,601 452.2,601 452.3,601 452.4,601.1 452.5,601.1 452.6,601.1 452.7,601.1 452.8,601.1 452.9,601.1 453,601.2 453.1,601.2 453.2,601.2 453.3,601.2 453.4,601.2 453.5,601.2 453.6,601.2 453.7,601.2 453.8,601.2 453.9,601.2 454,601.2 454.1,601.3 454.2,601.3 454.3,601.3 454.4,601.3 454.5,601.3 454.6,601.3 454.7,601.3 454.8,601.3 454.9,601.3 455,601.3 455.1,601.3 455.2,601.3 455.3,601.3 455.4,601.3 455.5,601.3 455.6,601.3 455.7,601.3 455.8,601.3 455.9,601.3 456,601.3 456.1,601.3 456.2,601.3 456.3,601.3 456.4,601.3 456.5,601.3 456.6,601.3 456.7,601.3 456.8,601.3 456.9,601.3 457,601.3 457.1,601.3 457.2,601.4 457.3,601.4 457.4,601.4 457.5,601.4 457.6,601.4 457.7,601.4 457.8,601.4 457.9,601.4 458,601.4 458.1,601.4 458.2,601.4 458.3,601.4 458.4,601.4 458.5,601.4 458.6,601.4 458.7,601.4 458.8,601.4 458.9,601.4 459,601.4 459.1,601.4 459.2,601.4 459.3,601.3 459.4,601.3 459.5,601.3 459.6,601.3 459.7,601.3 459.8,601.3 459.9,601.3 460,601.3 460.1,601.3 460.2,601.3 460.3,601.3 460.4,601.3 460.5,601.3 460.6,601.3 460.7,601.3 460.8,601.3 460.9,601.3 461,601.3 461.1,601.3 461.2,601.3 461.3,601.3 461.4,601.3 461.5,601.3 461.6,601.3 461.7,601.3 461.8,601.3 461.9,601.3 462,601.3 462.1,601.3 462.2,601.3 462.3,601.3 462.4,601.3 462.5,601.3 462.6,601.3 462.7,601.2 462.8,601.2 462.9,601.2 463,601.2 463.1,601.2 463.2,601.2 463.3,601.2 463.4,601.2 463.5,601.2 463.6,601.2 463.7,601.2 463.8,601.2 463.9,601.2 464,601.2 464.1,601.1 464.2,601.1 464.3,601.1 464.4,601.1 464.5,601.1 464.6,601.1 464.7,601.1 464.8,601.1 464.9,601 465,601 465.1,601 465.2,601 465.3,601 465.4,601 465.5,600.9 465.6,600.9 465.7,600.9 465.8,600.9 465.9,600.8 466,600.8 466.1,600.8 466.2,600.7 466.3,600.7 466.4,600.7 466.5,600.6 466.6,600.6 466.7,600.6 466.8,600.5 466.9,600.5 467,600.4 467.1,600.3 467.2,600.3 467.3,600.2 467.4,600.1 467.5,600 467.6,599.9 467.7,599.8 467.8,599.7 467.9,599.6 468,599.5 468.1,599.3 468.2,599.1 468.3,598.9 468.4,598.7 468.5,598.4 468.6,598.1 468.7,597.7 468.8,597.3 468.9,596.8 469,596.3 469.1,595.7 469.2,595 469.3,594.2 469.4,593.3 469.5,592.4 469.6,591.3 469.7,590.2 469.8,589 469.9,587.8 470,586.6 470.1,585.6 470.2,584.7 470.3,584.2 470.4,584 470.5,584.2 470.6,584.7 470.7,585.6 470.8,586.6 470.9,587.7 471,588.9 471.1,590.1 471.2,591.3 471.3,592.3 471.4,593.3 471.5,594.2 471.6,594.9 471.7,595.6 471.8,596.2 471.9,596.8 472,597.2 472.1,597.6 472.2,598 472.3,598.3 472.4,598.6 472.5,598.8 472.6,599 472.7,599.2 472.8,599.3 472.9,599.5 473,599.6 473.1,599.7 473.2,599.8 473.3,599.9 473.4,599.9 473.5,600 473.6,600.1 473.7,600.1 473.8,600.2 473.9,600.2 474,600.3 474.1,600.3 474.2,600.4 474.3,600.4 474.4,600.4 474.5,600.4 474.6,600.5 474.7,600.5 474.8,600.5 474.9,600.5 475,600.5 475.1,600.6 475.2,600.6 475.3,600.6 475.4,600.6 475.5,600.6 475.6,600.6 475.7,600.6 475.8,600.6 475.9,600.6 476,600.6 476.1,600.6 476.2,600.6 476.3,600.6 476.4,600.6 476.5,600.6 476.6,600.6 476.7,600.6 476.8,600.6 476.9,600.5 477,600.5 477.1,600.5 477.2,600.5 477.3,600.5 477.4,600.5 477.5,600.4 477.6,600.4 477.7,600.4 477.8,600.4 477.9,600.3 478,600.3 478.1,600.3 478.2,600.2 478.3,600.2 478.4,600.1 478.5,600.1 478.6,600 478.7,600 478.8,599.9 478.9,599.8 479,599.8 479.1,599.7 479.2,599.6 479.3,599.5 479.4,599.4 479.5,599.3 479.6,599.2 479.7,599 479.8,598.9 479.9,598.7 480,598.5 480.1,598.3 480.2,598.1 480.3,597.8 480.4,597.5 480.5,597.2 480.6,596.8 480.7,596.3 480.8,595.8 480.9,595.2 481,594.5 481.1,593.8 481.2,592.9 481.3,591.9 481.4,590.9 481.5,589.7 481.6,588.3 481.7,586.9 481.8,585.4 481.9,583.9 482,582.3 482.1,580.8 482.2,579.5 482.3,578.4 482.4,577.7 482.5,577.5 482.6,577.7 482.7,578.4 482.8,579.4 482.9,580.7 483,582.2 483.1,583.8 483.2,585.3 483.3,586.8 483.4,588.2 483.5,589.5 483.6,590.7 483.7,591.8 483.8,592.7 483.9,593.6 484,594.3 484.1,595 484.2,595.5 484.3,596 484.4,596.4 484.5,596.8 484.6,597.1 484.7,597.4 484.8,597.7 484.9,597.9 485,598 485.1,598.2 485.2,598.3 485.3,598.4 485.4,598.5 485.5,598.6 485.6,598.7 485.7,598.7 485.8,598.7 485.9,598.8 486,598.8 486.1,598.7 486.2,598.7 486.3,598.7 486.4,598.6 486.5,598.5 486.6,598.4 486.7,598.2 486.8,598.1 486.9,597.9 487,597.6 487.1,597.4 487.2,597 487.3,596.7 487.4,596.2 487.5,595.8 487.6,595.2 487.7,594.7 487.8,594 487.9,593.4 488,592.7 488.1,592 488.2,591.4 488.3,590.8 488.4,590.4 488.5,590.1 488.6,590 488.7,590.1 488.8,590.4 488.9,590.9 489,591.5 489.1,592.2 489.2,592.9 489.3,593.6 489.4,594.3 489.5,595 489.6,595.6 489.7,596.1 489.8,596.7 489.9,597.1 490,597.5 490.1,597.9 490.2,598.2 490.3,598.5 490.4,598.8 490.5,599 490.6,599.2 490.7,599.3 490.8,599.5 490.9,599.6 491,599.8 491.1,599.9 491.2,600 491.3,600 491.4,600.1 491.5,600.2 491.6,600.3 491.7,600.3 491.8,600.4 491.9,600.4 492,600.5 492.1,600.5 492.2,600.5 492.3,600.6 492.4,600.6 492.5,600.7 492.6,600.7 492.7,600.7 492.8,600.7 492.9,600.8 493,600.8 493.1,600.8 493.2,600.8 493.3,600.8 493.4,600.9 493.5,600.9 493.6,600.9 493.7,600.9 493.8,600.9 493.9,600.9 494,601 494.1,601 494.2,601 494.3,601 494.4,601 494.5,601 494.6,601 494.7,601 494.8,601 494.9,601.1 495,601.1 495.1,601.1 495.2,601.1 495.3,601.1 495.4,601.1 495.5,601.1 495.6,601.1 495.7,601.1 495.8,601.1 495.9,601.1 496,601.1 496.1,601.1 496.2,601.1 496.3,601.1 496.4,601.2 496.5,601.2 496.6,601.2 496.7,601.2 496.8,601.2 496.9,601.2 497,601.2 497.1,601.2 497.2,601.2 497.3,601.2 497.4,601.2 497.5,601.2 497.6,601.2 497.7,601.2 497.8,601.2 497.9,601.2 498,601.2 498.1,601.2 498.2,601.2 498.3,601.2 498.4,601.2 498.5,601.2 498.6,601.2 498.7,601.2 498.8,601.2 498.9,601.2 499,601.2 499.1,601.2 499.2,601.2 499.3,601.2 499.4,601.2 499.5,601.2 499.6,601.3 499.7,601.3 499.8,601.3 499.9,601.3 500,601.3 500.1,601.3 500.2,601.3 500.3,601.3 500.4,601.3 500.5,601.3 500.6,601.3 500.7,601.3 500.8,601.3 500.9,601.3 501,601.3 501.1,601.3 501.2,601.3 501.3,601.3 501.4,601.3 501.5,601.3 501.6,601.3 501.7,601.3 501.8,601.3 501.9,601.3 502,601.3 502.1,601.3 502.2,601.3 502.3,601.3 502.4,601.3 502.5,601.3 502.6,601.3 502.7,601.3 502.8,601.3 502.9,601.3 503,601.3 503.1,601.3 503.2,601.3 503.3,601.3 503.4,601.3 503.5,601.3 503.6,601.3 503.7,601.3 503.8,601.3 503.9,601.3 504,601.3 504.1,601.3 504.2,601.3 504.3,601.3 504.4,601.3 504.5,601.3 504.6,601.3 504.7,601.3 504.8,601.3 504.9,601.3 505,601.3 505.1,601.3 505.2,601.3 505.3,601.3 505.4,601.3 505.5,601.3 505.6,601.3 505.7,601.3 505.8,601.3 505.9,601.3 506,601.3 506.1,601.3 506.2,601.3 506.3,601.3 506.4,601.3 506.5,601.3 506.6,601.3 506.7,601.3 506.8,601.3 506.9,601.3 507,601.3 507.1,601.3 507.2,601.3 507.3,601.3 507.4,601.3 507.5,601.3 507.6,601.3 507.7,601.3 507.8,601.3 507.9,601.3 508,601.3 508.1,601.3 508.2,601.3 508.3,601.3 508.4,601.3 508.5,601.3"/>
</g>
<path fill="none" stroke="#000" stroke-width="1.9" d="M75.45 0.6H509V662H75.45ZM75.45 331.5H509M75.45 276.3h8M75.45 193.6h8M75.45 110.8h8M75.45 28.1h8M75.45 317.7h4.3M75.45 234.9h4.3M75.45 152.2h4.3M75.45 69.4h4.3M75.45 606.7h8M75.45 524.1h8M75.45 441.5h8M75.45 358.9h8M75.45 648h4.3M75.45 565.4h4.3M75.45 482.8h4.3M75.45 400.2h4.3M137.4 331.5v-8M199.3 331.5v-8M261.3 331.5v-8M323.2 331.5v-8M385.1 331.5v-8M447.1 331.5v-8M106.4 331.5v-4.3M168.4 331.5v-4.3M230.3 331.5v-4.3M292.2 331.5v-4.3M354.2 331.5v-4.3M416.1 331.5v-4.3M478 331.5v-4.3M137.4 662v-8M199.3 662v-8M261.3 662v-8M323.2 662v-8M385.1 662v-8M447.1 662v-8M106.4 662v-4.3M168.4 662v-4.3M230.3 662v-4.3M292.2 662v-4.3M354.2 662v-4.3M416.1 662v-4.3M478 662v-4.3"/>
<path stroke="#1414e0" stroke-width="3" d="M369 20H390.2"/>
<path stroke="#e01414" stroke-width="3" d="M370.8 45.5H392"/>
<g font-family="Liberation Sans, Arial, sans-serif" fill="#000" stroke="#000" stroke-width="0.3">
<text x="402.4" y="27.4" font-size="19.7">Monoclinic</text>
<text x="403.8" y="50.8" font-size="19.4">tetragonal</text>
<text x="93" y="31.9" font-size="24.5" font-weight="bold">S1</text>
<text x="91.8" y="366.1" font-size="24.5" font-weight="bold">S2</text>
<g font-size="21.5" text-anchor="end">
<text x="66.4" y="282.5">0.0</text>
<text x="66.4" y="199.8">3.0k</text>
<text x="66.4" y="117">6.0k</text>
<text x="66.4" y="34.3">9.0k</text>
<text x="66.4" y="612.5">0.0</text>
<text x="66.4" y="529.9">30.0k</text>
<text x="66.4" y="447.3">60.0k</text>
<text x="66.4" y="364.7">90.0k</text>
</g>
<g font-size="21.2" text-anchor="middle">
<text x="75.5" y="687.8">10</text>
<text x="137.4" y="687.8">20</text>
<text x="199.3" y="687.8">30</text>
<text x="261.3" y="687.8">40</text>
<text x="323.2" y="687.8">50</text>
<text x="385.1" y="687.8">60</text>
<text x="447.1" y="687.8">70</text>
<text x="509" y="687.8">80</text>
</g>
<text transform="translate(16.3 340.5) rotate(-90)" font-size="23.3" font-weight="bold">Intensity (Arb. units)</text>
<text x="279" y="727.5" font-size="24" font-weight="bold">2<tspan dx="1.2" font-weight="normal" font-family="Liberation Serif, serif">θ</tspan></text>
</g>
<g fill="#fff"><rect x="64.3" y="685.3" width="4.6" height="3.9"/><rect x="71.1" y="685.3" width="4.3" height="3.9"/><rect x="109.4" y="28.6" width="5.5" height="4.4"/><rect x="118.4" y="28.6" width="4.8" height="4.4"/></g>
</svg>
</body></html>
